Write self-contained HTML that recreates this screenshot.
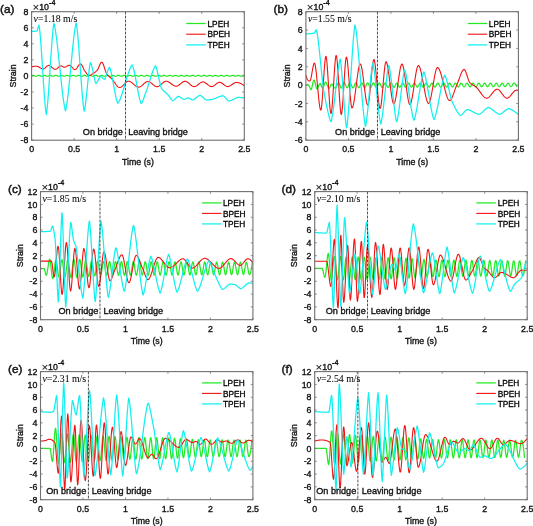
<!DOCTYPE html>
<html><head><meta charset="utf-8"><style>
html,body{margin:0;padding:0;background:#fff;}
svg{display:block;will-change:transform;}
.t{font-family:"Liberation Sans", sans-serif;font-size:8.80px;fill:#111;stroke:#111;stroke-width:0.35px;}
.ob{font-size:9.1px;}
.lg{font-family:"Liberation Sans", sans-serif;font-size:8.3px;fill:#000;stroke:#000;stroke-width:0.3px;}
.lab{font-family:"Liberation Sans", sans-serif;font-size:11.8px;fill:#111;stroke:#111;stroke-width:0.45px;}
.v{font-family:"Liberation Serif", serif;font-size:9.8px;fill:#000;stroke:#000;stroke-width:0.05px;}
</style></head><body>
<svg width="533" height="526" viewBox="0 0 533 526">
<rect width="533" height="526" fill="#fff"/>
<clipPath id="cpa"><rect x="31.60" y="11.70" width="212.70" height="128.50"/></clipPath>
<g clip-path="url(#cpa)" fill="none" stroke-linejoin="round" stroke-linecap="round">
<path d="M31.60,75.80 L31.95,75.63 L32.30,75.49 L32.65,75.39 L33.00,75.35 L33.35,75.38 L33.70,75.47 L34.05,75.61 L34.40,75.78 L34.75,75.95 L35.10,76.10 L35.45,76.20 L35.80,76.25 L36.15,76.23 L36.50,76.15 L36.85,76.01 L37.20,75.85 L37.55,75.68 L37.90,75.52 L38.25,75.41 L38.60,75.35 L38.95,75.36 L39.30,75.44 L39.65,75.56 L40.00,75.73 L40.35,75.90 L40.70,76.06 L41.05,76.18 L41.40,76.24 L41.75,76.24 L42.10,76.18 L42.45,76.06 L42.80,75.90 L43.15,75.73 L43.50,75.56 L43.85,75.44 L44.20,75.36 L44.55,75.35 L44.90,75.41 L45.25,75.52 L45.60,75.68 L45.95,75.85 L46.30,76.01 L46.65,76.15 L47.00,76.23 L47.35,76.25 L47.70,76.20 L48.05,76.10 L48.40,75.95 L48.75,75.78 L49.10,75.61 L49.45,75.47 L49.80,75.38 L50.15,75.35 L50.50,75.39 L50.85,75.49 L51.20,75.63 L51.55,75.80 L51.90,75.97 L52.25,76.11 L52.60,76.21 L52.95,76.25 L53.30,76.22 L53.65,76.13 L54.00,75.99 L54.35,75.82 L54.70,75.65 L55.05,75.50 L55.40,75.40 L55.75,75.35 L56.10,75.37 L56.45,75.45 L56.80,75.59 L57.15,75.75 L57.50,75.92 L57.85,76.08 L58.20,76.19 L58.55,76.25 L58.90,76.24 L59.25,76.16 L59.60,76.04 L59.95,75.87 L60.30,75.70 L60.65,75.54 L61.00,75.42 L61.35,75.36 L61.70,75.36 L62.05,75.42 L62.40,75.54 L62.75,75.70 L63.10,75.87 L63.45,76.04 L63.80,76.16 L64.15,76.24 L64.50,76.25 L64.85,76.19 L65.20,76.08 L65.55,75.92 L65.90,75.75 L66.25,75.59 L66.60,75.45 L66.95,75.37 L67.30,75.35 L67.65,75.40 L68.00,75.50 L68.35,75.65 L68.70,75.82 L69.05,75.99 L69.40,76.13 L69.75,76.22 L70.10,76.25 L70.45,76.21 L70.80,76.11 L71.15,75.97 L71.50,75.80 L71.85,75.63 L72.20,75.49 L72.55,75.39 L72.90,75.35 L73.25,75.38 L73.60,75.47 L73.95,75.61 L74.30,75.78 L74.65,75.95 L75.00,76.10 L75.35,76.20 L75.70,76.25 L76.05,76.23 L76.40,76.15 L76.75,76.01 L77.10,75.85 L77.45,75.68 L77.80,75.52 L78.15,75.41 L78.50,75.35 L78.85,75.36 L79.20,75.44 L79.55,75.56 L79.90,75.73 L80.25,75.90 L80.60,76.06 L80.95,76.18 L81.30,76.24 L81.65,76.24 L82.00,76.18 L82.35,76.06 L82.70,75.90 L83.05,75.73 L83.40,75.56 L83.75,75.44 L84.10,75.36 L84.45,75.35 L84.80,75.41 L85.15,75.52 L85.50,75.68 L85.85,75.85 L86.20,76.01 L86.55,76.15 L86.90,76.23 L87.25,76.25 L87.60,76.20 L87.95,76.10 L88.30,75.95 L88.65,75.78 L89.00,75.61 L89.35,75.47 L89.70,75.38 L90.05,75.35 L90.40,75.39 L90.75,75.49 L91.10,75.63 L91.45,75.80 L91.80,75.97 L92.15,76.11 L92.50,76.21 L92.85,76.25 L93.20,76.22 L93.55,76.13 L93.90,75.99 L94.25,75.82 L94.60,75.65 L94.95,75.50 L95.30,75.40 L95.65,75.35 L96.00,75.37 L96.35,75.45 L96.70,75.59 L97.05,75.75 L97.40,75.92 L97.75,76.08 L98.10,76.19 L98.45,76.25 L98.80,76.24 L99.15,76.16 L99.50,76.04 L99.85,75.87 L100.20,75.70 L100.55,75.54 L100.90,75.42 L101.25,75.36 L101.60,75.36 L101.95,75.42 L102.30,75.54 L102.65,75.70 L103.00,75.87 L103.35,76.04 L103.70,76.16 L104.05,76.24 L104.40,76.25 L104.75,76.19 L105.10,76.08 L105.45,75.92 L105.80,75.75 L106.15,75.59 L106.50,75.45 L106.85,75.37 L107.20,75.35 L107.55,75.40 L107.90,75.50 L108.25,75.65 L108.60,75.82 L108.95,75.99 L109.30,76.13 L109.65,76.22 L110.00,76.25 L110.35,76.21 L110.70,76.11 L111.05,75.97 L111.40,75.80 L111.75,75.63 L112.10,75.49 L112.45,75.39 L112.80,75.35 L113.15,75.38 L113.50,75.47 L113.85,75.61 L114.20,75.78 L114.55,75.95 L114.90,76.10 L115.25,76.20 L115.60,76.25 L115.95,76.23 L116.30,76.15 L116.65,76.01 L117.00,75.85 L117.35,75.68 L117.70,75.52 L118.05,75.41 L118.40,75.35 L118.75,75.36 L119.10,75.44 L119.45,75.56 L119.80,75.73 L120.15,75.90 L120.50,76.06 L120.85,76.18 L121.20,76.24 L121.55,76.24 L121.90,76.18 L122.25,76.06 L122.60,75.90 L122.95,75.73 L123.30,75.56 L123.65,75.44 L124.00,75.36 L124.35,75.35 L124.70,75.41 L125.05,75.52 L125.40,75.68 L125.75,75.85 L126.10,76.01 L126.45,76.15 L126.80,76.23 L127.15,76.25 L127.50,76.20 L127.85,76.10 L128.20,75.95 L128.55,75.78 L128.90,75.61 L129.25,75.47 L129.60,75.38 L129.95,75.35 L130.30,75.39 L130.65,75.49 L131.00,75.63 L131.35,75.80 L131.70,75.97 L132.05,76.11 L132.40,76.21 L132.75,76.25 L133.10,76.22 L133.45,76.13 L133.80,75.99 L134.15,75.82 L134.50,75.65 L134.85,75.50 L135.20,75.40 L135.55,75.35 L135.90,75.37 L136.25,75.45 L136.60,75.59 L136.95,75.75 L137.30,75.92 L137.65,76.08 L138.00,76.19 L138.35,76.25 L138.70,76.24 L139.05,76.16 L139.40,76.04 L139.75,75.87 L140.10,75.70 L140.45,75.54 L140.80,75.42 L141.15,75.36 L141.50,75.36 L141.85,75.42 L142.20,75.54 L142.55,75.70 L142.90,75.87 L143.25,76.04 L143.60,76.16 L143.95,76.24 L144.30,76.25 L144.65,76.19 L145.00,76.08 L145.35,75.92 L145.70,75.75 L146.05,75.59 L146.40,75.45 L146.75,75.37 L147.10,75.35 L147.45,75.40 L147.80,75.50 L148.15,75.65 L148.50,75.82 L148.85,75.99 L149.20,76.13 L149.55,76.22 L149.90,76.25 L150.25,76.21 L150.60,76.11 L150.95,75.97 L151.30,75.80 L151.65,75.63 L152.00,75.49 L152.35,75.39 L152.70,75.35 L153.05,75.38 L153.40,75.47 L153.75,75.61 L154.10,75.78 L154.45,75.95 L154.80,76.10 L155.15,76.20 L155.50,76.25 L155.85,76.23 L156.20,76.15 L156.55,76.01 L156.90,75.85 L157.25,75.68 L157.60,75.52 L157.95,75.41 L158.30,75.35 L158.65,75.36 L159.00,75.44 L159.35,75.56 L159.70,75.73 L160.05,75.90 L160.40,76.06 L160.75,76.18 L161.10,76.24 L161.45,76.24 L161.80,76.18 L162.15,76.06 L162.50,75.90 L162.85,75.73 L163.20,75.56 L163.55,75.44 L163.90,75.36 L164.25,75.35 L164.60,75.41 L164.95,75.52 L165.30,75.68 L165.65,75.85 L166.00,76.01 L166.35,76.15 L166.70,76.23 L167.05,76.25 L167.40,76.20 L167.75,76.10 L168.10,75.95 L168.45,75.78 L168.80,75.61 L169.15,75.47 L169.50,75.38 L169.85,75.35 L170.20,75.39 L170.55,75.49 L170.90,75.63 L171.25,75.80 L171.60,75.97 L171.95,76.11 L172.30,76.21 L172.65,76.25 L173.00,76.22 L173.35,76.13 L173.70,75.99 L174.05,75.82 L174.40,75.65 L174.75,75.50 L175.10,75.40 L175.45,75.35 L175.80,75.37 L176.15,75.45 L176.50,75.59 L176.85,75.75 L177.20,75.92 L177.55,76.08 L177.90,76.19 L178.25,76.25 L178.60,76.24 L178.95,76.16 L179.30,76.04 L179.65,75.87 L180.00,75.70 L180.35,75.54 L180.70,75.42 L181.05,75.36 L181.40,75.36 L181.75,75.42 L182.10,75.54 L182.45,75.70 L182.80,75.87 L183.15,76.04 L183.50,76.16 L183.85,76.24 L184.20,76.25 L184.55,76.19 L184.90,76.08 L185.25,75.92 L185.60,75.75 L185.95,75.59 L186.30,75.45 L186.65,75.37 L187.00,75.35 L187.35,75.40 L187.70,75.50 L188.05,75.65 L188.40,75.82 L188.75,75.99 L189.10,76.13 L189.45,76.22 L189.80,76.25 L190.15,76.21 L190.50,76.11 L190.85,75.97 L191.20,75.80 L191.55,75.63 L191.90,75.49 L192.25,75.39 L192.60,75.35 L192.95,75.38 L193.30,75.47 L193.65,75.61 L194.00,75.78 L194.35,75.95 L194.70,76.10 L195.05,76.20 L195.40,76.25 L195.75,76.23 L196.10,76.15 L196.45,76.01 L196.80,75.85 L197.15,75.68 L197.50,75.52 L197.85,75.41 L198.20,75.35 L198.55,75.36 L198.90,75.44 L199.25,75.56 L199.60,75.73 L199.95,75.90 L200.30,76.06 L200.65,76.18 L201.00,76.24 L201.35,76.24 L201.70,76.18 L202.05,76.06 L202.40,75.90 L202.75,75.73 L203.10,75.56 L203.45,75.44 L203.80,75.36 L204.15,75.35 L204.50,75.41 L204.85,75.52 L205.20,75.68 L205.55,75.85 L205.90,76.01 L206.25,76.15 L206.60,76.23 L206.95,76.25 L207.30,76.20 L207.65,76.10 L208.00,75.95 L208.35,75.78 L208.70,75.61 L209.05,75.47 L209.40,75.38 L209.75,75.35 L210.10,75.39 L210.45,75.49 L210.80,75.63 L211.15,75.80 L211.50,75.97 L211.85,76.11 L212.20,76.21 L212.55,76.25 L212.90,76.22 L213.25,76.13 L213.60,75.99 L213.95,75.82 L214.30,75.65 L214.65,75.50 L215.00,75.40 L215.35,75.35 L215.70,75.37 L216.05,75.45 L216.40,75.59 L216.75,75.75 L217.10,75.92 L217.45,76.08 L217.80,76.19 L218.15,76.25 L218.50,76.24 L218.85,76.16 L219.20,76.04 L219.55,75.87 L219.90,75.70 L220.25,75.54 L220.60,75.42 L220.95,75.36 L221.30,75.36 L221.65,75.42 L222.00,75.54 L222.35,75.70 L222.70,75.87 L223.05,76.04 L223.40,76.16 L223.75,76.24 L224.10,76.25 L224.45,76.19 L224.80,76.08 L225.15,75.92 L225.50,75.75 L225.85,75.59 L226.20,75.45 L226.55,75.37 L226.90,75.35 L227.25,75.40 L227.60,75.50 L227.95,75.65 L228.30,75.82 L228.65,75.99 L229.00,76.13 L229.35,76.22 L229.70,76.25 L230.05,76.21 L230.40,76.11 L230.75,75.97 L231.10,75.80 L231.45,75.63 L231.80,75.49 L232.15,75.39 L232.50,75.35 L232.85,75.38 L233.20,75.47 L233.55,75.61 L233.90,75.78 L234.25,75.95 L234.60,76.10 L234.95,76.20 L235.30,76.25 L235.65,76.23 L236.00,76.15 L236.35,76.01 L236.70,75.85 L237.05,75.68 L237.40,75.52 L237.75,75.41 L238.10,75.35 L238.45,75.36 L238.80,75.44 L239.15,75.56 L239.50,75.73 L239.85,75.90 L240.20,76.06 L240.55,76.18 L240.90,76.24 L241.25,76.24 L241.60,76.18 L241.95,76.06 L242.30,75.90 L242.65,75.73 L243.00,75.56 L243.35,75.44 L243.70,75.36 L244.05,75.35 L244.40,75.41 L244.75,75.52" stroke="#22ea22" stroke-width="1.25"/>
<path d="M31.60,67.00 L31.95,66.87 L32.30,66.75 L32.65,66.65 L33.00,66.56 L33.35,66.48 L33.70,66.41 L34.05,66.35 L34.40,66.30 L34.75,66.27 L35.10,66.24 L35.45,66.22 L35.80,66.20 L36.15,66.20 L36.50,66.21 L36.85,66.26 L37.20,66.35 L37.55,66.46 L37.90,66.59 L38.25,66.75 L38.60,66.92 L38.95,67.10 L39.30,67.29 L39.65,67.49 L40.00,67.69 L40.35,67.89 L40.70,68.08 L41.05,68.26 L41.40,68.42 L41.75,68.57 L42.10,68.69 L42.45,68.79 L42.80,68.86 L43.15,68.90 L43.50,68.89 L43.85,68.79 L44.20,68.63 L44.55,68.41 L44.90,68.14 L45.25,67.83 L45.60,67.49 L45.95,67.15 L46.30,66.81 L46.65,66.47 L47.00,66.16 L47.35,65.89 L47.70,65.67 L48.05,65.51 L48.40,65.41 L48.75,65.41 L49.10,65.46 L49.45,65.57 L49.80,65.73 L50.15,65.93 L50.50,66.16 L50.85,66.42 L51.20,66.71 L51.55,67.00 L51.90,67.31 L52.25,67.61 L52.60,67.91 L52.95,68.20 L53.30,68.46 L53.65,68.71 L54.00,68.92 L54.35,69.09 L54.70,69.21 L55.05,69.28 L55.40,69.30 L55.75,69.24 L56.10,69.12 L56.45,68.94 L56.80,68.72 L57.15,68.46 L57.50,68.17 L57.85,67.87 L58.20,67.56 L58.55,67.24 L58.90,66.94 L59.25,66.66 L59.60,66.41 L59.95,66.20 L60.30,66.04 L60.65,65.94 L61.00,65.90 L61.35,65.94 L61.70,66.05 L62.05,66.21 L62.40,66.40 L62.75,66.61 L63.10,66.81 L63.45,66.99 L63.80,67.12 L64.15,67.19 L64.50,67.19 L64.85,67.14 L65.20,67.04 L65.55,66.91 L65.90,66.76 L66.25,66.58 L66.60,66.39 L66.95,66.19 L67.30,66.00 L67.65,65.82 L68.00,65.65 L68.35,65.51 L68.70,65.40 L69.05,65.33 L69.40,65.30 L69.75,65.35 L70.10,65.48 L70.45,65.70 L70.80,65.97 L71.15,66.30 L71.50,66.66 L71.85,67.05 L72.20,67.45 L72.55,67.85 L72.90,68.24 L73.25,68.60 L73.60,68.93 L73.95,69.20 L74.30,69.42 L74.65,69.55 L75.00,69.60 L75.35,69.53 L75.70,69.35 L76.05,69.06 L76.40,68.68 L76.75,68.24 L77.10,67.74 L77.45,67.21 L77.80,66.67 L78.15,66.13 L78.50,65.61 L78.85,65.13 L79.20,64.70 L79.55,64.35 L79.90,64.09 L80.25,63.93 L80.60,63.91 L80.95,64.06 L81.30,64.37 L81.65,64.83 L82.00,65.41 L82.35,66.07 L82.70,66.79 L83.05,67.56 L83.40,68.33 L83.75,69.10 L84.10,69.82 L84.45,70.47 L84.80,71.03 L85.15,71.49 L85.50,71.95 L85.85,72.42 L86.20,72.89 L86.55,73.36 L86.90,73.81 L87.25,74.23 L87.60,74.60 L87.95,74.93 L88.30,75.19 L88.65,75.38 L89.00,75.48 L89.35,75.50 L89.70,75.45 L90.05,75.35 L90.40,75.22 L90.75,75.05 L91.10,74.86 L91.45,74.64 L91.80,74.41 L92.15,74.16 L92.50,73.92 L92.85,73.67 L93.20,73.43 L93.55,73.20 L93.90,72.97 L94.25,72.74 L94.60,72.50 L94.95,72.24 L95.30,71.97 L95.65,71.69 L96.00,71.39 L96.35,71.07 L96.70,70.73 L97.05,70.36 L97.40,69.95 L97.75,69.40 L98.10,68.73 L98.45,67.97 L98.80,67.15 L99.15,66.30 L99.50,65.46 L99.85,64.65 L100.20,63.91 L100.55,63.26 L100.90,62.74 L101.25,62.38 L101.60,62.21 L101.95,62.26 L102.30,62.56 L102.65,63.05 L103.00,63.73 L103.35,64.55 L103.70,65.49 L104.05,66.52 L104.40,67.60 L104.75,68.71 L105.10,69.81 L105.45,70.88 L105.80,71.88 L106.15,72.78 L106.50,73.56 L106.85,74.19 L107.20,74.65 L107.55,75.06 L107.90,75.43 L108.25,75.77 L108.60,76.09 L108.95,76.39 L109.30,76.67 L109.65,76.95 L110.00,77.22 L110.35,77.50 L110.70,77.79 L111.05,78.09 L111.40,78.41 L111.75,78.75 L112.10,79.14 L112.45,79.56 L112.80,80.00 L113.15,80.47 L113.50,80.97 L113.85,81.47 L114.20,81.99 L114.55,82.51 L114.90,83.03 L115.25,83.54 L115.60,84.04 L115.95,84.53 L116.30,85.00 L116.65,85.44 L117.00,85.86 L117.35,86.24 L117.70,86.57 L118.05,86.87 L118.40,87.11 L118.75,87.30 L119.10,87.43 L119.45,87.49 L119.80,87.49 L120.15,87.43 L120.50,87.32 L120.85,87.16 L121.20,86.96 L121.55,86.73 L121.90,86.46 L122.25,86.16 L122.60,85.84 L122.95,85.49 L123.30,85.14 L123.65,84.77 L124.00,84.40 L124.35,84.03 L124.70,83.66 L125.05,83.31 L125.40,82.96 L125.75,82.63 L126.10,82.33 L126.45,82.05 L126.80,81.80 L127.15,81.59 L127.50,81.42 L127.85,81.30 L128.20,81.22 L128.55,81.20 L128.90,81.23 L129.25,81.29 L129.60,81.39 L129.95,81.52 L130.30,81.69 L130.65,81.88 L131.00,82.09 L131.35,82.32 L131.70,82.58 L132.05,82.85 L132.40,83.13 L132.75,83.42 L133.10,83.72 L133.45,84.02 L133.80,84.32 L134.15,84.63 L134.50,84.92 L134.85,85.21 L135.20,85.49 L135.55,85.76 L135.90,86.01 L136.25,86.24 L136.60,86.45 L136.95,86.64 L137.30,86.80 L137.65,86.93 L138.00,87.02 L138.35,87.08 L138.70,87.10 L139.05,87.08 L139.40,87.01 L139.75,86.90 L140.10,86.75 L140.45,86.57 L140.80,86.36 L141.15,86.12 L141.50,85.86 L141.85,85.58 L142.20,85.29 L142.55,84.98 L142.90,84.66 L143.25,84.35 L143.60,84.03 L143.95,83.71 L144.30,83.40 L144.65,83.10 L145.00,82.82 L145.35,82.55 L145.70,82.31 L146.05,82.09 L146.40,81.90 L146.75,81.74 L147.10,81.62 L147.45,81.54 L147.80,81.50 L148.15,81.51 L148.50,81.56 L148.85,81.66 L149.20,81.79 L149.55,81.95 L149.90,82.14 L150.25,82.36 L150.60,82.60 L150.95,82.86 L151.30,83.14 L151.65,83.42 L152.00,83.72 L152.35,84.01 L152.70,84.31 L153.05,84.61 L153.40,84.90 L153.75,85.18 L154.10,85.45 L154.45,85.70 L154.80,85.94 L155.15,86.14 L155.50,86.32 L155.85,86.47 L156.20,86.59 L156.55,86.66 L156.90,86.70 L157.25,86.69 L157.60,86.63 L157.95,86.54 L158.30,86.40 L158.65,86.23 L159.00,86.03 L159.35,85.81 L159.70,85.56 L160.05,85.29 L160.40,85.00 L160.75,84.70 L161.10,84.40 L161.45,84.08 L161.80,83.77 L162.15,83.46 L162.50,83.15 L162.85,82.86 L163.20,82.57 L163.55,82.31 L163.90,82.06 L164.25,81.84 L164.60,81.64 L164.95,81.48 L165.30,81.35 L165.65,81.26 L166.00,81.21 L166.35,81.20 L166.70,81.24 L167.05,81.30 L167.40,81.40 L167.75,81.53 L168.10,81.68 L168.45,81.86 L168.80,82.05 L169.15,82.27 L169.50,82.50 L169.85,82.74 L170.20,82.99 L170.55,83.25 L170.90,83.51 L171.25,83.78 L171.60,84.04 L171.95,84.30 L172.30,84.56 L172.65,84.80 L173.00,85.04 L173.35,85.26 L173.70,85.46 L174.05,85.65 L174.40,85.81 L174.75,85.95 L175.10,86.06 L175.45,86.14 L175.80,86.19 L176.15,86.20 L176.50,86.17 L176.85,86.10 L177.20,85.99 L177.55,85.85 L177.90,85.68 L178.25,85.48 L178.60,85.26 L178.95,85.01 L179.30,84.76 L179.65,84.48 L180.00,84.20 L180.35,83.92 L180.70,83.63 L181.05,83.34 L181.40,83.06 L181.75,82.78 L182.10,82.52 L182.45,82.28 L182.80,82.05 L183.15,81.85 L183.50,81.67 L183.85,81.52 L184.20,81.41 L184.55,81.34 L184.90,81.30 L185.25,81.31 L185.60,81.36 L185.95,81.46 L186.30,81.59 L186.65,81.75 L187.00,81.94 L187.35,82.16 L187.70,82.40 L188.05,82.66 L188.40,82.94 L188.75,83.22 L189.10,83.52 L189.45,83.82 L189.80,84.12 L190.15,84.42 L190.50,84.72 L190.85,85.00 L191.20,85.28 L191.55,85.53 L191.90,85.77 L192.25,85.99 L192.60,86.17 L192.95,86.33 L193.30,86.46 L193.65,86.55 L194.00,86.59 L194.35,86.60 L194.70,86.56 L195.05,86.47 L195.40,86.36 L195.75,86.21 L196.10,86.03 L196.45,85.82 L196.80,85.59 L197.15,85.35 L197.50,85.08 L197.85,84.81 L198.20,84.53 L198.55,84.25 L198.90,83.97 L199.25,83.69 L199.60,83.42 L199.95,83.15 L200.30,82.91 L200.65,82.68 L201.00,82.47 L201.35,82.29 L201.70,82.14 L202.05,82.03 L202.40,81.94 L202.75,81.90 L203.10,81.91 L203.45,81.95 L203.80,82.04 L204.15,82.16 L204.50,82.32 L204.85,82.50 L205.20,82.71 L205.55,82.94 L205.90,83.19 L206.25,83.45 L206.60,83.73 L206.95,84.01 L207.30,84.29 L207.65,84.57 L208.00,84.85 L208.35,85.12 L208.70,85.38 L209.05,85.63 L209.40,85.85 L209.75,86.05 L210.10,86.23 L210.45,86.38 L210.80,86.49 L211.15,86.56 L211.50,86.60 L211.85,86.59 L212.20,86.53 L212.55,86.43 L212.90,86.30 L213.25,86.13 L213.60,85.93 L213.95,85.70 L214.30,85.46 L214.65,85.20 L215.00,84.93 L215.35,84.65 L215.70,84.37 L216.05,84.09 L216.40,83.81 L216.75,83.55 L217.10,83.30 L217.45,83.06 L217.80,82.86 L218.15,82.67 L218.50,82.52 L218.85,82.41 L219.20,82.33 L219.55,82.30 L219.90,82.32 L220.25,82.38 L220.60,82.48 L220.95,82.62 L221.30,82.79 L221.65,82.99 L222.00,83.21 L222.35,83.45 L222.70,83.71 L223.05,83.98 L223.40,84.25 L223.75,84.53 L224.10,84.81 L224.45,85.08 L224.80,85.34 L225.15,85.59 L225.50,85.82 L225.85,86.03 L226.20,86.21 L226.55,86.36 L226.90,86.48 L227.25,86.56 L227.60,86.60 L227.95,86.59 L228.30,86.54 L228.65,86.46 L229.00,86.35 L229.35,86.21 L229.70,86.04 L230.05,85.85 L230.40,85.64 L230.75,85.42 L231.10,85.18 L231.45,84.94 L231.80,84.69 L232.15,84.44 L232.50,84.19 L232.85,83.95 L233.20,83.71 L233.55,83.49 L233.90,83.28 L234.25,83.09 L234.60,82.92 L234.95,82.77 L235.30,82.65 L235.65,82.57 L236.00,82.51 L236.35,82.50 L236.70,82.51 L237.05,82.53 L237.40,82.56 L237.75,82.61 L238.10,82.66 L238.45,82.73 L238.80,82.82 L239.15,82.91 L239.50,83.02 L239.85,83.14 L240.20,83.27 L240.55,83.42 L240.90,83.58 L241.25,83.75 L241.60,83.94 L241.95,84.14 L242.30,84.35 L242.65,84.57 L243.00,84.81 L243.35,85.06 L243.70,85.33 L244.05,85.61 L244.40,85.90" stroke="#f21212" stroke-width="1.10"/>
<path d="M31.60,31.50 L31.95,31.48 L32.30,31.47 L32.65,31.45 L33.00,31.43 L33.35,31.40 L33.70,31.38 L34.05,31.35 L34.40,31.32 L34.75,31.29 L35.10,31.25 L35.45,31.21 L35.80,31.17 L36.15,31.12 L36.50,31.07 L36.85,31.02 L37.20,30.62 L37.55,29.61 L37.90,28.35 L38.25,27.04 L38.60,25.88 L38.95,25.07 L39.30,26.90 L39.65,29.70 L40.00,33.05 L40.35,36.90 L40.70,41.18 L41.05,45.82 L41.40,50.76 L41.75,55.93 L42.10,61.28 L42.45,66.72 L42.80,72.20 L43.15,77.65 L43.50,83.01 L43.85,88.21 L44.20,93.19 L44.55,97.88 L44.90,102.21 L45.25,106.13 L45.60,109.56 L45.95,112.44 L46.30,114.70 L46.65,112.49 L47.00,109.69 L47.35,106.38 L47.70,102.59 L48.05,98.41 L48.40,93.87 L48.75,89.05 L49.10,84.00 L49.45,78.79 L49.80,73.46 L50.15,68.08 L50.50,62.71 L50.85,57.41 L51.20,52.23 L51.55,47.24 L51.90,42.50 L52.25,38.06 L52.60,33.98 L52.95,30.33 L53.30,27.15 L53.65,24.52 L54.00,23.35 L54.35,24.75 L54.70,26.39 L55.05,28.26 L55.40,30.35 L55.75,32.63 L56.10,35.09 L56.45,37.71 L56.80,40.48 L57.15,43.39 L57.50,46.41 L57.85,49.53 L58.20,52.73 L58.55,56.01 L58.90,59.34 L59.25,62.70 L59.60,66.08 L59.95,69.47 L60.30,72.85 L60.65,76.20 L61.00,79.50 L61.35,82.75 L61.70,85.92 L62.05,89.00 L62.40,91.97 L62.75,94.82 L63.10,97.53 L63.45,100.09 L63.80,102.47 L64.15,104.67 L64.50,106.66 L64.85,108.44 L65.20,109.98 L65.55,110.91 L65.90,109.41 L66.25,107.62 L66.60,105.57 L66.95,103.26 L67.30,100.73 L67.65,97.99 L68.00,95.07 L68.35,91.97 L68.70,88.73 L69.05,85.37 L69.40,81.90 L69.75,78.34 L70.10,74.73 L70.45,71.06 L70.80,67.38 L71.15,63.69 L71.50,60.02 L71.85,56.38 L72.20,52.81 L72.55,49.31 L72.90,45.92 L73.25,42.64 L73.60,39.50 L73.95,36.53 L74.30,33.73 L74.65,31.14 L75.00,28.77 L75.35,26.64 L75.70,24.77 L76.05,23.19 L76.40,23.69 L76.75,26.02 L77.10,28.83 L77.45,32.08 L77.80,35.72 L78.15,39.69 L78.50,43.95 L78.85,48.45 L79.20,53.14 L79.55,57.97 L79.90,62.90 L80.25,67.86 L80.60,72.82 L80.95,77.72 L81.30,82.52 L81.65,87.16 L82.00,91.59 L82.35,95.78 L82.70,99.66 L83.05,103.19 L83.40,106.32 L83.75,109.00 L84.10,111.18 L84.45,110.69 L84.80,108.88 L85.15,106.67 L85.50,104.10 L85.85,101.24 L86.20,98.14 L86.55,94.85 L86.90,91.44 L87.25,87.95 L87.60,84.45 L87.95,80.99 L88.30,77.62 L88.65,74.41 L89.00,71.40 L89.35,68.66 L89.70,66.23 L90.05,64.19 L90.40,62.57 L90.75,62.71 L91.10,63.63 L91.45,64.78 L91.80,66.12 L92.15,67.61 L92.50,69.21 L92.85,70.88 L93.20,72.60 L93.55,74.33 L93.90,76.02 L94.25,77.65 L94.60,79.17 L94.95,80.55 L95.30,81.76 L95.65,82.75 L96.00,83.50 L96.35,83.19 L96.70,82.76 L97.05,82.24 L97.40,81.64 L97.75,80.98 L98.10,80.30 L98.45,79.60 L98.80,78.91 L99.15,78.25 L99.50,77.65 L99.85,77.11 L100.20,76.67 L100.55,76.34 L100.90,76.44 L101.25,76.68 L101.60,76.98 L101.95,77.32 L102.30,77.69 L102.65,78.06 L103.00,78.43 L103.35,78.77 L103.70,79.08 L104.05,79.33 L104.40,79.50 L104.75,79.03 L105.10,78.39 L105.45,77.62 L105.80,76.73 L106.15,75.76 L106.50,74.72 L106.85,73.66 L107.20,72.58 L107.55,71.53 L107.90,70.52 L108.25,69.58 L108.60,68.73 L108.95,68.02 L109.30,67.45 L109.65,67.51 L110.00,68.39 L110.35,69.45 L110.70,70.68 L111.05,72.07 L111.40,73.58 L111.75,75.21 L112.10,76.94 L112.45,78.75 L112.80,80.62 L113.15,82.53 L113.50,84.47 L113.85,86.41 L114.20,88.35 L114.55,90.25 L114.90,92.12 L115.25,93.91 L115.60,95.63 L115.95,97.24 L116.30,98.74 L116.65,100.10 L117.00,101.31 L117.35,102.35 L117.70,103.20 L118.05,103.08 L118.40,102.57 L118.75,101.99 L119.10,101.34 L119.45,100.64 L119.80,99.87 L120.15,99.05 L120.50,98.18 L120.85,97.27 L121.20,96.31 L121.55,95.31 L121.90,94.27 L122.25,93.20 L122.60,92.11 L122.95,90.98 L123.30,89.84 L123.65,88.68 L124.00,87.50 L124.35,86.32 L124.70,85.12 L125.05,83.93 L125.40,82.73 L125.75,81.54 L126.10,80.36 L126.45,79.19 L126.80,78.03 L127.15,76.89 L127.50,75.78 L127.85,74.69 L128.20,73.63 L128.55,72.60 L128.90,71.61 L129.25,70.67 L129.60,69.76 L129.95,68.91 L130.30,68.10 L130.65,67.35 L131.00,66.67 L131.35,66.04 L131.70,65.48 L132.05,64.99 L132.40,65.22 L132.75,66.10 L133.10,67.15 L133.45,68.35 L133.80,69.70 L134.15,71.17 L134.50,72.75 L134.85,74.43 L135.20,76.18 L135.55,78.00 L135.90,79.87 L136.25,81.78 L136.60,83.70 L136.95,85.63 L137.30,87.54 L137.65,89.43 L138.00,91.29 L138.35,93.08 L138.70,94.80 L139.05,96.44 L139.40,97.97 L139.75,99.39 L140.10,100.68 L140.45,101.82 L140.80,102.80 L141.15,103.60 L141.50,103.32 L141.85,102.77 L142.20,102.12 L142.55,101.37 L142.90,100.54 L143.25,99.66 L143.60,98.71 L143.95,97.73 L144.30,96.73 L144.65,95.71 L145.00,94.69 L145.35,93.69 L145.70,92.72 L146.05,91.78 L146.40,90.86 L146.75,89.89 L147.10,88.88 L147.45,87.84 L147.80,86.77 L148.15,85.67 L148.50,84.56 L148.85,83.44 L149.20,82.31 L149.55,81.17 L149.90,80.04 L150.25,78.91 L150.60,77.79 L150.95,76.69 L151.30,75.60 L151.65,74.55 L152.00,73.52 L152.35,72.52 L152.70,71.57 L153.05,70.66 L153.40,69.79 L153.75,68.98 L154.10,68.23 L154.45,67.54 L154.80,66.92 L155.15,66.37 L155.50,65.90 L155.85,66.60 L156.20,67.49 L156.55,68.56 L156.90,69.77 L157.25,71.11 L157.60,72.55 L157.95,74.07 L158.30,75.65 L158.65,77.25 L159.00,78.86 L159.35,80.46 L159.70,82.01 L160.05,83.51 L160.40,84.91 L160.75,86.21 L161.10,87.37 L161.45,88.37 L161.80,88.88 L162.15,89.29 L162.50,89.68 L162.85,90.06 L163.20,90.41 L163.55,90.75 L163.90,91.08 L164.25,91.39 L164.60,91.70 L164.95,92.01 L165.30,92.31 L165.65,92.61 L166.00,92.91 L166.35,93.22 L166.70,93.53 L167.05,93.86 L167.40,94.20 L167.75,94.55 L168.10,94.96 L168.45,95.42 L168.80,95.90 L169.15,96.41 L169.50,96.92 L169.85,97.44 L170.20,97.95 L170.55,98.44 L170.90,98.92 L171.25,99.36 L171.60,99.77 L171.95,100.13 L172.30,100.43 L172.65,100.67 L173.00,100.58 L173.35,100.39 L173.70,100.17 L174.05,99.91 L174.40,99.62 L174.75,99.31 L175.10,98.98 L175.45,98.65 L175.80,98.31 L176.15,97.97 L176.50,97.65 L176.85,97.34 L177.20,97.05 L177.55,96.80 L177.90,96.58 L178.25,96.40 L178.60,96.33 L178.95,96.45 L179.30,96.61 L179.65,96.80 L180.00,97.01 L180.35,97.24 L180.70,97.49 L181.05,97.74 L181.40,98.00 L181.75,98.25 L182.10,98.49 L182.45,98.72 L182.80,98.93 L183.15,99.12 L183.50,99.27 L183.85,99.39 L184.20,99.34 L184.55,99.25 L184.90,99.14 L185.25,99.01 L185.60,98.86 L185.95,98.72 L186.30,98.56 L186.65,98.41 L187.00,98.27 L187.35,98.14 L187.70,98.03 L188.05,97.95 L188.40,97.92 L188.75,98.03 L189.10,98.18 L189.45,98.36 L189.80,98.55 L190.15,98.76 L190.50,98.98 L190.85,99.20 L191.20,99.40 L191.55,99.60 L191.90,99.76 L192.25,99.90 L192.60,100.00 L192.95,99.88 L193.30,99.74 L193.65,99.57 L194.00,99.37 L194.35,99.15 L194.70,98.91 L195.05,98.66 L195.40,98.40 L195.75,98.13 L196.10,97.85 L196.45,97.57 L196.80,97.29 L197.15,97.02 L197.50,96.75 L197.85,96.49 L198.20,96.25 L198.55,96.02 L198.90,95.82 L199.25,95.63 L199.60,95.47 L199.95,95.35 L200.30,95.37 L200.65,95.53 L201.00,95.73 L201.35,95.96 L201.70,96.21 L202.05,96.49 L202.40,96.79 L202.75,97.10 L203.10,97.42 L203.45,97.74 L203.80,98.06 L204.15,98.38 L204.50,98.68 L204.85,98.97 L205.20,99.24 L205.55,99.48 L205.90,99.69 L206.25,99.86 L206.60,100.00 L206.95,99.98 L207.30,99.96 L207.65,99.94 L208.00,99.92 L208.35,99.89 L208.70,99.86 L209.05,99.83 L209.40,99.79 L209.75,99.76 L210.10,99.72 L210.45,99.68 L210.80,99.64 L211.15,99.60 L211.50,99.56 L211.85,99.52 L212.20,99.45 L212.55,99.36 L212.90,99.26 L213.25,99.15 L213.60,99.03 L213.95,98.91 L214.30,98.78 L214.65,98.65 L215.00,98.51 L215.35,98.37 L215.70,98.23 L216.05,98.08 L216.40,97.93 L216.75,97.78 L217.10,97.63 L217.45,97.48 L217.80,97.33 L218.15,97.18 L218.50,97.03 L218.85,96.89 L219.20,96.75 L219.55,96.62 L219.90,96.49 L220.25,96.36 L220.60,96.25 L220.95,96.14 L221.30,96.03 L221.65,95.94 L222.00,95.86 L222.35,95.78 L222.70,95.72 L223.05,95.81 L223.40,96.00 L223.75,96.24 L224.10,96.51 L224.45,96.82 L224.80,97.15 L225.15,97.50 L225.50,97.86 L225.85,98.24 L226.20,98.61 L226.55,98.99 L226.90,99.35 L227.25,99.70 L227.60,100.03 L227.95,100.33 L228.30,100.60 L228.65,100.83 L229.00,101.02 L229.35,101.07 L229.70,100.98 L230.05,100.88 L230.40,100.76 L230.75,100.63 L231.10,100.49 L231.45,100.33 L231.80,100.17 L232.15,99.99 L232.50,99.81 L232.85,99.63 L233.20,99.44 L233.55,99.25 L233.90,99.06 L234.25,98.87 L234.60,98.69 L234.95,98.51 L235.30,98.33 L235.65,98.17 L236.00,98.01 L236.35,97.87 L236.70,97.74 L237.05,97.62 L237.40,97.52 L237.75,97.43 L238.10,97.41 L238.45,97.42 L238.80,97.43 L239.15,97.45 L239.50,97.46 L239.85,97.48 L240.20,97.50 L240.55,97.52 L240.90,97.54 L241.25,97.56 L241.60,97.59 L241.95,97.62 L242.30,97.65 L242.65,97.68 L243.00,97.72 L243.35,97.76 L243.70,97.80 L244.05,97.85 L244.40,97.90 L244.75,97.96 L245.00,98.00" stroke="#10f0f0" stroke-width="1.25"/>
</g>
<line x1="125.53" y1="11.70" x2="125.53" y2="140.20" stroke="#222" stroke-width="0.8" stroke-dasharray="2.7,1.3"/>
<path d="M31.60,140.20v-2.20M31.60,11.70v2.20M74.14,140.20v-2.20M74.14,11.70v2.20M116.68,140.20v-2.20M116.68,11.70v2.20M159.22,140.20v-2.20M159.22,11.70v2.20M201.76,140.20v-2.20M201.76,11.70v2.20M244.30,140.20v-2.20M244.30,11.70v2.20M31.60,140.20h2.20M244.30,140.20h-2.20M31.60,124.14h2.20M244.30,124.14h-2.20M31.60,108.08h2.20M244.30,108.08h-2.20M31.60,92.01h2.20M244.30,92.01h-2.20M31.60,75.95h2.20M244.30,75.95h-2.20M31.60,59.89h2.20M244.30,59.89h-2.20M31.60,43.83h2.20M244.30,43.83h-2.20M31.60,27.76h2.20M244.30,27.76h-2.20M31.60,11.70h2.20M244.30,11.70h-2.20" stroke="#777" stroke-width="0.8" fill="none"/>
<rect x="31.60" y="11.70" width="212.70" height="128.50" fill="none" stroke="#707070" stroke-width="1.1"/>
<text x="31.60" y="152.10" text-anchor="middle" class="t">0</text>
<text x="74.14" y="152.10" text-anchor="middle" class="t">0.5</text>
<text x="116.68" y="152.10" text-anchor="middle" class="t">1</text>
<text x="159.22" y="152.10" text-anchor="middle" class="t">1.5</text>
<text x="201.76" y="152.10" text-anchor="middle" class="t">2</text>
<text x="244.30" y="152.10" text-anchor="middle" class="t">2.5</text>
<text x="28.40" y="143.40" text-anchor="end" class="t">-8</text>
<text x="28.40" y="127.34" text-anchor="end" class="t">-6</text>
<text x="28.40" y="111.28" text-anchor="end" class="t">-4</text>
<text x="28.40" y="95.21" text-anchor="end" class="t">-2</text>
<text x="28.40" y="79.15" text-anchor="end" class="t">0</text>
<text x="28.40" y="63.09" text-anchor="end" class="t">2</text>
<text x="28.40" y="47.03" text-anchor="end" class="t">4</text>
<text x="28.40" y="30.96" text-anchor="end" class="t">6</text>
<text x="28.40" y="14.90" text-anchor="end" class="t">8</text>
<text x="137.95" y="164.80" text-anchor="middle" class="t">Time (s)</text>
<text transform="translate(16.00,75.95) rotate(-90)" text-anchor="middle" class="t">Strain</text>
<text x="32.50" y="9.70" class="t"><tspan font-size="11.5" dy="1.5" style="stroke-width:0.1px">&#215;</tspan><tspan dy="-1.5">10</tspan><tspan dy="-4.6" font-size="7.2">-4</tspan></text>
<text x="0.00" y="12.80" class="lab">(a)</text>
<text x="33.60" y="21.90" class="v"><tspan font-style="italic">v</tspan>=1.18 m/s</text>
<text x="122.80" y="134.60" text-anchor="end" class="t ob">On bridge</text>
<text x="128.20" y="134.60" class="t ob">Leaving bridge</text>
<line x1="186.20" y1="23.50" x2="205.70" y2="23.50" stroke="#22ea22" stroke-width="1.25"/>
<text x="207.50" y="26.60" class="lg">LPEH</text>
<line x1="186.20" y1="34.20" x2="205.70" y2="34.20" stroke="#f21212" stroke-width="1.10"/>
<text x="207.50" y="37.30" class="lg">BPEH</text>
<line x1="186.20" y1="44.90" x2="205.70" y2="44.90" stroke="#10f0f0" stroke-width="1.25"/>
<text x="207.50" y="48.00" class="lg">TPEH</text>
<clipPath id="cpb"><rect x="305.90" y="11.70" width="212.50" height="128.50"/></clipPath>
<g clip-path="url(#cpb)" fill="none" stroke-linejoin="round" stroke-linecap="round">
<path d="M305.90,84.60 L306.25,84.61 L306.60,84.63 L306.95,84.67 L307.30,84.72 L307.65,84.79 L308.00,84.87 L308.35,84.96 L308.70,85.13 L309.05,85.67 L309.40,86.46 L309.75,87.39 L310.10,88.30 L310.45,89.06 L310.80,89.52 L311.15,89.53 L311.50,88.89 L311.85,87.72 L312.20,86.22 L312.55,84.56 L312.90,82.93 L313.25,81.50 L313.60,80.47 L313.95,80.01 L314.30,80.25 L314.65,81.07 L315.00,82.31 L315.35,83.78 L315.70,85.33 L316.05,86.79 L316.40,87.97 L316.75,88.72 L317.10,88.88 L317.45,88.58 L317.80,87.97 L318.15,87.16 L318.50,86.25 L318.85,85.34 L319.20,84.53 L319.55,83.92 L319.90,83.62 L320.25,83.72 L320.60,84.21 L320.95,84.96 L321.30,85.85 L321.65,86.74 L322.00,87.49 L322.35,87.98 L322.70,88.08 L323.05,87.74 L323.40,87.05 L323.75,86.13 L324.10,85.10 L324.45,84.07 L324.80,83.15 L325.15,82.46 L325.50,82.12 L325.85,82.20 L326.20,82.63 L326.55,83.32 L326.90,84.19 L327.25,85.16 L327.60,86.14 L327.95,87.05 L328.30,87.80 L328.65,88.31 L329.00,88.50 L329.35,88.28 L329.70,87.70 L330.05,86.89 L330.40,85.99 L330.75,85.13 L331.10,84.44 L331.45,84.04 L331.80,84.04 L332.15,84.29 L332.50,84.71 L332.85,85.26 L333.20,85.87 L333.55,86.50 L333.90,87.09 L334.25,87.59 L334.60,87.94 L334.95,88.10 L335.30,88.01 L335.65,87.70 L336.00,87.21 L336.35,86.60 L336.70,85.91 L337.05,85.19 L337.40,84.50 L337.75,83.87 L338.10,83.36 L338.45,83.02 L338.80,82.90 L339.15,83.20 L339.50,83.97 L339.85,85.02 L340.20,86.14 L340.55,87.16 L340.90,87.88 L341.25,88.10 L341.60,87.84 L341.95,87.26 L342.30,86.45 L342.65,85.54 L343.00,84.60 L343.35,83.76 L343.70,83.10 L344.05,82.74 L344.40,82.77 L344.75,83.18 L345.10,83.87 L345.45,84.72 L345.80,85.65 L346.15,86.53 L346.50,87.26 L346.85,87.74 L347.20,87.85 L347.55,87.57 L347.90,86.98 L348.25,86.17 L348.60,85.27 L348.95,84.37 L349.30,83.58 L349.65,83.00 L350.00,82.74 L350.35,82.89 L350.70,83.38 L351.05,84.11 L351.40,84.98 L351.75,85.88 L352.10,86.71 L352.45,87.37 L352.80,87.75 L353.15,87.75 L353.50,87.37 L353.85,86.72 L354.20,85.90 L354.55,85.00 L354.90,84.14 L355.25,83.41 L355.60,82.93 L355.95,82.78 L356.30,83.03 L356.65,83.59 L357.00,84.35 L357.35,85.22 L357.70,86.10 L358.05,86.87 L358.40,87.45 L358.75,87.72 L359.10,87.61 L359.45,87.16 L359.80,86.46 L360.15,85.62 L360.50,84.74 L360.85,83.93 L361.20,83.27 L361.55,82.88 L361.90,82.85 L362.25,83.19 L362.60,83.81 L362.95,84.60 L363.30,85.46 L363.65,86.30 L364.00,87.01 L364.35,87.50 L364.70,87.67 L365.05,87.45 L365.40,86.93 L365.75,86.20 L366.10,85.35 L366.45,84.50 L366.80,83.74 L367.15,83.16 L367.50,82.87 L367.85,82.95 L368.20,83.37 L368.55,84.03 L368.90,84.84 L369.25,85.68 L369.60,86.48 L369.95,87.12 L370.30,87.52 L370.65,87.58 L371.00,87.27 L371.35,86.69 L371.70,85.93 L372.05,85.10 L372.40,84.28 L372.75,83.57 L373.10,83.08 L373.45,82.90 L373.80,83.08 L374.15,83.57 L374.50,84.26 L374.85,85.07 L375.20,85.89 L375.55,86.64 L375.90,87.21 L376.25,87.51 L376.60,87.46 L376.95,87.07 L377.30,86.45 L377.65,85.68 L378.00,84.85 L378.35,84.08 L378.70,83.44 L379.05,83.03 L379.40,82.95 L379.75,83.22 L380.10,83.77 L380.45,84.49 L380.80,85.29 L381.15,86.08 L381.50,86.77 L381.85,87.27 L382.20,87.47 L382.55,87.32 L382.90,86.86 L383.25,86.20 L383.60,85.42 L383.95,84.62 L384.30,83.89 L384.65,83.32 L385.00,83.01 L385.35,83.03 L385.70,83.38 L386.05,83.97 L386.40,84.71 L386.75,85.50 L387.10,86.26 L387.45,86.88 L387.80,87.29 L388.15,87.40 L388.50,87.15 L388.85,86.64 L389.20,85.96 L389.55,85.18 L389.90,84.41 L390.25,83.73 L390.60,83.24 L390.95,83.02 L391.30,83.14 L391.65,83.56 L392.00,84.18 L392.35,84.93 L392.70,85.70 L393.05,86.41 L393.40,86.97 L393.75,87.29 L394.10,87.30 L394.45,86.97 L394.80,86.42 L395.15,85.71 L395.50,84.95 L395.85,84.21 L396.20,83.59 L396.55,83.18 L396.90,83.05 L397.25,83.27 L397.60,83.74 L397.95,84.39 L398.30,85.14 L398.65,85.88 L399.00,86.54 L399.35,87.03 L399.70,87.27 L400.05,87.17 L400.40,86.78 L400.75,86.19 L401.10,85.47 L401.45,84.72 L401.80,84.02 L402.15,83.46 L402.50,83.13 L402.85,83.11 L403.20,83.40 L403.55,83.92 L403.90,84.60 L404.25,85.34 L404.60,86.06 L404.95,86.68 L405.30,87.10 L405.65,87.24 L406.00,87.05 L406.35,86.60 L406.70,85.97 L407.05,85.24 L407.40,84.50 L407.75,83.84 L408.10,83.35 L408.45,83.09 L408.80,83.17 L409.15,83.53 L409.50,84.10 L409.85,84.80 L410.20,85.54 L410.55,86.23 L410.90,86.79 L411.25,87.14 L411.60,87.18 L411.95,86.92 L412.30,86.41 L412.65,85.75 L413.00,85.01 L413.35,84.30 L413.70,83.68 L414.05,83.25 L414.40,83.09 L414.75,83.25 L415.10,83.68 L415.45,84.29 L415.80,85.00 L416.15,85.72 L416.50,86.38 L416.85,86.88 L417.20,87.15 L417.55,87.10 L417.90,86.76 L418.25,86.21 L418.60,85.52 L418.95,84.79 L419.30,84.10 L419.65,83.54 L420.00,83.18 L420.35,83.11 L420.70,83.35 L421.05,83.84 L421.40,84.48 L421.75,85.19 L422.10,85.90 L422.45,86.52 L422.80,86.96 L423.15,87.14 L423.50,87.00 L423.85,86.59 L424.20,86.00 L424.55,85.30 L424.90,84.58 L425.25,83.92 L425.60,83.41 L425.95,83.13 L426.30,83.15 L426.65,83.47 L427.00,84.00 L427.35,84.67 L427.70,85.38 L428.05,86.07 L428.40,86.64 L428.75,87.01 L429.10,87.10 L429.45,86.88 L429.80,86.41 L430.15,85.79 L430.50,85.08 L430.85,84.38 L431.20,83.76 L431.55,83.31 L431.90,83.11 L432.25,83.22 L432.60,83.61 L432.95,84.18 L433.30,84.86 L433.65,85.57 L434.00,86.22 L434.35,86.74 L434.70,87.03 L435.05,87.03 L435.40,86.74 L435.75,86.22 L436.10,85.57 L436.45,84.86 L436.80,84.18 L437.15,83.61 L437.50,83.23 L437.85,83.12 L438.20,83.31 L438.55,83.75 L438.90,84.36 L439.25,85.05 L439.60,85.74 L439.95,86.36 L440.30,86.81 L440.65,87.03 L441.00,86.94 L441.35,86.58 L441.70,86.02 L442.05,85.35 L442.40,84.65 L442.75,84.00 L443.10,83.48 L443.45,83.17 L443.80,83.15 L444.15,83.42 L444.50,83.91 L444.85,84.54 L445.20,85.24 L445.55,85.91 L445.90,86.48 L446.25,86.87 L446.60,87.01 L446.95,86.83 L447.30,86.41 L447.65,85.82 L448.00,85.14 L448.35,84.45 L448.70,83.84 L449.05,83.37 L449.40,83.14 L449.75,83.20 L450.10,83.54 L450.45,84.08 L450.80,84.73 L451.15,85.42 L451.50,86.06 L451.85,86.59 L452.20,86.91 L452.55,86.95 L452.90,86.70 L453.25,86.23 L453.60,85.61 L453.95,84.93 L454.30,84.26 L454.65,83.69 L455.00,83.28 L455.35,83.13 L455.70,83.28 L456.05,83.68 L456.40,84.25 L456.75,84.91 L457.10,85.59 L457.45,86.20 L457.80,86.67 L458.15,86.92 L458.50,86.88 L458.85,86.56 L459.20,86.04 L459.55,85.40 L459.90,84.72 L460.25,84.08 L460.60,83.55 L460.95,83.22 L461.30,83.15 L461.65,83.38 L462.00,83.83 L462.35,84.43 L462.70,85.09 L463.05,85.75 L463.40,86.33 L463.75,86.74 L464.10,86.91 L464.45,86.78 L464.80,86.40 L465.15,85.84 L465.50,85.19 L465.85,84.52 L466.20,83.91 L466.55,83.44 L466.90,83.17 L467.25,83.19 L467.60,83.49 L467.95,83.99 L468.30,84.61 L468.65,85.27 L469.00,85.91 L469.35,86.44 L469.70,86.78 L470.05,86.87 L470.40,86.66 L470.75,86.23 L471.10,85.64 L471.45,84.99 L471.80,84.33 L472.15,83.76 L472.50,83.34 L472.85,83.15 L473.20,83.26 L473.55,83.62 L473.90,84.15 L474.25,84.78 L474.60,85.44 L474.95,86.05 L475.30,86.53 L475.65,86.80 L476.00,86.80 L476.35,86.53 L476.70,86.05 L477.05,85.44 L477.40,84.79 L477.75,84.15 L478.10,83.62 L478.45,83.27 L478.80,83.16 L479.15,83.34 L479.50,83.75 L479.85,84.32 L480.20,84.96 L480.55,85.60 L480.90,86.17 L481.25,86.60 L481.60,86.80 L481.95,86.72 L482.30,86.38 L482.65,85.86 L483.00,85.24 L483.35,84.59 L483.70,83.99 L484.05,83.50 L484.40,83.21 L484.75,83.19 L485.10,83.44 L485.45,83.90 L485.80,84.49 L486.15,85.13 L486.50,85.75 L486.85,86.29 L487.20,86.65 L487.55,86.77 L487.90,86.61 L488.25,86.22 L488.60,85.67 L488.95,85.04 L489.30,84.40 L489.65,83.83 L490.00,83.40 L490.35,83.18 L490.70,83.24 L491.05,83.56 L491.40,84.06 L491.75,84.66 L492.10,85.30 L492.45,85.89 L492.80,86.38 L493.15,86.68 L493.50,86.72 L493.85,86.49 L494.20,86.05 L494.55,85.48 L494.90,84.84 L495.25,84.22 L495.60,83.69 L495.95,83.32 L496.30,83.18 L496.65,83.32 L497.00,83.69 L497.35,84.21 L497.70,84.83 L498.05,85.46 L498.40,86.02 L498.75,86.46 L499.10,86.69 L499.45,86.65 L499.80,86.35 L500.15,85.87 L500.50,85.28 L500.85,84.65 L501.20,84.06 L501.55,83.57 L501.90,83.26 L502.25,83.19 L502.60,83.41 L502.95,83.82 L503.30,84.38 L503.65,85.00 L504.00,85.61 L504.35,86.14 L504.70,86.52 L505.05,86.67 L505.40,86.55 L505.75,86.20 L506.10,85.69 L506.45,85.09 L506.80,84.47 L507.15,83.90 L507.50,83.46 L507.85,83.22 L508.20,83.24 L508.55,83.51 L508.90,83.97 L509.25,84.54 L509.60,85.16 L509.95,85.75 L510.30,86.23 L510.65,86.55 L511.00,86.63 L511.35,86.44 L511.70,86.04 L512.05,85.50 L512.40,84.90 L512.75,84.29 L513.10,83.76 L513.45,83.37 L513.80,83.20 L514.15,83.23 L514.50,83.36 L514.85,83.59 L515.20,83.92 L515.55,84.35 L515.90,84.87 L516.25,85.49 L516.60,86.21 L516.78,86.61" stroke="#22ea22" stroke-width="1.25"/>
<path d="M305.90,75.10 L306.25,76.41 L306.60,77.51 L306.95,78.44 L307.30,79.19 L307.65,79.79 L308.00,80.25 L308.35,80.60 L308.70,80.84 L309.05,80.99 L309.40,81.07 L309.75,81.10 L310.10,80.88 L310.45,80.12 L310.80,78.92 L311.15,77.36 L311.50,75.54 L311.85,73.56 L312.20,71.51 L312.55,69.49 L312.90,67.59 L313.25,65.91 L313.60,64.54 L313.95,63.58 L314.30,63.13 L314.65,63.31 L315.00,64.26 L315.35,65.91 L315.70,68.14 L316.05,70.88 L316.40,74.02 L316.75,77.49 L317.10,81.18 L317.45,85.00 L317.80,88.85 L318.15,92.66 L318.50,96.32 L318.85,99.75 L319.20,102.84 L319.55,105.51 L319.90,107.67 L320.25,109.22 L320.60,110.06 L320.95,110.06 L321.30,108.75 L321.65,106.21 L322.00,102.65 L322.35,98.29 L322.70,93.33 L323.05,87.98 L323.40,82.46 L323.75,76.96 L324.10,71.70 L324.45,66.89 L324.80,62.74 L325.15,59.45 L325.50,57.24 L325.85,56.32 L326.20,56.87 L326.55,58.86 L326.90,62.05 L327.25,66.22 L327.60,71.16 L327.95,76.63 L328.30,82.42 L328.65,88.31 L329.00,94.08 L329.35,99.49 L329.70,104.33 L330.05,108.38 L330.40,111.41 L330.75,113.20 L331.10,113.54 L331.45,112.37 L331.80,109.89 L332.15,106.32 L332.50,101.87 L332.85,96.74 L333.20,91.16 L333.55,85.34 L333.90,79.49 L334.25,73.81 L334.60,68.54 L334.95,63.87 L335.30,60.03 L335.65,57.22 L336.00,55.65 L336.35,55.55 L336.70,56.99 L337.05,59.78 L337.40,63.68 L337.75,68.46 L338.10,73.90 L338.45,79.76 L338.80,85.82 L339.15,91.85 L339.50,97.61 L339.85,102.88 L340.20,107.44 L340.55,111.04 L340.90,113.47 L341.25,114.48 L341.60,113.93 L341.95,111.94 L342.30,108.74 L342.65,104.56 L343.00,99.62 L343.35,94.13 L343.70,88.33 L344.05,82.43 L344.40,76.66 L344.75,71.24 L345.10,66.39 L345.45,62.33 L345.80,59.30 L346.15,57.50 L346.50,57.15 L346.85,58.03 L347.20,59.92 L347.55,62.66 L347.90,66.10 L348.25,70.09 L348.60,74.49 L348.95,79.15 L349.30,83.91 L349.65,88.63 L350.00,93.16 L350.35,97.35 L350.70,101.04 L351.05,104.10 L351.40,106.37 L351.75,107.70 L352.10,107.98 L352.45,107.63 L352.80,106.85 L353.15,105.70 L353.50,104.21 L353.85,102.42 L354.20,100.36 L354.55,98.09 L354.90,95.64 L355.25,93.04 L355.60,90.35 L355.95,87.59 L356.30,84.81 L356.65,82.04 L357.00,79.34 L357.35,76.72 L357.70,74.25 L358.05,71.95 L358.40,69.86 L358.75,68.03 L359.10,66.49 L359.45,65.29 L359.80,64.46 L360.15,64.04 L360.50,64.09 L360.85,64.63 L361.20,65.63 L361.55,67.04 L361.90,68.81 L362.25,70.89 L362.60,73.23 L362.95,75.77 L363.30,78.47 L363.65,81.27 L364.00,84.14 L364.35,87.01 L364.70,89.84 L365.05,92.58 L365.40,95.17 L365.75,97.57 L366.10,99.72 L366.45,101.58 L366.80,103.10 L367.15,104.23 L367.50,104.91 L367.85,105.09 L368.20,104.54 L368.55,103.20 L368.90,101.19 L369.25,98.60 L369.60,95.53 L369.95,92.10 L370.30,88.40 L370.65,84.54 L371.00,80.62 L371.35,76.74 L371.70,73.02 L372.05,69.54 L372.40,66.42 L372.75,63.75 L373.10,61.65 L373.45,60.21 L373.80,59.54 L374.15,59.73 L374.50,60.79 L374.85,62.60 L375.20,65.06 L375.55,68.06 L375.90,71.51 L376.25,75.28 L376.60,79.28 L376.95,83.41 L377.30,87.55 L377.65,91.59 L378.00,95.44 L378.35,98.99 L378.70,102.13 L379.05,104.76 L379.40,106.77 L379.75,108.05 L380.10,108.50 L380.45,108.03 L380.80,106.68 L381.15,104.58 L381.50,101.85 L381.85,98.59 L382.20,94.93 L382.55,90.99 L382.90,86.88 L383.25,82.72 L383.60,78.63 L383.95,74.72 L384.30,71.12 L384.65,67.93 L385.00,65.28 L385.35,63.28 L385.70,62.05 L386.05,61.71 L386.40,62.02 L386.75,62.80 L387.10,63.98 L387.45,65.53 L387.80,67.40 L388.15,69.55 L388.50,71.93 L388.85,74.48 L389.20,77.18 L389.55,79.97 L389.90,82.80 L390.25,85.63 L390.60,88.42 L390.95,91.12 L391.30,93.67 L391.65,96.05 L392.00,98.20 L392.35,100.07 L392.70,101.62 L393.05,102.80 L393.40,103.58 L393.75,103.89 L394.10,103.74 L394.45,103.19 L394.80,102.26 L395.15,101.01 L395.50,99.47 L395.85,97.67 L396.20,95.65 L396.55,93.45 L396.90,91.10 L397.25,88.65 L397.60,86.14 L397.95,83.59 L398.30,81.04 L398.65,78.54 L399.00,76.11 L399.35,73.81 L399.70,71.66 L400.05,69.70 L400.40,67.96 L400.75,66.50 L401.10,65.34 L401.45,64.51 L401.80,64.07 L402.15,64.04 L402.50,64.47 L402.85,65.31 L403.20,66.52 L403.55,68.07 L403.90,69.90 L404.25,71.98 L404.60,74.27 L404.95,76.72 L405.30,79.30 L405.65,81.95 L406.00,84.63 L406.35,87.32 L406.70,89.95 L407.05,92.49 L407.40,94.90 L407.75,97.13 L408.10,99.15 L408.45,100.91 L408.80,102.36 L409.15,103.47 L409.50,104.20 L409.85,104.50 L410.20,104.36 L410.55,103.85 L410.90,103.01 L411.25,101.86 L411.60,100.44 L411.95,98.79 L412.30,96.93 L412.65,94.89 L413.00,92.72 L413.35,90.44 L413.70,88.09 L414.05,85.69 L414.40,83.28 L414.75,80.90 L415.10,78.57 L415.45,76.33 L415.80,74.21 L416.15,72.25 L416.50,70.47 L416.85,68.92 L417.20,67.61 L417.55,66.59 L417.90,65.89 L418.25,65.54 L418.60,65.54 L418.95,65.82 L419.30,66.33 L419.65,67.07 L420.00,68.01 L420.35,69.13 L420.70,70.41 L421.05,71.85 L421.40,73.41 L421.75,75.08 L422.10,76.84 L422.45,78.68 L422.80,80.57 L423.15,82.50 L423.50,84.45 L423.85,86.40 L424.20,88.33 L424.55,90.22 L424.90,92.06 L425.25,93.82 L425.60,95.49 L425.95,97.05 L426.30,98.49 L426.65,99.77 L427.00,100.89 L427.35,101.83 L427.70,102.57 L428.05,103.08 L428.40,103.36 L428.75,103.37 L429.10,103.07 L429.45,102.48 L429.80,101.62 L430.15,100.51 L430.50,99.19 L430.85,97.68 L431.20,96.00 L431.55,94.18 L431.90,92.25 L432.25,90.24 L432.60,88.16 L432.95,86.05 L433.30,83.94 L433.65,81.84 L434.00,79.79 L434.35,77.81 L434.70,75.92 L435.05,74.16 L435.40,72.55 L435.75,71.12 L436.10,69.89 L436.45,68.88 L436.80,68.13 L437.15,67.66 L437.50,67.50 L437.85,67.58 L438.20,67.82 L438.55,68.20 L438.90,68.72 L439.25,69.37 L439.60,70.14 L439.95,71.01 L440.30,71.98 L440.65,73.04 L441.00,74.19 L441.35,75.40 L441.70,76.67 L442.05,77.99 L442.40,79.35 L442.75,80.75 L443.10,82.16 L443.45,83.59 L443.80,85.02 L444.15,86.45 L444.50,87.85 L444.85,89.24 L445.20,90.58 L445.55,91.88 L445.90,93.13 L446.25,94.31 L446.60,95.42 L446.95,96.44 L447.30,97.38 L447.65,98.21 L448.00,98.92 L448.35,99.52 L448.70,99.98 L449.05,100.30 L449.40,100.47 L449.75,100.49 L450.10,100.36 L450.45,100.10 L450.80,99.72 L451.15,99.23 L451.50,98.65 L451.85,97.97 L452.20,97.22 L452.55,96.40 L452.90,95.53 L453.25,94.61 L453.60,93.65 L453.95,92.67 L454.30,91.67 L454.65,90.66 L455.00,89.67 L455.35,88.69 L455.70,87.73 L456.05,86.81 L456.40,85.94 L456.75,85.13 L457.10,84.36 L457.45,83.54 L457.80,82.66 L458.15,81.74 L458.50,80.78 L458.85,79.80 L459.20,78.80 L459.55,77.81 L459.90,76.82 L460.25,75.85 L460.60,74.90 L460.95,74.00 L461.30,73.15 L461.65,72.36 L462.00,71.64 L462.35,71.00 L462.70,70.45 L463.05,70.01 L463.40,69.68 L463.75,69.47 L464.10,69.40 L464.45,69.52 L464.80,69.87 L465.15,70.42 L465.50,71.13 L465.85,71.99 L466.20,72.95 L466.55,74.00 L466.90,75.11 L467.25,76.23 L467.60,77.36 L467.95,78.45 L468.30,79.47 L468.65,80.41 L469.00,81.23 L469.35,81.90 L469.70,82.40 L470.05,82.78 L470.40,83.13 L470.75,83.45 L471.10,83.75 L471.45,84.02 L471.80,84.28 L472.15,84.52 L472.50,84.75 L472.85,84.97 L473.20,85.18 L473.55,85.39 L473.90,85.60 L474.25,85.81 L474.60,86.03 L474.95,86.26 L475.30,86.50 L475.65,86.76 L476.00,87.03 L476.35,87.33 L476.70,87.66 L477.05,88.02 L477.40,88.40 L477.75,88.81 L478.10,89.24 L478.45,89.69 L478.80,90.15 L479.15,90.62 L479.50,91.10 L479.85,91.59 L480.20,92.08 L480.55,92.58 L480.90,93.06 L481.25,93.55 L481.60,94.02 L481.95,94.49 L482.30,94.94 L482.65,95.37 L483.00,95.79 L483.35,96.18 L483.70,96.54 L484.05,96.88 L484.40,97.18 L484.75,97.45 L485.10,97.69 L485.45,97.88 L485.80,98.03 L486.15,98.14 L486.50,98.19 L486.85,98.19 L487.20,98.14 L487.55,98.03 L487.90,97.87 L488.25,97.67 L488.60,97.42 L488.95,97.14 L489.30,96.82 L489.65,96.47 L490.00,96.09 L490.35,95.69 L490.70,95.28 L491.05,94.85 L491.40,94.40 L491.75,93.96 L492.10,93.51 L492.45,93.06 L492.80,92.62 L493.15,92.18 L493.50,91.77 L493.85,91.36 L494.20,90.98 L494.55,90.63 L494.90,90.31 L495.25,90.02 L495.60,89.76 L495.95,89.55 L496.30,89.39 L496.65,89.27 L497.00,89.21 L497.35,89.21 L497.70,89.27 L498.05,89.40 L498.40,89.58 L498.75,89.82 L499.10,90.10 L499.45,90.43 L499.80,90.79 L500.15,91.19 L500.50,91.62 L500.85,92.06 L501.20,92.53 L501.55,93.01 L501.90,93.49 L502.25,93.98 L502.60,94.46 L502.95,94.94 L503.30,95.40 L503.65,95.85 L504.00,96.27 L504.35,96.66 L504.70,97.02 L505.05,97.34 L505.40,97.62 L505.75,97.85 L506.10,98.03 L506.45,98.14 L506.80,98.20 L507.15,98.18 L507.50,98.11 L507.85,97.98 L508.20,97.80 L508.55,97.58 L508.90,97.31 L509.25,97.00 L509.60,96.67 L509.95,96.30 L510.30,95.91 L510.65,95.50 L511.00,95.08 L511.35,94.65 L511.70,94.21 L512.05,93.77 L512.40,93.34 L512.75,92.92 L513.10,92.50 L513.45,92.11 L513.80,91.74 L514.15,91.39 L514.50,91.07 L514.85,90.80 L515.20,90.56 L515.55,90.36 L515.90,90.22 L516.25,90.13 L516.60,90.10 L516.95,90.12 L517.30,90.17 L517.65,90.25 L518.00,90.36 L518.35,90.48 L518.40,90.50" stroke="#f21212" stroke-width="1.10"/>
<path d="M305.90,33.90 L306.25,33.89 L306.60,33.87 L306.95,33.85 L307.30,33.84 L307.65,33.82 L308.00,33.80 L308.35,33.78 L308.70,33.75 L309.05,33.73 L309.40,33.70 L309.75,33.67 L310.10,33.65 L310.45,33.61 L310.80,33.58 L311.15,33.55 L311.50,33.51 L311.85,33.47 L312.20,33.43 L312.55,33.39 L312.90,33.35 L313.25,33.30 L313.60,33.26 L313.95,33.21 L314.30,32.90 L314.65,32.41 L315.00,31.82 L315.35,31.20 L315.70,30.62 L316.05,30.13 L316.40,29.80 L316.75,31.28 L317.10,33.09 L317.45,35.19 L317.80,37.56 L318.15,40.17 L318.50,42.98 L318.85,45.98 L319.20,49.13 L319.55,52.41 L319.90,55.78 L320.25,59.22 L320.60,62.70 L320.95,66.19 L321.30,69.66 L321.65,73.08 L322.00,76.43 L322.35,79.68 L322.70,82.79 L323.05,85.75 L323.40,88.51 L323.75,91.06 L324.10,92.91 L324.45,94.69 L324.80,96.49 L325.15,98.29 L325.50,100.09 L325.85,101.88 L326.20,103.65 L326.55,105.40 L326.90,107.11 L327.25,108.78 L327.60,110.40 L327.95,111.97 L328.30,113.47 L328.65,114.89 L329.00,116.24 L329.35,117.50 L329.70,118.66 L330.05,119.72 L330.40,120.66 L330.75,121.49 L331.10,121.68 L331.45,120.37 L331.80,118.79 L332.15,116.97 L332.50,114.91 L332.85,112.66 L333.20,110.22 L333.55,107.63 L333.90,104.91 L334.25,102.07 L334.60,99.14 L334.95,96.15 L335.30,93.12 L335.65,90.06 L336.00,87.01 L336.35,83.99 L336.70,81.01 L337.05,78.11 L337.40,75.30 L337.75,72.61 L338.10,70.06 L338.45,67.68 L338.80,65.48 L339.15,63.49 L339.50,61.73 L339.85,60.23 L340.20,59.00 L340.55,61.04 L340.90,63.69 L341.25,66.88 L341.60,70.53 L341.95,74.56 L342.30,78.91 L342.65,83.49 L343.00,88.23 L343.35,93.06 L343.70,97.90 L344.05,102.67 L344.40,107.30 L344.75,111.72 L345.10,115.85 L345.45,119.62 L345.80,122.95 L346.15,125.76 L346.50,127.98 L346.85,126.96 L347.20,124.32 L347.55,121.18 L347.90,117.57 L348.25,113.55 L348.60,109.17 L348.95,104.48 L349.30,99.53 L349.65,94.36 L350.00,89.03 L350.35,83.59 L350.70,78.08 L351.05,72.56 L351.40,67.07 L351.75,61.67 L352.10,56.40 L352.45,51.32 L352.80,46.47 L353.15,41.91 L353.50,37.68 L353.85,33.83 L354.20,30.41 L354.55,27.48 L354.90,25.08 L355.25,25.69 L355.60,27.66 L355.95,29.96 L356.30,32.57 L356.65,35.45 L357.00,38.60 L357.35,41.98 L357.70,45.56 L358.05,49.33 L358.40,53.26 L358.75,57.31 L359.10,61.48 L359.45,65.72 L359.80,70.02 L360.15,74.36 L360.50,78.70 L360.85,83.03 L361.20,87.31 L361.55,91.52 L361.90,95.64 L362.25,99.64 L362.60,103.50 L362.95,107.20 L363.30,110.70 L363.65,113.98 L364.00,117.02 L364.35,119.79 L364.70,122.27 L365.05,124.43 L365.40,126.25 L365.75,125.60 L366.10,123.67 L366.45,121.34 L366.80,118.65 L367.15,115.64 L367.50,112.38 L367.85,108.89 L368.20,105.23 L368.55,101.45 L368.90,97.58 L369.25,93.69 L369.60,89.80 L369.95,85.98 L370.30,82.26 L370.65,78.69 L371.00,75.33 L371.35,72.21 L371.70,69.38 L372.05,66.88 L372.40,64.78 L372.75,63.10 L373.10,64.07 L373.45,65.76 L373.80,67.78 L374.15,70.09 L374.50,72.65 L374.85,75.43 L375.20,78.41 L375.55,81.53 L375.90,84.78 L376.25,88.12 L376.60,91.50 L376.95,94.91 L377.30,98.30 L377.65,101.65 L378.00,104.91 L378.35,108.05 L378.70,111.05 L379.05,113.86 L379.40,116.46 L379.75,118.81 L380.10,120.87 L380.45,122.61 L380.80,124.00 L381.15,122.66 L381.50,120.99 L381.85,119.00 L382.20,116.74 L382.55,114.25 L382.90,111.54 L383.25,108.66 L383.60,105.63 L383.95,102.49 L384.30,99.27 L384.65,96.01 L385.00,92.73 L385.35,89.47 L385.70,86.26 L386.05,83.13 L386.40,80.12 L386.75,77.26 L387.10,74.58 L387.45,72.12 L387.80,69.90 L388.15,67.96 L388.50,66.33 L388.85,65.37 L389.20,66.73 L389.55,68.43 L389.90,70.43 L390.25,72.69 L390.60,75.19 L390.95,77.88 L391.30,80.75 L391.65,83.75 L392.00,86.85 L392.35,90.03 L392.70,93.24 L393.05,96.46 L393.40,99.64 L393.75,102.77 L394.10,105.81 L394.45,108.71 L394.80,111.46 L395.15,114.02 L395.50,116.35 L395.85,118.43 L396.20,120.22 L396.55,121.68 L396.90,121.56 L397.25,120.19 L397.60,118.53 L397.95,116.61 L398.30,114.47 L398.65,112.13 L399.00,109.62 L399.35,106.97 L399.70,104.20 L400.05,101.36 L400.40,98.46 L400.75,95.53 L401.10,92.61 L401.45,89.72 L401.80,86.90 L402.15,84.16 L402.50,81.55 L402.85,79.08 L403.20,76.79 L403.55,74.71 L403.90,72.87 L404.25,71.29 L404.60,70.01 L404.95,70.38 L405.30,71.53 L405.65,72.89 L406.00,74.45 L406.35,76.17 L406.70,78.06 L407.05,80.08 L407.40,82.22 L407.75,84.45 L408.10,86.78 L408.45,89.16 L408.80,91.59 L409.15,94.04 L409.50,96.51 L409.85,98.96 L410.20,101.38 L410.55,103.76 L410.90,106.07 L411.25,108.30 L411.60,110.42 L411.95,112.42 L412.30,114.28 L412.65,115.99 L413.00,117.51 L413.35,118.85 L413.70,119.96 L414.05,120.15 L414.40,119.20 L414.75,118.06 L415.10,116.76 L415.45,115.30 L415.80,113.71 L416.15,112.00 L416.50,110.17 L416.85,108.25 L417.20,106.25 L417.55,104.18 L417.90,102.06 L418.25,99.90 L418.60,97.72 L418.95,95.52 L419.30,93.33 L419.65,91.16 L420.00,89.02 L420.35,86.93 L420.70,84.90 L421.05,82.94 L421.40,81.07 L421.75,79.31 L422.10,77.66 L422.45,76.15 L422.80,74.78 L423.15,73.57 L423.50,72.54 L423.85,71.91 L424.20,72.76 L424.55,73.79 L424.90,74.97 L425.25,76.30 L425.60,77.76 L425.95,79.35 L426.30,81.04 L426.65,82.82 L427.00,84.69 L427.35,86.62 L427.70,88.62 L428.05,90.65 L428.40,92.72 L428.75,94.80 L429.10,96.89 L429.45,98.98 L429.80,101.04 L430.15,103.07 L430.50,105.06 L430.85,106.98 L431.20,108.84 L431.55,110.61 L431.90,112.29 L432.25,113.85 L432.60,115.30 L432.95,116.61 L433.30,117.77 L433.65,118.77 L434.00,119.60 L434.35,118.88 L434.70,118.01 L435.05,117.00 L435.40,115.88 L435.75,114.64 L436.10,113.29 L436.45,111.85 L436.80,110.33 L437.15,108.73 L437.50,107.07 L437.85,105.35 L438.20,103.59 L438.55,101.79 L438.90,99.97 L439.25,98.14 L439.60,96.30 L439.95,94.47 L440.30,92.65 L440.65,90.86 L441.00,89.10 L441.35,87.39 L441.70,85.74 L442.05,84.15 L442.40,82.64 L442.75,81.21 L443.10,79.88 L443.45,78.65 L443.80,77.54 L444.15,76.56 L444.50,75.71 L444.85,75.18 L445.20,75.86 L445.55,76.68 L445.90,77.63 L446.25,78.71 L446.60,79.88 L446.95,81.15 L447.30,82.50 L447.65,83.91 L448.00,85.37 L448.35,86.87 L448.70,88.40 L449.05,89.94 L449.40,91.47 L449.75,92.99 L450.10,94.49 L450.45,95.94 L450.80,97.33 L451.15,98.66 L451.50,99.90 L451.85,101.05 L452.20,102.00 L452.55,102.70 L452.90,103.40 L453.25,104.10 L453.60,104.80 L453.95,105.50 L454.30,106.20 L454.65,106.88 L455.00,107.56 L455.35,108.23 L455.70,108.88 L456.05,109.52 L456.40,110.14 L456.75,110.74 L457.10,111.33 L457.45,111.89 L457.80,112.42 L458.15,112.93 L458.50,113.41 L458.85,113.86 L459.20,114.27 L459.55,114.65 L459.90,115.00 L460.25,115.31 L460.60,115.46 L460.95,115.28 L461.30,115.06 L461.65,114.79 L462.00,114.49 L462.35,114.17 L462.70,113.81 L463.05,113.44 L463.40,113.06 L463.75,112.67 L464.10,112.28 L464.45,111.88 L464.80,111.50 L465.15,111.13 L465.50,110.79 L465.85,110.46 L466.20,110.17 L466.55,109.91 L466.90,109.69 L467.25,109.52 L467.60,109.56 L467.95,109.65 L468.30,109.74 L468.65,109.85 L469.00,109.97 L469.35,110.10 L469.70,110.24 L470.05,110.38 L470.40,110.54 L470.75,110.70 L471.10,110.87 L471.45,111.04 L471.80,111.22 L472.15,111.40 L472.50,111.58 L472.85,111.76 L473.20,111.95 L473.55,112.14 L473.90,112.32 L474.25,112.50 L474.60,112.68 L474.95,112.86 L475.30,113.03 L475.65,113.20 L476.00,113.36 L476.35,113.52 L476.70,113.66 L477.05,113.80 L477.40,113.93 L477.75,114.05 L478.10,114.16 L478.45,114.25 L478.80,114.34 L479.15,114.38 L479.50,114.24 L479.85,114.07 L480.20,113.87 L480.55,113.65 L480.90,113.40 L481.25,113.13 L481.60,112.85 L481.95,112.54 L482.30,112.23 L482.65,111.91 L483.00,111.58 L483.35,111.24 L483.70,110.90 L484.05,110.56 L484.40,110.22 L484.75,109.89 L485.10,109.57 L485.45,109.26 L485.80,108.95 L486.15,108.67 L486.50,108.40 L486.85,108.15 L487.20,107.93 L487.55,107.73 L487.90,107.56 L488.25,107.42 L488.60,107.49 L488.95,107.62 L489.30,107.76 L489.65,107.93 L490.00,108.11 L490.35,108.31 L490.70,108.52 L491.05,108.74 L491.40,108.97 L491.75,109.22 L492.10,109.47 L492.45,109.73 L492.80,110.00 L493.15,110.27 L493.50,110.55 L493.85,110.82 L494.20,111.10 L494.55,111.37 L494.90,111.65 L495.25,111.92 L495.60,112.18 L495.95,112.44 L496.30,112.69 L496.65,112.93 L497.00,113.16 L497.35,113.38 L497.70,113.58 L498.05,113.77 L498.40,113.94 L498.75,114.10 L499.10,114.24 L499.45,114.36 L499.80,114.34 L500.15,114.20 L500.50,114.04 L500.85,113.86 L501.20,113.66 L501.55,113.44 L501.90,113.20 L502.25,112.94 L502.60,112.68 L502.95,112.40 L503.30,112.12 L503.65,111.83 L504.00,111.54 L504.35,111.25 L504.70,110.96 L505.05,110.68 L505.40,110.40 L505.75,110.13 L506.10,109.87 L506.45,109.63 L506.80,109.40 L507.15,109.19 L507.50,109.01 L507.85,108.84 L508.20,108.70 L508.55,108.61 L508.90,108.72 L509.25,108.83 L509.60,108.94 L509.95,109.07 L510.30,109.20 L510.65,109.34 L511.00,109.49 L511.35,109.65 L511.70,109.82 L512.05,109.99 L512.40,110.18 L512.75,110.37 L513.10,110.57 L513.45,110.78 L513.80,110.99 L514.15,111.22 L514.50,111.46 L514.85,111.70 L515.20,111.95 L515.55,112.22 L515.90,112.49 L516.25,112.77 L516.60,113.06 L516.95,113.36 L517.30,113.67 L517.65,113.98 L518.00,114.31 L518.35,114.65 L518.40,114.70" stroke="#10f0f0" stroke-width="1.25"/>
</g>
<line x1="377.47" y1="11.70" x2="377.47" y2="140.20" stroke="#222" stroke-width="0.8" stroke-dasharray="2.7,1.3"/>
<path d="M305.90,140.20v-2.20M305.90,11.70v2.20M348.40,140.20v-2.20M348.40,11.70v2.20M390.90,140.20v-2.20M390.90,11.70v2.20M433.40,140.20v-2.20M433.40,11.70v2.20M475.90,140.20v-2.20M475.90,11.70v2.20M518.40,140.20v-2.20M518.40,11.70v2.20M305.90,140.20h2.20M518.40,140.20h-2.20M305.90,121.84h2.20M518.40,121.84h-2.20M305.90,103.49h2.20M518.40,103.49h-2.20M305.90,85.13h2.20M518.40,85.13h-2.20M305.90,66.77h2.20M518.40,66.77h-2.20M305.90,48.41h2.20M518.40,48.41h-2.20M305.90,30.06h2.20M518.40,30.06h-2.20M305.90,11.70h2.20M518.40,11.70h-2.20" stroke="#777" stroke-width="0.8" fill="none"/>
<rect x="305.90" y="11.70" width="212.50" height="128.50" fill="none" stroke="#707070" stroke-width="1.1"/>
<text x="305.90" y="152.10" text-anchor="middle" class="t">0</text>
<text x="348.40" y="152.10" text-anchor="middle" class="t">0.5</text>
<text x="390.90" y="152.10" text-anchor="middle" class="t">1</text>
<text x="433.40" y="152.10" text-anchor="middle" class="t">1.5</text>
<text x="475.90" y="152.10" text-anchor="middle" class="t">2</text>
<text x="518.40" y="152.10" text-anchor="middle" class="t">2.5</text>
<text x="302.70" y="143.40" text-anchor="end" class="t">-6</text>
<text x="302.70" y="125.04" text-anchor="end" class="t">-4</text>
<text x="302.70" y="106.69" text-anchor="end" class="t">-2</text>
<text x="302.70" y="88.33" text-anchor="end" class="t">0</text>
<text x="302.70" y="69.97" text-anchor="end" class="t">2</text>
<text x="302.70" y="51.61" text-anchor="end" class="t">4</text>
<text x="302.70" y="33.26" text-anchor="end" class="t">6</text>
<text x="302.70" y="14.90" text-anchor="end" class="t">8</text>
<text x="412.15" y="164.80" text-anchor="middle" class="t">Time (s)</text>
<text transform="translate(290.30,75.95) rotate(-90)" text-anchor="middle" class="t">Strain</text>
<text x="306.80" y="9.70" class="t"><tspan font-size="11.5" dy="1.5" style="stroke-width:0.1px">&#215;</tspan><tspan dy="-1.5">10</tspan><tspan dy="-4.6" font-size="7.2">-4</tspan></text>
<text x="273.60" y="12.80" class="lab">(b)</text>
<text x="307.90" y="21.90" class="v"><tspan font-style="italic">v</tspan>=1.55 m/s</text>
<text x="375.00" y="134.60" text-anchor="end" class="t ob">On bridge</text>
<text x="380.70" y="134.60" class="t ob">Leaving bridge</text>
<line x1="467.80" y1="23.50" x2="487.30" y2="23.50" stroke="#22ea22" stroke-width="1.25"/>
<text x="488.80" y="26.60" class="lg">LPEH</text>
<line x1="467.80" y1="34.20" x2="487.30" y2="34.20" stroke="#f21212" stroke-width="1.10"/>
<text x="488.80" y="37.30" class="lg">BPEH</text>
<line x1="467.80" y1="44.90" x2="487.30" y2="44.90" stroke="#10f0f0" stroke-width="1.25"/>
<text x="488.80" y="48.00" class="lg">TPEH</text>
<clipPath id="cpc"><rect x="40.50" y="191.60" width="212.40" height="128.10"/></clipPath>
<g clip-path="url(#cpc)" fill="none" stroke-linejoin="round" stroke-linecap="round">
<path d="M40.50,268.50 L40.85,268.50 L41.20,268.50 L41.55,268.50 L41.90,268.50 L42.25,268.50 L42.60,268.50 L42.95,268.50 L43.30,268.50 L43.65,268.50 L44.00,268.50 L44.35,268.92 L44.70,270.01 L45.05,271.46 L45.40,272.99 L45.75,274.32 L46.10,275.15 L46.45,275.21 L46.80,274.35 L47.15,272.77 L47.50,270.67 L47.85,268.27 L48.20,265.78 L48.55,263.41 L48.90,261.37 L49.25,259.88 L49.60,259.14 L49.95,259.46 L50.30,261.02 L50.65,263.49 L51.00,266.55 L51.35,269.85 L51.70,273.05 L52.05,275.81 L52.40,277.81 L52.75,278.68 L53.10,278.24 L53.45,276.69 L53.80,274.34 L54.15,271.49 L54.50,268.42 L54.85,265.44 L55.20,262.84 L55.55,260.91 L55.90,259.95 L56.25,260.24 L56.60,261.71 L56.95,264.03 L57.30,266.86 L57.65,269.88 L58.00,272.74 L58.35,275.10 L58.70,276.64 L59.05,277.02 L59.40,276.09 L59.75,274.12 L60.10,271.45 L60.45,268.43 L60.80,265.40 L61.15,262.70 L61.50,260.67 L61.85,259.64 L62.20,259.94 L62.55,261.47 L62.90,263.87 L63.25,266.81 L63.60,269.93 L63.95,272.89 L64.30,275.34 L64.65,276.94 L65.00,277.34 L65.35,276.37 L65.70,274.33 L66.05,271.56 L66.40,268.44 L66.75,265.30 L67.10,262.50 L67.45,260.39 L67.80,259.33 L68.15,259.64 L68.50,261.22 L68.85,263.71 L69.20,266.75 L69.55,269.98 L69.90,273.05 L70.25,275.59 L70.60,277.24 L70.95,277.65 L71.30,276.65 L71.65,274.53 L72.00,271.68 L72.35,268.44 L72.70,265.19 L73.05,262.29 L73.40,260.12 L73.75,259.02 L74.10,259.34 L74.45,260.94 L74.80,263.48 L75.15,266.58 L75.50,269.87 L75.85,272.99 L76.20,275.58 L76.55,277.27 L76.90,277.68 L77.25,276.70 L77.60,274.63 L77.95,271.83 L78.30,268.66 L78.65,265.48 L79.00,262.64 L79.35,260.51 L79.70,259.44 L80.05,259.73 L80.40,261.25 L80.75,263.65 L81.10,266.58 L81.45,269.70 L81.80,272.65 L82.15,275.10 L82.50,276.70 L82.85,277.09 L83.20,276.17 L83.55,274.24 L83.90,271.62 L84.25,268.66 L84.60,265.68 L84.95,263.03 L85.30,261.03 L85.65,260.03 L86.00,260.31 L86.35,261.72 L86.70,263.96 L87.05,266.69 L87.40,269.60 L87.75,272.36 L88.10,274.64 L88.45,276.13 L88.80,276.50 L89.15,275.64 L89.50,273.84 L89.85,271.41 L90.20,268.65 L90.55,265.88 L90.90,263.41 L91.25,261.55 L91.60,260.62 L91.95,260.88 L92.30,262.19 L92.65,264.27 L93.00,266.81 L93.35,269.50 L93.70,272.06 L94.05,274.18 L94.40,275.56 L94.75,275.90 L95.10,275.11 L95.45,273.45 L95.80,271.19 L96.15,268.64 L96.50,266.08 L96.85,263.79 L97.20,262.08 L97.55,261.21 L97.90,261.45 L98.25,262.67 L98.60,264.59 L98.95,266.94 L99.30,269.44 L99.65,271.81 L100.00,273.78 L100.35,275.05 L100.70,275.37 L101.05,274.62 L101.40,273.05 L101.75,270.91 L102.10,268.50 L102.45,266.07 L102.80,263.91 L103.15,262.28 L103.50,261.47 L103.85,261.70 L104.20,262.89 L104.55,264.78 L104.90,267.08 L105.25,269.53 L105.60,271.85 L105.95,273.78 L106.30,275.03 L106.65,275.34 L107.00,274.59 L107.35,273.02 L107.70,270.90 L108.05,268.50 L108.40,266.08 L108.75,263.93 L109.10,262.31 L109.45,261.50 L109.80,261.73 L110.15,262.92 L110.50,264.79 L110.85,267.09 L111.20,269.53 L111.55,271.84 L111.90,273.75 L112.25,275.00 L112.60,275.31 L112.95,274.57 L113.30,273.00 L113.65,270.89 L114.00,268.50 L114.35,266.09 L114.70,263.95 L115.05,262.34 L115.40,261.53 L115.75,261.76 L116.10,262.94 L116.45,264.81 L116.80,267.09 L117.15,269.52 L117.50,271.82 L117.85,273.73 L118.20,274.97 L118.55,275.28 L118.90,274.54 L119.25,272.98 L119.60,270.88 L119.95,268.49 L120.30,266.10 L120.65,263.97 L121.00,262.36 L121.35,261.56 L121.70,261.79 L122.05,262.97 L122.40,264.83 L122.75,267.10 L123.10,269.52 L123.45,271.81 L123.80,273.71 L124.15,274.94 L124.50,275.25 L124.85,274.51 L125.20,272.96 L125.55,270.87 L125.90,268.49 L126.25,266.11 L126.60,263.99 L126.95,262.39 L127.30,261.59 L127.65,261.82 L128.00,262.99 L128.35,264.84 L128.70,267.10 L129.05,269.51 L129.40,271.79 L129.75,273.68 L130.10,274.91 L130.45,275.22 L130.80,274.48 L131.15,272.94 L131.50,270.86 L131.85,268.49 L132.20,266.12 L132.55,264.01 L132.90,262.42 L133.25,261.62 L133.60,261.85 L133.95,263.01 L134.30,264.86 L134.65,267.11 L135.00,269.50 L135.35,271.78 L135.70,273.66 L136.05,274.88 L136.40,275.18 L136.75,274.46 L137.10,272.92 L137.45,270.85 L137.80,268.49 L138.15,266.13 L138.50,264.03 L138.85,262.45 L139.20,261.65 L139.55,261.88 L139.90,263.04 L140.25,264.87 L140.60,267.12 L140.95,269.50 L141.30,271.76 L141.65,273.63 L142.00,274.85 L142.35,275.15 L142.70,274.43 L143.05,272.90 L143.40,270.83 L143.75,268.49 L144.10,266.14 L144.45,264.05 L144.80,262.47 L145.15,261.68 L145.50,261.91 L145.85,263.06 L146.20,264.89 L146.55,267.12 L146.90,269.49 L147.25,271.75 L147.60,273.61 L147.95,274.82 L148.30,275.12 L148.65,274.40 L149.00,272.88 L149.35,270.82 L149.70,268.49 L150.05,266.15 L150.40,264.07 L150.75,262.50 L151.10,261.71 L151.45,261.94 L151.80,263.09 L152.15,264.91 L152.50,267.13 L152.85,269.49 L153.20,271.73 L153.55,273.59 L153.90,274.79 L154.25,275.09 L154.60,274.37 L154.95,272.86 L155.30,270.81 L155.65,268.49 L156.00,266.16 L156.35,264.09 L156.70,262.53 L157.05,261.74 L157.40,261.97 L157.75,263.11 L158.10,264.92 L158.45,267.13 L158.80,269.48 L159.15,271.71 L159.50,273.56 L159.85,274.76 L160.20,275.06 L160.55,274.35 L160.90,272.84 L161.25,270.80 L161.60,268.49 L161.95,266.17 L162.30,264.11 L162.65,262.55 L163.00,261.77 L163.35,262.00 L163.70,263.14 L164.05,264.94 L164.40,267.14 L164.75,269.48 L165.10,271.70 L165.45,273.54 L165.80,274.73 L166.15,275.03 L166.50,274.32 L166.85,272.82 L167.20,270.79 L167.55,268.49 L167.90,266.18 L168.25,264.13 L168.60,262.58 L168.95,261.81 L169.30,262.03 L169.65,263.16 L170.00,264.95 L170.35,267.15 L170.70,269.47 L171.05,271.68 L171.40,273.51 L171.75,274.70 L172.10,275.00 L172.45,274.29 L172.80,272.80 L173.15,270.78 L173.50,268.49 L173.85,266.19 L174.20,264.15 L174.55,262.61 L174.90,261.84 L175.25,262.06 L175.60,263.19 L175.95,264.97 L176.30,267.15 L176.65,269.47 L177.00,271.67 L177.35,273.49 L177.70,274.67 L178.05,274.97 L178.40,274.26 L178.75,272.78 L179.10,270.77 L179.45,268.49 L179.80,266.21 L180.15,264.17 L180.50,262.64 L180.85,261.87 L181.20,262.09 L181.55,263.21 L181.90,264.99 L182.25,267.16 L182.60,269.46 L182.95,271.65 L183.30,273.47 L183.65,274.65 L184.00,274.94 L184.35,274.24 L184.70,272.76 L185.05,270.76 L185.40,268.49 L185.75,266.22 L186.10,264.19 L186.45,262.66 L186.80,261.90 L187.15,262.12 L187.50,263.24 L187.85,265.00 L188.20,267.16 L188.55,269.46 L188.90,271.64 L189.25,273.44 L189.60,274.62 L189.95,274.91 L190.30,274.21 L190.65,272.74 L191.00,270.74 L191.35,268.49 L191.70,266.23 L192.05,264.21 L192.40,262.69 L192.75,261.93 L193.10,262.15 L193.45,263.26 L193.80,265.02 L194.15,267.17 L194.50,269.45 L194.85,271.62 L195.20,273.42 L195.55,274.59 L195.90,274.87 L196.25,274.18 L196.60,272.71 L196.95,270.73 L197.30,268.49 L197.65,266.24 L198.00,264.23 L198.35,262.72 L198.70,261.96 L199.05,262.18 L199.40,263.28 L199.75,265.04 L200.10,267.17 L200.45,269.45 L200.80,271.61 L201.15,273.39 L201.50,274.56 L201.85,274.84 L202.20,274.15 L202.55,272.69 L202.90,270.72 L203.25,268.49 L203.60,266.25 L203.95,264.25 L204.30,262.75 L204.65,261.99 L205.00,262.21 L205.35,263.31 L205.70,265.05 L206.05,267.18 L206.40,269.44 L206.75,271.59 L207.10,273.37 L207.45,274.53 L207.80,274.81 L208.15,274.12 L208.50,272.67 L208.85,270.71 L209.20,268.49 L209.55,266.26 L209.90,264.27 L210.25,262.77 L210.60,262.02 L210.95,262.24 L211.30,263.33 L211.65,265.07 L212.00,267.19 L212.35,269.44 L212.70,271.58 L213.05,273.35 L213.40,274.50 L213.75,274.78 L214.10,274.10 L214.45,272.65 L214.80,270.70 L215.15,268.49 L215.50,266.27 L215.85,264.29 L216.20,262.80 L216.55,262.05 L216.90,262.27 L217.25,263.36 L217.60,265.08 L217.95,267.19 L218.30,269.43 L218.65,271.56 L219.00,273.32 L219.35,274.47 L219.70,274.75 L220.05,274.07 L220.40,272.63 L220.75,270.69 L221.10,268.49 L221.45,266.28 L221.80,264.31 L222.15,262.83 L222.50,262.08 L222.85,262.30 L223.20,263.38 L223.55,265.10 L223.90,267.20 L224.25,269.43 L224.60,271.54 L224.95,273.30 L225.30,274.44 L225.65,274.72 L226.00,274.04 L226.35,272.61 L226.70,270.68 L227.05,268.49 L227.40,266.29 L227.75,264.33 L228.10,262.85 L228.45,262.11 L228.80,262.32 L229.15,263.41 L229.50,265.12 L229.85,267.20 L230.20,269.42 L230.55,271.53 L230.90,273.27 L231.25,274.41 L231.60,274.69 L231.95,274.01 L232.30,272.59 L232.65,270.67 L233.00,268.49 L233.35,266.30 L233.70,264.35 L234.05,262.88 L234.40,262.15 L234.75,262.35 L235.10,263.43 L235.45,265.13 L235.80,267.21 L236.15,269.42 L236.50,271.51 L236.85,273.25 L237.20,274.38 L237.55,274.66 L237.90,273.99 L238.25,272.57 L238.60,270.66 L238.95,268.49 L239.30,266.31 L239.65,264.37 L240.00,262.91 L240.35,262.18 L240.70,262.38 L241.05,263.46 L241.40,265.15 L241.75,267.22 L242.10,269.41 L242.45,271.50 L242.80,273.23 L243.15,274.35 L243.50,274.63 L243.85,273.96 L244.20,272.55 L244.55,270.64 L244.90,268.49 L245.25,266.32 L245.60,264.39 L245.95,262.94 L246.30,262.21 L246.65,262.41 L247.00,263.48 L247.35,265.16 L247.70,267.22 L248.05,269.41 L248.40,271.48 L248.75,273.20 L249.10,274.32 L249.45,274.61 L249.80,274.37 L250.15,273.78 L250.50,272.84 L250.85,271.57 L251.20,269.95 L251.55,267.98 L251.90,265.67 L252.25,263.02 L252.35,262.20" stroke="#22ea22" stroke-width="1.25"/>
<path d="M40.50,261.10 L40.85,261.10 L41.20,261.10 L41.55,261.10 L41.90,261.10 L42.25,261.10 L42.60,261.10 L42.95,261.10 L43.30,261.10 L43.65,261.10 L44.00,261.10 L44.35,261.10 L44.70,261.10 L45.05,261.10 L45.40,261.10 L45.75,261.10 L46.10,261.10 L46.45,261.10 L46.80,261.10 L47.15,261.10 L47.50,261.10 L47.85,261.10 L48.20,261.10 L48.55,261.10 L48.90,261.10 L49.25,261.10 L49.60,261.10 L49.95,261.10 L50.30,261.10 L50.65,261.10 L51.00,261.10 L51.35,261.10 L51.70,261.61 L52.05,263.27 L52.40,265.74 L52.75,268.62 L53.10,271.57 L53.45,274.19 L53.80,276.12 L54.15,276.98 L54.50,276.48 L54.85,274.72 L55.20,271.96 L55.55,268.48 L55.90,264.55 L56.25,260.42 L56.60,256.36 L56.95,252.65 L57.30,249.56 L57.65,247.34 L58.00,246.26 L58.35,246.74 L58.70,249.13 L59.05,253.08 L59.40,258.19 L59.75,264.08 L60.10,270.35 L60.45,276.62 L60.80,282.51 L61.15,287.62 L61.50,291.57 L61.85,293.96 L62.20,294.42 L62.55,292.91 L62.90,289.77 L63.25,285.33 L63.60,279.93 L63.95,273.91 L64.30,267.59 L64.65,261.33 L65.00,255.45 L65.35,250.29 L65.70,246.19 L66.05,243.48 L66.40,242.50 L66.75,243.45 L67.10,246.09 L67.45,250.08 L67.80,255.07 L68.15,260.74 L68.50,266.75 L68.85,272.76 L69.20,278.43 L69.55,283.42 L69.90,287.41 L70.25,290.05 L70.60,291.00 L70.95,290.20 L71.30,287.97 L71.65,284.61 L72.00,280.37 L72.35,275.54 L72.70,270.39 L73.05,265.21 L73.40,260.26 L73.75,255.83 L74.10,252.18 L74.45,249.61 L74.80,248.37 L75.15,248.65 L75.50,250.20 L75.85,252.79 L76.20,256.21 L76.55,260.25 L76.90,264.69 L77.25,269.31 L77.60,273.91 L77.95,278.25 L78.30,282.14 L78.65,285.34 L79.00,287.66 L79.35,288.87 L79.70,288.76 L80.05,287.26 L80.40,284.61 L80.75,281.05 L81.10,276.83 L81.45,272.19 L81.80,267.37 L82.15,262.62 L82.50,258.19 L82.85,254.32 L83.20,251.25 L83.55,249.23 L83.90,248.50 L84.25,249.03 L84.60,250.52 L84.95,252.81 L85.30,255.76 L85.65,259.21 L86.00,263.00 L86.35,266.99 L86.70,271.03 L87.05,274.96 L87.40,278.62 L87.75,281.87 L88.10,284.56 L88.45,286.53 L88.80,287.62 L89.15,287.68 L89.50,286.58 L89.85,284.45 L90.20,281.50 L90.55,277.92 L90.90,273.90 L91.25,269.64 L91.60,265.32 L91.95,261.13 L92.30,257.28 L92.65,253.94 L93.00,251.33 L93.35,249.61 L93.70,249.00 L94.05,249.51 L94.40,250.93 L94.75,253.11 L95.10,255.93 L95.45,259.22 L95.80,262.84 L96.15,266.65 L96.50,270.50 L96.85,274.25 L97.20,277.74 L97.55,280.85 L97.90,283.41 L98.25,285.29 L98.60,286.33 L98.95,286.42 L99.30,285.60 L99.65,284.02 L100.00,281.81 L100.35,279.09 L100.70,275.99 L101.05,272.63 L101.40,269.15 L101.75,265.67 L102.10,262.31 L102.45,259.21 L102.80,256.49 L103.15,254.28 L103.50,252.70 L103.85,251.88 L104.20,251.89 L104.55,252.48 L104.90,253.56 L105.25,255.04 L105.60,256.87 L105.95,258.97 L106.30,261.28 L106.65,263.73 L107.00,266.25 L107.35,268.77 L107.70,271.22 L108.05,273.53 L108.40,275.63 L108.75,277.46 L109.10,278.94 L109.45,280.02 L109.80,280.61 L110.15,280.68 L110.50,280.48 L110.85,280.10 L111.20,279.54 L111.55,278.85 L111.90,278.04 L112.25,277.14 L112.60,276.17 L112.95,275.15 L113.30,274.11 L113.65,273.08 L114.00,272.08 L114.35,271.13 L114.70,270.26 L115.05,269.47 L115.40,268.64 L115.75,267.76 L116.10,266.83 L116.45,265.87 L116.80,264.88 L117.15,263.88 L117.50,262.88 L117.85,261.90 L118.20,260.93 L118.55,259.99 L118.90,259.10 L119.25,258.26 L119.60,257.49 L119.95,256.79 L120.30,256.18 L120.65,255.66 L121.00,255.26 L121.35,254.98 L121.70,254.82 L122.05,254.84 L122.40,255.21 L122.75,255.93 L123.10,256.98 L123.45,258.30 L123.80,259.85 L124.15,261.59 L124.50,263.49 L124.85,265.49 L125.20,267.56 L125.55,269.65 L125.90,271.72 L126.25,273.73 L126.60,275.64 L126.95,277.41 L127.30,278.99 L127.65,280.35 L128.00,281.43 L128.35,282.21 L128.70,282.63 L129.05,282.67 L129.40,282.33 L129.75,281.68 L130.10,280.73 L130.45,279.53 L130.80,278.11 L131.15,276.52 L131.50,274.78 L131.85,272.93 L132.20,271.01 L132.55,269.05 L132.90,267.09 L133.25,265.17 L133.60,263.32 L133.95,261.58 L134.30,259.99 L134.65,258.57 L135.00,257.37 L135.35,256.42 L135.70,255.77 L136.05,255.43 L136.40,255.42 L136.75,255.58 L137.10,255.86 L137.45,256.26 L137.80,256.77 L138.15,257.38 L138.50,258.06 L138.85,258.82 L139.20,259.65 L139.55,260.51 L139.90,261.42 L140.25,262.35 L140.60,263.30 L140.95,264.24 L141.30,265.18 L141.65,266.09 L142.00,266.98 L142.35,267.81 L142.70,268.59 L143.05,269.34 L143.40,270.18 L143.75,271.09 L144.10,272.04 L144.45,273.03 L144.80,274.01 L145.15,274.98 L145.50,275.92 L145.85,276.79 L146.20,277.58 L146.55,278.28 L146.90,278.84 L147.25,279.27 L147.60,279.53 L147.95,279.60 L148.30,279.50 L148.65,279.26 L149.00,278.88 L149.35,278.38 L149.70,277.77 L150.05,277.06 L150.40,276.25 L150.75,275.37 L151.10,274.42 L151.45,273.40 L151.80,272.35 L152.15,271.25 L152.50,270.13 L152.85,268.99 L153.20,267.85 L153.55,266.71 L153.90,265.59 L154.25,264.50 L154.60,263.45 L154.95,262.44 L155.30,261.50 L155.65,260.63 L156.00,259.84 L156.35,259.14 L156.70,258.54 L157.05,258.06 L157.40,257.70 L157.75,257.48 L158.10,257.40 L158.45,257.43 L158.80,257.51 L159.15,257.64 L159.50,257.81 L159.85,258.03 L160.20,258.28 L160.55,258.58 L160.90,258.90 L161.25,259.26 L161.60,259.64 L161.95,260.04 L162.30,260.46 L162.65,260.90 L163.00,261.34 L163.35,261.80 L163.70,262.27 L164.05,262.73 L164.40,263.20 L164.75,263.66 L165.10,264.11 L165.45,264.56 L165.80,264.98 L166.15,265.40 L166.50,265.78 L166.85,266.15 L167.20,266.49 L167.55,266.79 L167.90,267.07 L168.25,267.30 L168.60,267.49 L168.95,267.64 L169.30,267.74 L169.65,267.79 L170.00,267.79 L170.35,267.75 L170.70,267.68 L171.05,267.57 L171.40,267.44 L171.75,267.27 L172.10,267.08 L172.45,266.86 L172.80,266.62 L173.15,266.36 L173.50,266.08 L173.85,265.78 L174.20,265.47 L174.55,265.14 L174.90,264.81 L175.25,264.46 L175.60,264.11 L175.95,263.76 L176.30,263.40 L176.65,263.04 L177.00,262.69 L177.35,262.34 L177.70,261.99 L178.05,261.65 L178.40,261.32 L178.75,261.00 L179.10,260.69 L179.45,260.40 L179.80,260.13 L180.15,259.88 L180.50,259.65 L180.85,259.44 L181.20,259.26 L181.55,259.10 L181.90,258.98 L182.25,258.88 L182.60,258.82 L182.95,258.80 L183.30,258.83 L183.65,258.94 L184.00,259.12 L184.35,259.37 L184.70,259.68 L185.05,260.04 L185.40,260.45 L185.75,260.90 L186.10,261.38 L186.45,261.88 L186.80,262.41 L187.15,262.95 L187.50,263.50 L187.85,264.05 L188.20,264.59 L188.55,265.12 L188.90,265.62 L189.25,266.10 L189.60,266.55 L189.95,266.96 L190.30,267.32 L190.65,267.63 L191.00,267.88 L191.35,268.06 L191.70,268.17 L192.05,268.20 L192.40,268.17 L192.75,268.10 L193.10,267.99 L193.45,267.85 L193.80,267.67 L194.15,267.46 L194.50,267.21 L194.85,266.95 L195.20,266.65 L195.55,266.34 L195.90,266.00 L196.25,265.65 L196.60,265.28 L196.95,264.90 L197.30,264.51 L197.65,264.12 L198.00,263.71 L198.35,263.31 L198.70,262.90 L199.05,262.50 L199.40,262.10 L199.75,261.71 L200.10,261.32 L200.45,260.95 L200.80,260.60 L201.15,260.26 L201.50,259.93 L201.85,259.64 L202.20,259.36 L202.55,259.11 L202.90,258.89 L203.25,258.70 L203.60,258.54 L203.95,258.43 L204.30,258.34 L204.65,258.30 L205.00,258.31 L205.35,258.34 L205.70,258.42 L206.05,258.52 L206.40,258.66 L206.75,258.82 L207.10,259.01 L207.45,259.22 L207.80,259.46 L208.15,259.72 L208.50,260.00 L208.85,260.30 L209.20,260.61 L209.55,260.93 L209.90,261.27 L210.25,261.62 L210.60,261.98 L210.95,262.34 L211.30,262.71 L211.65,263.08 L212.00,263.46 L212.35,263.83 L212.70,264.20 L213.05,264.57 L213.40,264.93 L213.75,265.28 L214.10,265.62 L214.45,265.95 L214.80,266.27 L215.15,266.58 L215.50,266.86 L215.85,267.13 L216.20,267.38 L216.55,267.60 L216.90,267.80 L217.25,267.98 L217.60,268.12 L217.95,268.24 L218.30,268.33 L218.65,268.38 L219.00,268.40 L219.35,268.37 L219.70,268.30 L220.05,268.18 L220.40,268.02 L220.75,267.82 L221.10,267.58 L221.45,267.31 L221.80,267.01 L222.15,266.68 L222.50,266.32 L222.85,265.95 L223.20,265.56 L223.55,265.15 L223.90,264.73 L224.25,264.31 L224.60,263.87 L224.95,263.44 L225.30,263.00 L225.65,262.57 L226.00,262.15 L226.35,261.73 L226.70,261.33 L227.05,260.94 L227.40,260.57 L227.75,260.23 L228.10,259.90 L228.45,259.61 L228.80,259.35 L229.15,259.12 L229.50,258.93 L229.85,258.78 L230.20,258.67 L230.55,258.61 L230.90,258.60 L231.25,258.65 L231.60,258.74 L231.95,258.88 L232.30,259.06 L232.65,259.29 L233.00,259.54 L233.35,259.83 L233.70,260.14 L234.05,260.48 L234.40,260.83 L234.75,261.19 L235.10,261.57 L235.45,261.95 L235.80,262.33 L236.15,262.70 L236.50,263.07 L236.85,263.42 L237.20,263.76 L237.55,264.08 L237.90,264.38 L238.25,264.64 L238.60,264.88 L238.95,265.07 L239.30,265.22 L239.65,265.33 L240.00,265.39 L240.35,265.39 L240.70,265.32 L241.05,265.17 L241.40,264.96 L241.75,264.69 L242.10,264.38 L242.45,264.02 L242.80,263.62 L243.15,263.20 L243.50,262.76 L243.85,262.31 L244.20,261.85 L244.55,261.40 L244.90,260.96 L245.25,260.53 L245.60,260.14 L245.95,259.77 L246.30,259.45 L246.65,259.17 L247.00,258.95 L247.35,258.80 L247.70,258.71 L248.05,258.70 L248.40,258.75 L248.75,258.85 L249.10,258.99 L249.45,259.17 L249.80,259.40 L250.15,259.67 L250.50,259.98 L250.85,260.32 L251.20,260.71 L251.55,261.12 L251.90,261.57 L252.25,262.04 L252.60,262.55 L252.90,263.00" stroke="#f21212" stroke-width="1.10"/>
<path d="M40.50,231.70 L40.85,231.69 L41.20,231.68 L41.55,231.67 L41.90,231.67 L42.25,231.66 L42.60,231.65 L42.95,231.63 L43.30,231.62 L43.65,231.61 L44.00,231.60 L44.35,231.58 L44.70,231.57 L45.05,231.56 L45.40,231.54 L45.75,231.52 L46.10,231.51 L46.45,231.49 L46.80,231.47 L47.15,231.45 L47.50,231.43 L47.85,231.41 L48.20,231.38 L48.55,231.36 L48.90,231.33 L49.25,231.31 L49.60,231.28 L49.95,231.25 L50.30,231.22 L50.65,230.97 L51.00,230.18 L51.35,229.13 L51.70,228.00 L52.05,226.93 L52.40,226.11 L52.75,226.20 L53.10,227.39 L53.45,228.91 L53.80,230.70 L54.15,232.73 L54.50,234.94 L54.85,237.28 L55.20,239.70 L55.55,245.37 L55.90,252.49 L56.25,260.58 L56.60,269.16 L56.95,277.77 L57.30,285.92 L57.65,293.15 L58.00,298.98 L58.35,301.92 L58.70,296.40 L59.05,288.77 L59.40,279.53 L59.75,269.20 L60.10,258.28 L60.45,247.28 L60.80,236.73 L61.15,227.12 L61.50,218.98 L61.85,212.81 L62.20,213.68 L62.55,220.48 L62.90,229.28 L63.25,239.53 L63.60,250.70 L63.95,262.26 L64.30,273.66 L64.65,284.37 L65.00,293.86 L65.35,301.58 L65.70,307.00 L66.05,303.66 L66.40,299.13 L66.75,293.62 L67.10,287.30 L67.45,280.38 L67.80,273.04 L68.15,265.49 L68.50,257.90 L68.85,250.48 L69.20,243.42 L69.55,236.91 L69.90,231.15 L70.25,226.32 L70.60,222.62 L70.95,222.72 L71.30,224.54 L71.65,226.83 L72.00,229.43 L72.35,232.16 L72.70,234.86 L73.05,237.36 L73.40,239.48 L73.75,240.74 L74.10,241.67 L74.45,242.51 L74.80,243.31 L75.15,244.13 L75.50,245.03 L75.85,246.17 L76.20,248.22 L76.55,250.52 L76.90,253.06 L77.25,255.78 L77.60,258.67 L77.95,261.69 L78.30,264.80 L78.65,267.97 L79.00,271.16 L79.35,274.35 L79.70,277.51 L80.05,280.59 L80.40,283.56 L80.75,286.40 L81.10,289.07 L81.45,291.53 L81.80,293.75 L82.15,295.71 L82.50,297.35 L82.85,298.23 L83.20,295.91 L83.55,292.96 L83.90,289.45 L84.25,285.45 L84.60,281.05 L84.95,276.32 L85.30,271.33 L85.65,266.17 L86.00,260.91 L86.35,255.63 L86.70,250.40 L87.05,245.31 L87.40,240.42 L87.75,235.82 L88.10,231.58 L88.45,227.78 L88.80,224.50 L89.15,221.81 L89.50,220.98 L89.85,223.93 L90.20,227.72 L90.55,232.22 L90.90,237.31 L91.25,242.88 L91.60,248.81 L91.95,254.97 L92.30,261.25 L92.65,267.53 L93.00,273.69 L93.35,279.62 L93.70,285.19 L94.05,290.28 L94.40,294.78 L94.75,298.57 L95.10,301.52 L95.45,300.38 L95.80,297.08 L96.15,293.00 L96.50,288.27 L96.85,282.99 L97.20,277.30 L97.55,271.30 L97.90,265.12 L98.25,258.87 L98.60,252.67 L98.95,246.64 L99.30,240.90 L99.65,235.56 L100.00,230.74 L100.35,226.56 L100.70,223.14 L101.05,221.14 L101.40,223.16 L101.75,225.70 L102.10,228.70 L102.45,232.10 L102.80,235.86 L103.15,239.91 L103.50,244.20 L103.85,248.68 L104.20,253.28 L104.55,257.96 L104.90,262.65 L105.25,267.30 L105.60,271.86 L105.95,276.26 L106.30,280.46 L106.65,284.39 L107.00,288.00 L107.35,291.24 L107.70,294.05 L108.05,296.37 L108.40,297.39 L108.75,296.08 L109.10,294.46 L109.45,292.57 L109.80,290.42 L110.15,288.07 L110.50,285.54 L110.85,282.85 L111.20,280.05 L111.55,277.17 L111.90,274.24 L112.25,271.28 L112.60,268.35 L112.95,265.45 L113.30,262.64 L113.65,259.94 L114.00,257.38 L114.35,255.00 L114.70,252.83 L115.05,250.89 L115.40,249.23 L115.75,247.88 L116.10,247.92 L116.45,249.00 L116.80,250.32 L117.15,251.82 L117.50,253.51 L117.85,255.36 L118.20,257.34 L118.55,259.43 L118.90,261.62 L119.25,263.89 L119.60,266.20 L119.95,268.54 L120.30,270.89 L120.65,273.23 L121.00,275.54 L121.35,277.79 L121.70,279.97 L122.05,282.05 L122.40,284.02 L122.75,285.84 L123.10,287.50 L123.45,288.98 L123.80,290.26 L124.15,291.32 L124.50,291.00 L124.85,289.52 L125.20,287.77 L125.55,285.77 L125.90,283.53 L126.25,281.08 L126.60,278.44 L126.95,275.65 L127.30,272.73 L127.65,269.69 L128.00,266.56 L128.35,263.38 L128.70,260.15 L129.05,256.91 L129.40,253.68 L129.75,250.49 L130.10,247.35 L130.45,244.30 L130.80,241.36 L131.15,238.55 L131.50,235.89 L131.85,233.41 L132.20,231.14 L132.55,229.10 L132.90,227.31 L133.25,225.80 L133.60,225.24 L133.95,226.63 L134.30,228.30 L134.65,230.22 L135.00,232.38 L135.35,234.75 L135.70,237.31 L136.05,240.04 L136.40,242.91 L136.75,245.90 L137.10,249.00 L137.45,252.17 L137.80,255.39 L138.15,258.65 L138.50,261.92 L138.85,265.17 L139.20,268.39 L139.55,271.55 L139.90,274.63 L140.25,277.61 L140.60,280.46 L140.95,283.17 L141.30,285.70 L141.65,288.04 L142.00,290.17 L142.35,292.06 L142.70,293.69 L143.05,295.03 L143.40,294.42 L143.75,293.28 L144.10,291.92 L144.45,290.36 L144.80,288.63 L145.15,286.75 L145.50,284.75 L145.85,282.65 L146.20,280.47 L146.55,278.23 L146.90,275.97 L147.25,273.71 L147.60,271.47 L147.95,269.27 L148.30,267.14 L148.65,265.11 L149.00,263.19 L149.35,261.41 L149.70,259.80 L150.05,258.39 L150.40,257.18 L150.75,256.22 L151.10,256.69 L151.45,257.53 L151.80,258.51 L152.15,259.63 L152.50,260.87 L152.85,262.21 L153.20,263.65 L153.55,265.18 L153.90,266.77 L154.25,268.42 L154.60,270.12 L154.95,271.85 L155.30,273.60 L155.65,275.35 L156.00,277.10 L156.35,278.84 L156.70,280.54 L157.05,282.20 L157.40,283.80 L157.75,285.33 L158.10,286.79 L158.45,288.15 L158.80,289.40 L159.15,290.54 L159.50,291.54 L159.85,292.40 L160.20,293.10 L160.55,292.26 L160.90,291.23 L161.25,290.00 L161.60,288.61 L161.95,287.07 L162.30,285.40 L162.65,283.62 L163.00,281.75 L163.35,279.80 L163.70,277.80 L164.05,275.76 L164.40,273.70 L164.75,271.64 L165.10,269.60 L165.45,267.60 L165.80,265.65 L166.15,263.78 L166.50,262.00 L166.85,260.33 L167.20,258.79 L167.55,257.40 L167.90,256.17 L168.25,255.14 L168.60,254.30 L168.95,255.12 L169.30,256.13 L169.65,257.33 L170.00,258.69 L170.35,260.19 L170.70,261.82 L171.05,263.56 L171.40,265.39 L171.75,267.29 L172.10,269.25 L172.45,271.24 L172.80,273.25 L173.15,275.26 L173.50,277.25 L173.85,279.21 L174.20,281.11 L174.55,282.94 L174.90,284.68 L175.25,286.31 L175.60,287.81 L175.95,289.17 L176.30,290.37 L176.65,291.38 L177.00,292.20 L177.35,291.63 L177.70,290.95 L178.05,290.16 L178.40,289.27 L178.75,288.29 L179.10,287.22 L179.45,286.08 L179.80,284.88 L180.15,283.61 L180.50,282.30 L180.85,280.95 L181.20,279.56 L181.55,278.15 L181.90,276.73 L182.25,275.30 L182.60,273.86 L182.95,272.44 L183.30,271.04 L183.65,269.66 L184.00,268.32 L184.35,267.02 L184.70,265.77 L185.05,264.59 L185.40,263.47 L185.75,262.43 L186.10,261.47 L186.45,260.60 L186.80,259.84 L187.15,259.19 L187.50,258.95 L187.85,259.56 L188.20,260.28 L188.55,261.11 L188.90,262.05 L189.25,263.07 L189.60,264.18 L189.95,265.36 L190.30,266.60 L190.65,267.90 L191.00,269.24 L191.35,270.62 L191.70,272.03 L192.05,273.46 L192.40,274.89 L192.75,276.33 L193.10,277.77 L193.45,279.18 L193.80,280.57 L194.15,281.93 L194.50,283.24 L194.85,284.50 L195.20,285.69 L195.55,286.82 L195.90,287.87 L196.25,288.83 L196.60,289.69 L196.95,290.45 L197.30,291.09 L197.65,291.21 L198.00,290.70 L198.35,290.10 L198.70,289.42 L199.05,288.67 L199.40,287.85 L199.75,286.96 L200.10,286.01 L200.45,285.02 L200.80,283.98 L201.15,282.89 L201.50,281.78 L201.85,280.63 L202.20,279.46 L202.55,278.28 L202.90,277.08 L203.25,275.88 L203.60,274.68 L203.95,273.48 L204.30,272.30 L204.65,271.14 L205.00,270.00 L205.35,268.89 L205.70,267.82 L206.05,266.79 L206.40,265.81 L206.75,264.88 L207.10,264.01 L207.45,263.21 L207.80,262.47 L208.15,261.82 L208.50,261.25 L208.85,260.76 L209.20,261.05 L209.55,261.55 L209.90,262.14 L210.25,262.82 L210.60,263.56 L210.95,264.36 L211.30,265.22 L211.65,266.11 L212.00,267.04 L212.35,267.98 L212.70,268.93 L213.05,269.89 L213.40,270.83 L213.75,271.75 L214.10,272.65 L214.45,273.50 L214.80,274.30 L215.15,275.03 L215.50,275.79 L215.85,276.56 L216.20,277.36 L216.55,278.16 L216.90,278.97 L217.25,279.78 L217.60,280.59 L217.95,281.40 L218.30,282.19 L218.65,282.98 L219.00,283.74 L219.35,284.48 L219.70,285.19 L220.05,285.87 L220.40,286.52 L220.75,287.12 L221.10,287.68 L221.45,288.20 L221.80,288.66 L222.15,289.06 L222.50,289.40 L222.85,289.27 L223.20,289.11 L223.55,288.92 L223.90,288.70 L224.25,288.46 L224.60,288.20 L224.95,287.92 L225.30,287.62 L225.65,287.32 L226.00,287.01 L226.35,286.70 L226.70,286.39 L227.05,286.08 L227.40,285.78 L227.75,285.48 L228.10,285.20 L228.45,284.94 L228.80,284.70 L229.15,284.48 L229.50,284.29 L229.85,284.13 L230.20,284.00 L230.55,284.02 L230.90,284.05 L231.25,284.08 L231.60,284.11 L231.95,284.15 L232.30,284.19 L232.65,284.24 L233.00,284.29 L233.35,284.34 L233.70,284.39 L234.05,284.44 L234.40,284.50 L234.75,284.56 L235.10,284.64 L235.45,284.83 L235.80,285.04 L236.15,285.28 L236.50,285.55 L236.85,285.83 L237.20,286.12 L237.55,286.43 L237.90,286.73 L238.25,287.04 L238.60,287.33 L238.95,287.62 L239.30,287.88 L239.65,288.12 L240.00,288.34 L240.35,288.52 L240.70,288.67 L241.05,288.61 L241.40,288.46 L241.75,288.28 L242.10,288.07 L242.45,287.84 L242.80,287.59 L243.15,287.32 L243.50,287.03 L243.85,286.73 L244.20,286.42 L244.55,286.11 L244.90,285.80 L245.25,285.48 L245.60,285.16 L245.95,284.86 L246.30,284.55 L246.65,284.27 L247.00,283.99 L247.35,283.73 L247.70,283.49 L248.05,283.28 L248.40,283.09 L248.75,282.93 L249.10,282.80 L249.45,282.83 L249.80,282.87 L250.15,282.91 L250.50,282.95 L250.85,283.00 L251.20,283.06 L251.55,283.13 L251.90,283.21 L252.25,283.30 L252.60,283.40 L252.90,283.50" stroke="#10f0f0" stroke-width="1.25"/>
</g>
<line x1="99.97" y1="191.60" x2="99.97" y2="319.70" stroke="#222" stroke-width="0.8" stroke-dasharray="2.7,1.3"/>
<path d="M40.50,319.70v-2.20M40.50,191.60v2.20M82.98,319.70v-2.20M82.98,191.60v2.20M125.46,319.70v-2.20M125.46,191.60v2.20M167.94,319.70v-2.20M167.94,191.60v2.20M210.42,319.70v-2.20M210.42,191.60v2.20M252.90,319.70v-2.20M252.90,191.60v2.20M40.50,319.70h2.20M252.90,319.70h-2.20M40.50,306.89h2.20M252.90,306.89h-2.20M40.50,294.08h2.20M252.90,294.08h-2.20M40.50,281.27h2.20M252.90,281.27h-2.20M40.50,268.46h2.20M252.90,268.46h-2.20M40.50,255.65h2.20M252.90,255.65h-2.20M40.50,242.84h2.20M252.90,242.84h-2.20M40.50,230.03h2.20M252.90,230.03h-2.20M40.50,217.22h2.20M252.90,217.22h-2.20M40.50,204.41h2.20M252.90,204.41h-2.20M40.50,191.60h2.20M252.90,191.60h-2.20" stroke="#777" stroke-width="0.8" fill="none"/>
<rect x="40.50" y="191.60" width="212.40" height="128.10" fill="none" stroke="#707070" stroke-width="1.1"/>
<text x="40.50" y="331.60" text-anchor="middle" class="t">0</text>
<text x="82.98" y="331.60" text-anchor="middle" class="t">0.5</text>
<text x="125.46" y="331.60" text-anchor="middle" class="t">1</text>
<text x="167.94" y="331.60" text-anchor="middle" class="t">1.5</text>
<text x="210.42" y="331.60" text-anchor="middle" class="t">2</text>
<text x="252.90" y="331.60" text-anchor="middle" class="t">2.5</text>
<text x="37.30" y="322.90" text-anchor="end" class="t">-8</text>
<text x="37.30" y="310.09" text-anchor="end" class="t">-6</text>
<text x="37.30" y="297.28" text-anchor="end" class="t">-4</text>
<text x="37.30" y="284.47" text-anchor="end" class="t">-2</text>
<text x="37.30" y="271.66" text-anchor="end" class="t">0</text>
<text x="37.30" y="258.85" text-anchor="end" class="t">2</text>
<text x="37.30" y="246.04" text-anchor="end" class="t">4</text>
<text x="37.30" y="233.23" text-anchor="end" class="t">6</text>
<text x="37.30" y="220.42" text-anchor="end" class="t">8</text>
<text x="37.30" y="207.61" text-anchor="end" class="t">10</text>
<text x="37.30" y="194.80" text-anchor="end" class="t">12</text>
<text x="146.70" y="344.30" text-anchor="middle" class="t">Time (s)</text>
<text transform="translate(22.80,255.65) rotate(-90)" text-anchor="middle" class="t">Strain</text>
<text x="41.40" y="189.60" class="t"><tspan font-size="11.5" dy="1.5" style="stroke-width:0.1px">&#215;</tspan><tspan dy="-1.5">10</tspan><tspan dy="-4.6" font-size="7.2">-4</tspan></text>
<text x="8.00" y="192.80" class="lab">(c)</text>
<text x="42.50" y="201.80" class="v"><tspan font-style="italic">v</tspan>=1.85 m/s</text>
<text x="98.40" y="314.10" text-anchor="end" class="t ob">On bridge</text>
<text x="103.40" y="314.10" class="t ob">Leaving bridge</text>
<line x1="202.00" y1="202.90" x2="221.50" y2="202.90" stroke="#22ea22" stroke-width="1.25"/>
<text x="223.00" y="206.00" class="lg">LPEH</text>
<line x1="202.00" y1="213.40" x2="221.50" y2="213.40" stroke="#f21212" stroke-width="1.10"/>
<text x="223.00" y="216.50" class="lg">BPEH</text>
<line x1="202.00" y1="223.90" x2="221.50" y2="223.90" stroke="#10f0f0" stroke-width="1.25"/>
<text x="223.00" y="227.00" class="lg">TPEH</text>
<clipPath id="cpd"><rect x="314.70" y="191.60" width="212.50" height="128.10"/></clipPath>
<g clip-path="url(#cpd)" fill="none" stroke-linejoin="round" stroke-linecap="round">
<path d="M314.70,268.30 L315.05,268.30 L315.40,268.30 L315.75,268.30 L316.10,268.30 L316.45,268.30 L316.80,268.30 L317.15,268.30 L317.50,268.30 L317.85,268.30 L318.20,268.30 L318.55,268.30 L318.90,268.30 L319.25,268.30 L319.60,268.30 L319.95,268.30 L320.30,268.30 L320.65,268.30 L321.00,268.30 L321.35,268.30 L321.70,268.30 L322.05,268.31 L322.40,268.77 L322.75,269.81 L323.10,271.23 L323.45,272.85 L323.80,274.47 L324.15,275.89 L324.50,276.93 L324.85,277.39 L325.20,276.87 L325.55,275.10 L325.90,272.39 L326.25,269.05 L326.60,265.40 L326.95,261.75 L327.30,258.41 L327.65,255.70 L328.00,253.93 L328.35,253.42 L328.70,254.71 L329.05,257.60 L329.40,261.60 L329.75,266.17 L330.10,270.83 L330.45,275.04 L330.80,278.30 L331.15,280.10 L331.50,279.99 L331.85,278.16 L332.20,275.10 L332.55,271.25 L332.90,267.07 L333.25,263.04 L333.60,259.61 L333.95,257.23 L334.30,256.37 L334.65,257.32 L335.00,259.76 L335.35,263.22 L335.70,267.25 L336.05,271.40 L336.40,275.19 L336.75,278.19 L337.10,279.92 L337.45,279.94 L337.80,278.27 L338.15,275.32 L338.50,271.56 L338.85,267.44 L339.20,263.42 L339.55,259.96 L339.90,257.50 L340.25,256.50 L340.60,257.30 L340.95,259.60 L341.30,262.96 L341.65,266.91 L342.00,271.02 L342.35,274.82 L342.70,277.87 L343.05,279.70 L343.40,279.88 L343.75,278.35 L344.10,275.53 L344.45,271.86 L344.80,267.80 L345.15,263.80 L345.50,260.31 L345.85,257.78 L346.20,256.65 L346.55,257.29 L346.90,259.45 L347.25,262.70 L347.60,266.58 L347.95,270.65 L348.30,274.45 L348.65,277.54 L349.00,279.48 L349.35,279.81 L349.70,278.43 L350.05,275.73 L350.40,272.16 L350.75,268.16 L351.10,264.18 L351.45,260.66 L351.80,258.06 L352.15,256.81 L352.50,257.29 L352.85,259.32 L353.20,262.46 L353.55,266.26 L353.90,270.28 L354.25,274.08 L354.60,277.22 L354.95,279.24 L355.30,279.73 L355.65,278.49 L356.00,275.91 L356.35,272.44 L356.70,268.50 L357.05,264.55 L357.40,261.02 L357.75,258.35 L358.10,256.98 L358.45,257.31 L358.80,259.20 L359.15,262.22 L359.50,265.94 L359.85,269.92 L360.20,273.71 L360.55,276.89 L360.90,279.00 L361.25,279.62 L361.60,278.54 L361.95,276.09 L362.30,272.71 L362.65,268.84 L363.00,264.92 L363.35,261.37 L363.70,258.65 L364.05,257.17 L364.40,257.34 L364.75,259.09 L365.10,262.00 L365.45,265.64 L365.80,269.56 L366.15,273.35 L366.50,276.55 L366.85,278.75 L367.20,279.51 L367.55,278.57 L367.90,276.25 L368.25,272.97 L368.60,269.17 L368.95,265.28 L369.30,261.73 L369.65,258.95 L370.00,257.36 L370.35,257.38 L370.70,259.00 L371.05,261.80 L371.40,265.34 L371.75,269.21 L372.10,272.98 L372.45,276.22 L372.80,278.49 L373.15,279.38 L373.50,278.59 L373.85,276.40 L374.20,273.22 L374.55,269.49 L374.90,265.64 L375.25,262.08 L375.60,259.25 L375.95,257.56 L376.30,257.44 L376.65,258.92 L377.00,261.60 L377.35,265.06 L377.70,268.87 L378.05,272.62 L378.40,275.88 L378.75,278.23 L379.10,279.24 L379.45,278.60 L379.80,276.53 L380.15,273.46 L380.50,269.81 L380.85,265.99 L381.20,262.44 L381.55,259.56 L381.90,257.78 L382.25,257.51 L382.60,258.85 L382.95,261.41 L383.30,264.78 L383.65,268.54 L384.00,272.27 L384.35,275.55 L384.70,277.96 L385.05,279.09 L385.40,278.59 L385.75,276.65 L386.10,273.69 L386.45,270.11 L386.80,266.34 L387.15,262.79 L387.50,259.87 L387.85,258.00 L388.20,257.60 L388.55,258.80 L388.90,261.24 L389.25,264.52 L389.60,268.21 L389.95,271.91 L390.30,275.21 L390.65,277.68 L391.00,278.92 L391.35,278.57 L391.70,276.76 L392.05,273.90 L392.40,270.41 L392.75,266.68 L393.10,263.14 L393.45,260.18 L393.80,258.23 L394.15,257.70 L394.50,258.76 L394.85,261.08 L395.20,264.26 L395.55,267.90 L395.90,271.57 L396.25,274.87 L396.60,277.40 L396.95,278.75 L397.30,278.54 L397.65,276.86 L398.00,274.11 L398.35,270.69 L398.70,267.02 L399.05,263.48 L399.40,260.50 L399.75,258.48 L400.10,257.81 L400.45,258.73 L400.80,260.92 L401.15,263.98 L401.50,267.52 L401.85,271.14 L402.20,274.43 L402.55,276.99 L402.90,278.42 L403.25,278.36 L403.60,276.84 L403.95,274.25 L404.30,270.98 L404.65,267.43 L405.00,263.98 L405.35,261.03 L405.70,258.98 L406.05,258.20 L406.40,258.96 L406.75,260.98 L407.10,263.87 L407.45,267.25 L407.80,270.73 L408.15,273.94 L408.50,276.48 L408.85,277.97 L409.20,278.04 L409.55,276.68 L409.90,274.27 L410.25,271.17 L410.60,267.76 L410.95,264.42 L411.30,261.54 L411.65,259.47 L412.00,258.61 L412.35,259.21 L412.70,261.06 L413.05,263.78 L413.40,267.00 L413.75,270.35 L414.10,273.46 L414.45,275.97 L414.80,277.50 L415.15,277.70 L415.50,276.50 L415.85,274.26 L416.20,271.33 L416.55,268.07 L416.90,264.85 L417.25,262.03 L417.60,259.96 L417.95,259.02 L418.30,259.49 L418.65,261.17 L419.00,263.72 L419.35,266.77 L419.70,269.99 L420.05,273.01 L420.40,275.47 L420.75,277.04 L421.10,277.34 L421.45,276.30 L421.80,274.22 L422.15,271.46 L422.50,268.35 L422.85,265.25 L423.20,262.51 L423.55,260.45 L423.90,259.45 L424.25,259.78 L424.60,261.30 L424.95,263.68 L425.30,266.58 L425.65,269.65 L426.00,272.57 L426.35,274.99 L426.70,276.57 L427.05,276.97 L427.40,276.08 L427.75,274.17 L428.10,271.57 L428.45,268.62 L428.80,265.64 L429.15,262.97 L429.50,260.94 L429.85,259.88 L430.20,260.08 L430.55,261.47 L430.90,263.70 L431.25,266.47 L431.60,269.43 L431.95,272.27 L432.30,274.65 L432.65,276.26 L433.00,276.76 L433.35,275.98 L433.70,274.18 L434.05,271.67 L434.40,268.78 L434.75,265.85 L435.10,263.18 L435.45,261.12 L435.80,259.98 L436.15,260.08 L436.50,261.36 L436.85,263.52 L437.20,266.23 L437.55,269.17 L437.90,272.01 L438.25,274.43 L438.60,276.10 L438.95,276.71 L439.30,276.04 L439.65,274.32 L440.00,271.87 L440.35,269.03 L440.70,266.11 L441.05,263.43 L441.40,261.32 L441.75,260.10 L442.10,260.08 L442.45,261.26 L442.80,263.35 L443.15,266.00 L443.50,268.91 L443.85,271.75 L444.20,274.20 L444.55,275.94 L444.90,276.64 L445.25,276.08 L445.60,274.45 L445.95,272.08 L446.30,269.27 L446.65,266.37 L447.00,263.68 L447.35,261.52 L447.70,260.22 L448.05,260.09 L448.40,261.18 L448.75,263.18 L449.10,265.78 L449.45,268.66 L449.80,271.50 L450.15,273.98 L450.50,275.77 L450.85,276.57 L451.20,276.12 L451.55,274.58 L451.90,272.27 L452.25,269.51 L452.60,266.63 L452.95,263.92 L453.30,261.72 L453.65,260.35 L454.00,260.11 L454.35,261.10 L454.70,263.02 L455.05,265.56 L455.40,268.41 L455.75,271.24 L456.10,273.74 L456.45,275.60 L456.80,276.49 L457.15,276.15 L457.50,274.70 L457.85,272.46 L458.20,269.75 L458.55,266.88 L458.90,264.17 L459.25,261.93 L459.60,260.49 L459.95,260.14 L460.30,261.03 L460.65,262.87 L461.00,265.35 L461.35,268.16 L461.70,270.99 L462.05,273.51 L462.40,275.42 L462.75,276.40 L463.10,276.16 L463.45,274.81 L463.80,272.64 L464.15,269.98 L464.50,267.13 L464.85,264.42 L465.20,262.14 L465.55,260.63 L465.90,260.18 L466.25,260.96 L466.60,262.72 L466.95,265.14 L467.30,267.92 L467.65,270.73 L468.00,273.28 L468.35,275.23 L468.70,276.30 L469.05,276.17 L469.40,274.91 L469.75,272.82 L470.10,270.21 L470.45,267.38 L470.80,264.67 L471.15,262.36 L471.50,260.78 L471.85,260.23 L472.20,260.91 L472.55,262.58 L472.90,264.94 L473.25,267.68 L473.60,270.48 L473.95,273.04 L474.30,275.05 L474.65,276.19 L475.00,276.17 L475.35,275.00 L475.70,272.99 L476.05,270.43 L476.40,267.63 L476.75,264.91 L477.10,262.58 L477.45,260.93 L477.80,260.29 L478.15,260.87 L478.50,262.45 L478.85,264.75 L479.20,267.44 L479.55,270.23 L479.90,272.80 L480.25,274.85 L480.60,276.07 L480.95,276.16 L481.30,275.09 L481.65,273.15 L482.00,270.64 L482.35,267.88 L482.70,265.16 L483.05,262.80 L483.40,261.10 L483.75,260.36 L484.10,260.83 L484.45,262.33 L484.80,264.56 L485.15,267.21 L485.50,269.98 L485.85,272.57 L486.20,274.66 L486.55,275.95 L486.90,276.14 L487.25,275.17 L487.60,273.30 L487.95,270.85 L488.30,268.12 L488.65,265.41 L489.00,263.02 L489.35,261.26 L489.70,260.44 L490.05,260.80 L490.40,262.22 L490.75,264.38 L491.10,266.99 L491.45,269.74 L491.80,272.33 L492.15,274.46 L492.50,275.82 L492.85,276.11 L493.20,275.23 L493.55,273.45 L493.90,271.05 L494.25,268.35 L494.60,265.65 L494.95,263.24 L495.30,261.44 L495.65,260.53 L496.00,260.79 L496.35,262.11 L496.70,264.20 L497.05,266.77 L497.40,269.49 L497.75,272.09 L498.10,274.25 L498.45,275.68 L498.80,276.07 L499.15,275.29 L499.50,273.59 L499.85,271.25 L500.20,268.59 L500.55,265.89 L500.90,263.47 L501.25,261.61 L501.60,260.63 L501.95,260.78 L502.30,262.01 L502.65,264.04 L503.00,266.55 L503.35,269.25 L503.70,271.85 L504.05,274.04 L504.40,275.54 L504.75,276.03 L505.10,275.35 L505.45,273.72 L505.80,271.45 L506.15,268.82 L506.50,266.14 L506.85,263.70 L507.20,261.79 L507.55,260.73 L507.90,260.78 L508.25,261.92 L508.60,263.88 L508.95,266.34 L509.30,269.02 L509.65,271.61 L510.00,273.84 L510.35,275.39 L510.70,275.97 L511.05,275.39 L511.40,273.84 L511.75,271.63 L512.10,269.04 L512.45,266.38 L512.80,263.92 L513.15,261.98 L513.50,260.84 L513.85,260.79 L514.20,261.84 L514.55,263.72 L514.90,266.13 L515.25,268.78 L515.60,271.38 L515.95,273.62 L516.30,275.23 L516.65,275.90 L517.00,275.42 L517.35,273.96 L517.70,271.81 L518.05,269.27 L518.40,266.61 L518.75,264.15 L519.10,262.17 L519.45,260.96 L519.80,260.81 L520.15,261.77 L520.50,263.57 L520.85,265.93 L521.20,268.55 L521.55,271.14 L521.90,273.41 L522.25,275.07 L522.60,275.83 L522.95,275.70 L523.30,275.16 L523.65,274.20 L524.00,272.82 L524.35,271.04 L524.70,268.84 L525.05,266.23 L525.40,263.20 L525.65,260.79" stroke="#22ea22" stroke-width="1.25"/>
<path d="M314.70,261.20 L315.05,261.20 L315.40,261.20 L315.75,261.20 L316.10,261.20 L316.45,261.20 L316.80,261.20 L317.15,261.20 L317.50,261.20 L317.85,261.20 L318.20,261.20 L318.55,261.20 L318.90,261.20 L319.25,261.20 L319.60,261.20 L319.95,261.20 L320.30,261.20 L320.65,261.20 L321.00,261.20 L321.35,261.20 L321.70,261.20 L322.05,261.20 L322.40,261.20 L322.75,261.20 L323.10,261.20 L323.45,261.20 L323.80,261.20 L324.15,261.20 L324.50,261.20 L324.85,261.20 L325.20,261.20 L325.55,261.20 L325.90,261.20 L326.25,261.20 L326.60,261.20 L326.95,261.68 L327.30,262.99 L327.65,264.99 L328.00,267.50 L328.35,270.36 L328.70,273.41 L329.05,276.48 L329.40,279.41 L329.75,282.04 L330.10,284.20 L330.45,285.73 L330.80,286.46 L331.15,285.77 L331.50,282.62 L331.85,277.52 L332.20,271.11 L332.55,263.99 L332.90,256.78 L333.25,250.10 L333.60,244.57 L333.95,240.79 L334.30,239.40 L334.65,241.13 L335.00,245.86 L335.35,252.88 L335.70,261.50 L336.05,271.01 L336.40,280.73 L336.75,289.95 L337.10,297.97 L337.45,304.09 L337.80,307.62 L338.15,307.59 L338.50,302.01 L338.85,292.01 L339.20,279.31 L339.55,265.62 L339.90,252.68 L340.25,242.18 L340.60,235.87 L340.95,235.32 L341.30,240.14 L341.65,248.84 L342.00,259.98 L342.35,272.15 L342.70,283.90 L343.05,293.82 L343.40,300.48 L343.75,302.47 L344.10,300.89 L344.45,297.20 L344.80,291.86 L345.15,285.34 L345.50,278.09 L345.85,270.58 L346.20,263.26 L346.55,256.61 L346.90,251.07 L347.25,247.12 L347.60,245.21 L347.95,246.53 L348.30,252.55 L348.65,261.79 L349.00,272.65 L349.35,283.51 L349.70,292.75 L350.05,298.77 L350.40,300.10 L350.75,298.24 L351.10,294.37 L351.45,288.91 L351.80,282.30 L352.15,274.96 L352.50,267.31 L352.85,259.78 L353.20,252.81 L353.55,246.80 L353.90,242.20 L354.25,239.43 L354.60,239.02 L354.95,242.85 L355.30,250.46 L355.65,260.52 L356.00,271.72 L356.35,282.72 L356.70,292.22 L357.05,298.88 L357.40,301.40 L357.75,300.10 L358.10,296.51 L358.45,291.12 L358.80,284.41 L359.15,276.87 L359.50,268.99 L359.85,261.25 L360.20,254.12 L360.55,248.11 L360.90,243.69 L361.25,241.35 L361.60,241.93 L361.95,246.82 L362.30,254.96 L362.65,265.00 L363.00,275.60 L363.35,285.45 L363.70,293.20 L364.05,297.53 L364.40,297.45 L364.75,294.13 L365.10,288.47 L365.45,281.20 L365.80,273.09 L366.15,264.86 L366.50,257.28 L366.85,251.08 L367.20,247.02 L367.55,245.82 L367.90,247.00 L368.25,249.79 L368.60,253.88 L368.95,258.94 L369.30,264.68 L369.65,270.77 L370.00,276.90 L370.35,282.77 L370.70,288.06 L371.05,292.46 L371.40,295.65 L371.75,297.32 L372.10,297.01 L372.45,294.04 L372.80,288.91 L373.15,282.21 L373.50,274.56 L373.85,266.57 L374.20,258.84 L374.55,251.97 L374.90,246.57 L375.25,243.26 L375.60,242.58 L375.95,243.96 L376.30,246.87 L376.65,251.00 L377.00,256.06 L377.35,261.75 L377.70,267.78 L378.05,273.85 L378.40,279.67 L378.75,284.94 L379.10,289.36 L379.45,292.65 L379.80,294.50 L380.15,294.50 L380.50,291.67 L380.85,286.47 L381.20,279.62 L381.55,271.84 L381.90,263.86 L382.25,256.38 L382.60,250.15 L382.95,245.88 L383.30,244.30 L383.65,245.32 L384.00,248.14 L384.35,252.35 L384.70,257.56 L385.05,263.39 L385.40,269.45 L385.75,275.33 L386.10,280.66 L386.45,285.04 L386.80,288.07 L387.15,289.38 L387.50,288.73 L387.85,286.47 L388.20,282.92 L388.55,278.41 L388.90,273.28 L389.25,267.87 L389.60,262.51 L389.95,257.53 L390.30,253.26 L390.65,250.04 L391.00,248.20 L391.35,248.06 L391.70,249.52 L392.05,252.31 L392.40,256.13 L392.75,260.68 L393.10,265.69 L393.45,270.87 L393.80,275.92 L394.15,280.56 L394.50,284.50 L394.85,287.45 L395.20,289.13 L395.55,289.28 L395.90,288.14 L396.25,285.96 L396.60,282.92 L396.95,279.21 L397.30,275.04 L397.65,270.59 L398.00,266.06 L398.35,261.64 L398.70,257.53 L399.05,253.90 L399.40,250.97 L399.75,248.93 L400.10,247.95 L400.45,248.29 L400.80,249.99 L401.15,252.83 L401.50,256.52 L401.85,260.82 L402.20,265.45 L402.55,270.16 L402.90,274.68 L403.25,278.75 L403.60,282.11 L403.95,284.49 L404.30,285.64 L404.65,285.40 L405.00,284.08 L405.35,281.84 L405.70,278.88 L406.05,275.37 L406.40,271.48 L406.75,267.39 L407.10,263.27 L407.45,259.31 L407.80,255.67 L408.15,252.54 L408.50,250.08 L408.85,248.47 L409.20,247.90 L409.55,248.58 L409.90,250.49 L410.25,253.40 L410.60,257.09 L410.95,261.35 L411.30,265.95 L411.65,270.68 L412.00,275.31 L412.35,279.63 L412.70,283.42 L413.05,286.45 L413.40,288.51 L413.75,289.39 L414.10,288.94 L414.45,287.36 L414.80,284.82 L415.15,281.52 L415.50,277.63 L415.85,273.35 L416.20,268.85 L416.55,264.33 L416.90,259.96 L417.25,255.94 L417.60,252.45 L417.95,249.68 L418.30,247.80 L418.65,247.01 L419.00,247.47 L419.35,249.08 L419.70,251.65 L420.05,255.00 L420.40,258.93 L420.75,263.24 L421.10,267.75 L421.45,272.26 L421.80,276.57 L422.15,280.50 L422.50,283.85 L422.85,286.42 L423.20,288.03 L423.55,288.49 L423.90,287.63 L424.25,285.60 L424.60,282.62 L424.95,278.91 L425.30,274.70 L425.65,270.21 L426.00,265.65 L426.35,261.25 L426.70,257.22 L427.05,253.80 L427.40,251.20 L427.75,249.65 L428.10,249.34 L428.45,250.00 L428.80,251.41 L429.15,253.44 L429.50,256.00 L429.85,258.94 L430.20,262.18 L430.55,265.57 L430.90,269.02 L431.25,272.40 L431.60,275.60 L431.95,278.50 L432.30,280.98 L432.65,282.94 L433.00,284.24 L433.35,284.79 L433.70,284.64 L434.05,284.06 L434.40,283.11 L434.75,281.83 L435.10,280.28 L435.45,278.49 L435.80,276.52 L436.15,274.41 L436.50,272.20 L436.85,269.95 L437.20,267.70 L437.55,265.49 L437.90,263.38 L438.25,261.41 L438.60,259.62 L438.95,258.07 L439.30,256.79 L439.65,255.84 L440.00,255.26 L440.35,255.10 L440.70,255.20 L441.05,255.46 L441.40,255.86 L441.75,256.39 L442.10,257.03 L442.45,257.79 L442.80,258.65 L443.15,259.59 L443.50,260.62 L443.85,261.71 L444.20,262.85 L444.55,264.04 L444.90,265.27 L445.25,266.52 L445.60,267.79 L445.95,269.06 L446.30,270.32 L446.65,271.56 L447.00,272.77 L447.35,273.95 L447.70,275.07 L448.05,276.13 L448.40,277.12 L448.75,278.03 L449.10,278.85 L449.45,279.56 L449.80,280.16 L450.15,280.63 L450.50,280.97 L450.85,281.16 L451.20,281.18 L451.55,280.90 L451.90,280.27 L452.25,279.35 L452.60,278.17 L452.95,276.77 L453.30,275.18 L453.65,273.44 L454.00,271.59 L454.35,269.66 L454.70,267.70 L455.05,265.74 L455.40,263.81 L455.75,261.96 L456.10,260.22 L456.45,258.63 L456.80,257.23 L457.15,256.05 L457.50,255.13 L457.85,254.50 L458.20,254.22 L458.55,254.28 L458.90,254.67 L459.25,255.34 L459.60,256.26 L459.95,257.40 L460.30,258.73 L460.65,260.21 L461.00,261.82 L461.35,263.53 L461.70,265.30 L462.05,267.10 L462.40,268.90 L462.75,270.67 L463.10,272.38 L463.45,273.99 L463.80,275.47 L464.15,276.80 L464.50,277.94 L464.85,278.86 L465.20,279.53 L465.55,279.92 L465.90,280.00 L466.25,279.92 L466.60,279.76 L466.95,279.53 L467.30,279.21 L467.65,278.83 L468.00,278.39 L468.35,277.90 L468.70,277.36 L469.05,276.79 L469.40,276.17 L469.75,275.54 L470.10,274.88 L470.45,274.21 L470.80,273.53 L471.15,272.85 L471.50,272.18 L471.85,271.53 L472.20,270.89 L472.55,270.28 L472.90,269.66 L473.25,268.95 L473.60,268.16 L473.95,267.31 L474.30,266.42 L474.65,265.50 L475.00,264.56 L475.35,263.63 L475.70,262.71 L476.05,261.82 L476.40,260.97 L476.75,260.19 L477.10,259.48 L477.45,258.86 L477.80,258.35 L478.15,257.96 L478.50,257.71 L478.85,257.60 L479.20,257.67 L479.55,257.93 L479.90,258.35 L480.25,258.92 L480.60,259.59 L480.95,260.37 L481.30,261.22 L481.65,262.11 L482.00,263.03 L482.35,263.95 L482.70,264.85 L483.05,265.71 L483.40,266.50 L483.75,267.20 L484.10,267.79 L484.45,268.25 L484.80,268.59 L485.15,268.88 L485.50,269.14 L485.85,269.37 L486.20,269.59 L486.55,269.82 L486.90,270.05 L487.25,270.30 L487.60,270.59 L487.95,270.91 L488.30,271.28 L488.65,271.68 L489.00,272.11 L489.35,272.55 L489.70,273.02 L490.05,273.49 L490.40,273.97 L490.75,274.44 L491.10,274.90 L491.45,275.35 L491.80,275.78 L492.15,276.18 L492.50,276.55 L492.85,276.87 L493.20,277.16 L493.55,277.38 L493.90,277.56 L494.25,277.66 L494.60,277.70 L494.95,277.66 L495.30,277.55 L495.65,277.37 L496.00,277.13 L496.35,276.85 L496.70,276.53 L497.05,276.17 L497.40,275.79 L497.75,275.39 L498.10,274.99 L498.45,274.59 L498.80,274.20 L499.15,273.83 L499.50,273.48 L499.85,273.16 L500.20,272.89 L500.55,272.67 L500.90,272.51 L501.25,272.42 L501.60,272.40 L501.95,272.43 L502.30,272.49 L502.65,272.58 L503.00,272.70 L503.35,272.82 L503.70,272.97 L504.05,273.11 L504.40,273.26 L504.75,273.40 L505.10,273.54 L505.45,273.69 L505.80,273.85 L506.15,274.04 L506.50,274.23 L506.85,274.44 L507.20,274.66 L507.55,274.89 L507.90,275.12 L508.25,275.36 L508.60,275.59 L508.95,275.83 L509.30,276.06 L509.65,276.28 L510.00,276.50 L510.35,276.70 L510.70,276.90 L511.05,277.07 L511.40,277.23 L511.75,277.37 L512.10,277.49 L512.45,277.59 L512.80,277.65 L513.15,277.69 L513.50,277.70 L513.85,277.63 L514.20,277.50 L514.55,277.30 L514.90,277.04 L515.25,276.73 L515.60,276.37 L515.95,275.98 L516.30,275.55 L516.65,275.10 L517.00,274.63 L517.35,274.16 L517.70,273.68 L518.05,273.20 L518.40,272.74 L518.75,272.29 L519.10,271.87 L519.45,271.48 L519.80,271.13 L520.15,270.82 L520.50,270.57 L520.85,270.38 L521.20,270.25 L521.55,270.20 L521.90,270.20 L522.25,270.20 L522.60,270.20 L522.95,270.20 L523.30,270.20 L523.65,270.20 L524.00,270.20 L524.35,270.20 L524.70,270.20 L525.05,270.20 L525.40,270.20 L525.75,270.20 L526.10,270.20 L526.45,270.20 L526.80,270.20 L527.15,270.20 L527.20,270.20" stroke="#f21212" stroke-width="1.10"/>
<path d="M314.70,232.40 L315.05,232.44 L315.40,232.48 L315.75,232.52 L316.10,232.56 L316.45,232.59 L316.80,232.63 L317.15,232.66 L317.50,232.69 L317.85,232.72 L318.20,232.74 L318.55,232.77 L318.90,232.79 L319.25,232.81 L319.60,232.84 L319.95,232.86 L320.30,232.88 L320.65,232.89 L321.00,232.91 L321.35,232.93 L321.70,232.94 L322.05,232.96 L322.40,232.97 L322.75,232.99 L323.10,233.00 L323.45,233.01 L323.80,233.02 L324.15,233.03 L324.50,233.04 L324.85,233.05 L325.20,233.06 L325.55,233.07 L325.90,233.08 L326.25,233.09 L326.60,233.10 L326.95,232.24 L327.30,230.96 L327.65,229.40 L328.00,227.70 L328.35,226.00 L328.70,224.44 L329.05,223.16 L329.40,222.30 L329.75,226.75 L330.10,233.00 L330.45,240.67 L330.80,249.39 L331.15,258.76 L331.50,268.41 L331.85,277.95 L332.20,287.00 L332.55,295.16 L332.90,302.07 L333.25,307.34 L333.60,305.99 L333.95,298.64 L334.30,289.13 L334.65,278.04 L335.00,265.97 L335.35,253.47 L335.70,241.14 L336.05,229.56 L336.40,219.31 L336.75,210.96 L337.10,205.10 L337.45,210.93 L337.80,219.24 L338.15,229.44 L338.50,240.97 L338.85,253.24 L339.20,265.67 L339.55,277.69 L339.90,288.72 L340.25,298.19 L340.60,305.50 L340.95,306.63 L341.30,300.61 L341.65,292.69 L342.00,283.34 L342.35,273.03 L342.70,262.25 L343.05,251.47 L343.40,241.16 L343.75,231.81 L344.10,223.89 L344.45,217.87 L344.80,217.67 L345.15,221.54 L345.50,226.46 L345.85,232.23 L346.20,238.65 L346.55,245.52 L346.90,252.64 L347.25,259.83 L347.60,266.87 L347.95,273.57 L348.30,279.74 L348.65,285.16 L349.00,289.66 L349.35,293.02 L349.70,292.28 L350.05,290.58 L350.40,288.49 L350.75,286.07 L351.10,283.40 L351.45,280.53 L351.80,277.52 L352.15,274.44 L352.50,271.33 L352.85,268.27 L353.20,265.32 L353.55,262.52 L353.90,259.96 L354.25,257.68 L354.60,255.74 L354.95,254.21 L355.30,254.62 L355.65,256.78 L356.00,259.53 L356.35,262.76 L356.70,266.34 L357.05,270.16 L357.40,274.10 L357.75,278.04 L358.10,281.86 L358.45,285.44 L358.80,288.67 L359.15,291.42 L359.50,293.58 L359.85,293.73 L360.20,291.52 L360.55,288.78 L360.90,285.57 L361.25,281.95 L361.60,278.00 L361.95,273.76 L362.30,269.32 L362.65,264.71 L363.00,260.02 L363.35,255.30 L363.70,250.62 L364.05,246.04 L364.40,241.62 L364.75,237.42 L365.10,233.51 L365.45,229.95 L365.80,226.80 L366.15,224.13 L366.50,222.00 L366.85,223.11 L367.20,226.02 L367.55,229.61 L367.90,233.78 L368.25,238.42 L368.60,243.44 L368.95,248.73 L369.30,254.20 L369.65,259.73 L370.00,265.24 L370.35,270.62 L370.70,275.77 L371.05,280.59 L371.40,284.97 L371.75,288.82 L372.10,292.03 L372.45,294.51 L372.80,293.41 L373.15,291.27 L373.50,288.66 L373.85,285.65 L374.20,282.31 L374.55,278.72 L374.90,274.97 L375.25,271.11 L375.60,267.23 L375.95,263.41 L376.30,259.71 L376.65,256.22 L377.00,253.02 L377.35,250.17 L377.70,247.75 L378.05,245.84 L378.40,245.81 L378.75,247.12 L379.10,248.73 L379.45,250.60 L379.80,252.69 L380.15,254.97 L380.50,257.41 L380.85,259.98 L381.20,262.63 L381.55,265.35 L381.90,268.08 L382.25,270.81 L382.60,273.49 L382.95,276.10 L383.30,278.60 L383.65,280.96 L384.00,283.13 L384.35,285.10 L384.70,286.82 L385.05,288.27 L385.40,289.40 L385.75,288.66 L386.10,287.69 L386.45,286.53 L386.80,285.20 L387.15,283.73 L387.50,282.15 L387.85,280.49 L388.20,278.76 L388.55,277.00 L388.90,275.24 L389.25,273.50 L389.60,271.82 L389.95,270.21 L390.30,268.70 L390.65,267.33 L391.00,266.12 L391.35,265.10 L391.70,264.29 L392.05,264.33 L392.40,264.78 L392.75,265.36 L393.10,266.02 L393.45,266.74 L393.80,267.47 L394.15,268.18 L394.50,268.83 L394.85,269.39 L395.20,269.82 L395.55,269.66 L395.90,268.56 L396.25,267.10 L396.60,265.38 L396.95,263.49 L397.30,261.54 L397.65,259.62 L398.00,257.81 L398.35,256.23 L398.70,254.96 L399.05,254.35 L399.40,255.59 L399.75,257.18 L400.10,259.08 L400.45,261.25 L400.80,263.63 L401.15,266.19 L401.50,268.88 L401.85,271.64 L402.20,274.45 L402.55,277.25 L402.90,280.00 L403.25,282.66 L403.60,285.17 L403.95,287.49 L404.30,289.59 L404.65,291.41 L405.00,292.91 L405.35,293.70 L405.70,292.04 L406.05,289.97 L406.40,287.55 L406.75,284.80 L407.10,281.77 L407.45,278.50 L407.80,275.02 L408.15,271.37 L408.50,267.60 L408.85,263.74 L409.20,259.82 L409.55,255.90 L409.90,252.00 L410.25,248.17 L410.60,244.45 L410.95,240.87 L411.30,237.47 L411.65,234.30 L412.00,231.38 L412.35,228.77 L412.70,226.50 L413.05,224.60 L413.40,223.82 L413.75,225.10 L414.10,226.62 L414.45,228.37 L414.80,230.34 L415.15,232.49 L415.50,234.81 L415.85,237.29 L416.20,239.90 L416.55,242.63 L416.90,245.46 L417.25,248.37 L417.60,251.34 L417.95,254.35 L418.30,257.38 L418.65,260.42 L419.00,263.45 L419.35,266.44 L419.70,269.39 L420.05,272.26 L420.40,275.05 L420.75,277.73 L421.10,280.29 L421.45,282.70 L421.80,284.96 L422.15,287.03 L422.50,288.90 L422.85,290.56 L423.20,291.98 L423.55,292.90 L423.90,292.06 L424.25,291.04 L424.60,289.85 L424.95,288.50 L425.30,287.02 L425.65,285.42 L426.00,283.71 L426.35,281.92 L426.70,280.04 L427.05,278.11 L427.40,276.14 L427.75,274.14 L428.10,272.12 L428.45,270.12 L428.80,268.13 L429.15,266.18 L429.50,264.28 L429.85,262.45 L430.20,260.70 L430.55,259.05 L430.90,257.51 L431.25,256.11 L431.60,254.85 L431.95,253.76 L432.30,252.84 L432.65,252.81 L433.00,253.99 L433.35,255.43 L433.70,257.12 L434.05,259.02 L434.40,261.09 L434.75,263.32 L435.10,265.68 L435.45,268.12 L435.80,270.62 L436.15,273.15 L436.50,275.68 L436.85,278.18 L437.20,280.62 L437.55,282.98 L437.90,285.21 L438.25,287.28 L438.60,289.18 L438.95,290.87 L439.30,292.31 L439.65,293.49 L440.00,293.26 L440.35,291.86 L440.70,290.15 L441.05,288.17 L441.40,285.95 L441.75,283.53 L442.10,280.94 L442.45,278.22 L442.80,275.40 L443.15,272.52 L443.50,269.62 L443.85,266.73 L444.20,263.88 L444.55,261.11 L444.90,258.46 L445.25,255.96 L445.60,253.65 L445.95,251.56 L446.30,249.74 L446.65,248.20 L447.00,247.00 L447.35,248.18 L447.70,249.68 L448.05,251.48 L448.40,253.52 L448.75,255.79 L449.10,258.24 L449.45,260.84 L449.80,263.55 L450.15,266.35 L450.50,269.19 L450.85,272.03 L451.20,274.86 L451.55,277.62 L451.90,280.29 L452.25,282.83 L452.60,285.21 L452.95,287.38 L453.30,289.33 L453.65,291.00 L454.00,292.37 L454.35,292.72 L454.70,291.95 L455.05,291.02 L455.40,289.96 L455.75,288.76 L456.10,287.45 L456.45,286.04 L456.80,284.54 L457.15,282.97 L457.50,281.33 L457.85,279.65 L458.20,277.93 L458.55,276.20 L458.90,274.45 L459.25,272.71 L459.60,270.99 L459.95,269.30 L460.30,267.66 L460.65,266.08 L461.00,264.57 L461.35,263.14 L461.70,261.82 L462.05,260.61 L462.40,259.52 L462.75,258.57 L463.10,257.78 L463.45,257.68 L463.80,258.44 L464.15,259.35 L464.50,260.39 L464.85,261.57 L465.20,262.85 L465.55,264.24 L465.90,265.71 L466.25,267.25 L466.60,268.86 L466.95,270.51 L467.30,272.21 L467.65,273.92 L468.00,275.65 L468.35,277.37 L468.70,279.08 L469.05,280.76 L469.40,282.41 L469.75,284.00 L470.10,285.52 L470.45,286.97 L470.80,288.33 L471.15,289.58 L471.50,290.72 L471.85,291.73 L472.20,292.60 L472.55,293.31 L472.90,292.62 L473.25,291.49 L473.60,290.13 L473.95,288.57 L474.30,286.84 L474.65,284.96 L475.00,282.96 L475.35,280.86 L475.70,278.69 L476.05,276.47 L476.40,274.23 L476.75,271.99 L477.10,269.78 L477.45,267.63 L477.80,265.56 L478.15,263.59 L478.50,261.75 L478.85,260.06 L479.20,258.56 L479.55,257.26 L479.90,256.20 L480.25,255.97 L480.60,256.72 L480.95,257.61 L481.30,258.64 L481.65,259.79 L482.00,261.04 L482.35,262.40 L482.70,263.84 L483.05,265.36 L483.40,266.93 L483.75,268.56 L484.10,270.22 L484.45,271.90 L484.80,273.60 L485.15,275.30 L485.50,276.98 L485.85,278.64 L486.20,280.27 L486.55,281.84 L486.90,283.36 L487.25,284.80 L487.60,286.16 L487.95,287.41 L488.30,288.56 L488.65,289.59 L489.00,290.48 L489.35,291.23 L489.70,291.22 L490.05,290.65 L490.40,289.99 L490.75,289.23 L491.10,288.40 L491.45,287.48 L491.80,286.50 L492.15,285.46 L492.50,284.36 L492.85,283.21 L493.20,282.02 L493.55,280.80 L493.90,279.54 L494.25,278.27 L494.60,276.98 L494.95,275.69 L495.30,274.39 L495.65,273.10 L496.00,271.82 L496.35,270.56 L496.70,269.32 L497.05,268.12 L497.40,266.96 L497.75,265.85 L498.10,264.79 L498.45,263.79 L498.80,262.86 L499.15,262.00 L499.50,261.22 L499.85,260.53 L500.20,259.93 L500.55,259.57 L500.90,260.17 L501.25,260.90 L501.60,261.73 L501.95,262.67 L502.30,263.71 L502.65,264.83 L503.00,266.03 L503.35,267.29 L503.70,268.61 L504.05,269.97 L504.40,271.37 L504.75,272.80 L505.10,274.25 L505.45,275.71 L505.80,277.16 L506.15,278.61 L506.50,280.03 L506.85,281.42 L507.20,282.78 L507.55,284.08 L507.90,285.32 L508.25,286.50 L508.60,287.60 L508.95,288.61 L509.30,289.52 L509.65,290.32 L510.00,291.01 L510.35,291.46 L510.70,291.12 L511.05,290.68 L511.40,290.15 L511.75,289.55 L512.10,288.90 L512.45,288.22 L512.80,287.51 L513.15,286.80 L513.50,286.10 L513.85,285.42 L514.20,284.79 L514.55,284.22 L514.90,283.79 L515.25,283.43 L515.60,283.10 L515.95,282.78 L516.30,282.47 L516.65,282.18 L517.00,281.90 L517.35,281.62 L517.70,281.34 L518.05,281.07 L518.40,280.79 L518.75,280.51 L519.10,280.22 L519.45,279.92 L519.80,279.61 L520.15,279.28 L520.50,278.93 L520.85,278.57 L521.20,278.18 L521.55,277.76 L521.90,276.92 L522.25,275.85 L522.60,274.64 L522.95,273.33 L523.30,271.95 L523.65,270.54 L524.00,269.12 L524.35,267.73 L524.70,266.40 L525.05,265.17 L525.40,264.08 L525.75,263.15 L526.10,262.54 L526.45,262.32 L526.80,262.14 L527.15,262.01 L527.20,262.00" stroke="#10f0f0" stroke-width="1.25"/>
</g>
<line x1="367.53" y1="191.60" x2="367.53" y2="319.70" stroke="#222" stroke-width="0.8" stroke-dasharray="2.7,1.3"/>
<path d="M314.70,319.70v-2.20M314.70,191.60v2.20M357.20,319.70v-2.20M357.20,191.60v2.20M399.70,319.70v-2.20M399.70,191.60v2.20M442.20,319.70v-2.20M442.20,191.60v2.20M484.70,319.70v-2.20M484.70,191.60v2.20M527.20,319.70v-2.20M527.20,191.60v2.20M314.70,319.70h2.20M527.20,319.70h-2.20M314.70,306.89h2.20M527.20,306.89h-2.20M314.70,294.08h2.20M527.20,294.08h-2.20M314.70,281.27h2.20M527.20,281.27h-2.20M314.70,268.46h2.20M527.20,268.46h-2.20M314.70,255.65h2.20M527.20,255.65h-2.20M314.70,242.84h2.20M527.20,242.84h-2.20M314.70,230.03h2.20M527.20,230.03h-2.20M314.70,217.22h2.20M527.20,217.22h-2.20M314.70,204.41h2.20M527.20,204.41h-2.20M314.70,191.60h2.20M527.20,191.60h-2.20" stroke="#777" stroke-width="0.8" fill="none"/>
<rect x="314.70" y="191.60" width="212.50" height="128.10" fill="none" stroke="#707070" stroke-width="1.1"/>
<text x="314.70" y="331.60" text-anchor="middle" class="t">0</text>
<text x="357.20" y="331.60" text-anchor="middle" class="t">0.5</text>
<text x="399.70" y="331.60" text-anchor="middle" class="t">1</text>
<text x="442.20" y="331.60" text-anchor="middle" class="t">1.5</text>
<text x="484.70" y="331.60" text-anchor="middle" class="t">2</text>
<text x="527.20" y="331.60" text-anchor="middle" class="t">2.5</text>
<text x="311.50" y="322.90" text-anchor="end" class="t">-8</text>
<text x="311.50" y="310.09" text-anchor="end" class="t">-6</text>
<text x="311.50" y="297.28" text-anchor="end" class="t">-4</text>
<text x="311.50" y="284.47" text-anchor="end" class="t">-2</text>
<text x="311.50" y="271.66" text-anchor="end" class="t">0</text>
<text x="311.50" y="258.85" text-anchor="end" class="t">2</text>
<text x="311.50" y="246.04" text-anchor="end" class="t">4</text>
<text x="311.50" y="233.23" text-anchor="end" class="t">6</text>
<text x="311.50" y="220.42" text-anchor="end" class="t">8</text>
<text x="311.50" y="207.61" text-anchor="end" class="t">10</text>
<text x="311.50" y="194.80" text-anchor="end" class="t">12</text>
<text x="420.95" y="344.30" text-anchor="middle" class="t">Time (s)</text>
<text transform="translate(297.00,255.65) rotate(-90)" text-anchor="middle" class="t">Strain</text>
<text x="315.60" y="189.60" class="t"><tspan font-size="11.5" dy="1.5" style="stroke-width:0.1px">&#215;</tspan><tspan dy="-1.5">10</tspan><tspan dy="-4.6" font-size="7.2">-4</tspan></text>
<text x="281.60" y="192.80" class="lab">(d)</text>
<text x="316.70" y="201.80" class="v"><tspan font-style="italic">v</tspan>=2.10 m/s</text>
<text x="365.70" y="314.10" text-anchor="end" class="t ob">On bridge</text>
<text x="370.70" y="314.10" class="t ob">Leaving bridge</text>
<line x1="476.30" y1="202.90" x2="495.80" y2="202.90" stroke="#22ea22" stroke-width="1.25"/>
<text x="497.70" y="206.00" class="lg">LPEH</text>
<line x1="476.30" y1="213.40" x2="495.80" y2="213.40" stroke="#f21212" stroke-width="1.10"/>
<text x="497.70" y="216.50" class="lg">BPEH</text>
<line x1="476.30" y1="223.90" x2="495.80" y2="223.90" stroke="#10f0f0" stroke-width="1.25"/>
<text x="497.70" y="227.00" class="lg">TPEH</text>
<clipPath id="cpe"><rect x="40.50" y="371.60" width="212.40" height="128.10"/></clipPath>
<g clip-path="url(#cpe)" fill="none" stroke-linejoin="round" stroke-linecap="round">
<path d="M40.50,448.30 L40.85,448.30 L41.20,448.30 L41.55,448.30 L41.90,448.30 L42.25,448.30 L42.60,448.30 L42.95,448.30 L43.30,448.30 L43.65,448.30 L44.00,448.30 L44.35,448.30 L44.70,448.30 L45.05,448.30 L45.40,448.30 L45.75,448.30 L46.10,448.30 L46.45,448.30 L46.80,448.30 L47.15,448.30 L47.50,448.30 L47.85,448.30 L48.20,448.30 L48.55,448.30 L48.90,448.30 L49.25,448.30 L49.60,448.30 L49.95,448.30 L50.30,448.87 L50.65,450.68 L51.00,453.27 L51.35,456.13 L51.70,458.79 L52.05,460.74 L52.40,461.50 L52.75,460.32 L53.10,457.17 L53.45,452.63 L53.80,447.26 L54.15,441.65 L54.50,436.36 L54.85,431.98 L55.20,429.08 L55.55,428.23 L55.90,429.90 L56.25,433.68 L56.60,438.89 L56.95,444.86 L57.30,450.92 L57.65,456.42 L58.00,460.67 L58.35,463.01 L58.70,462.88 L59.05,460.59 L59.40,456.75 L59.75,451.93 L60.10,446.71 L60.45,441.68 L60.80,437.42 L61.15,434.50 L61.50,433.52 L61.85,434.80 L62.20,437.90 L62.55,442.25 L62.90,447.28 L63.25,452.41 L63.60,457.07 L63.95,460.69 L64.30,462.68 L64.65,462.52 L65.00,460.29 L65.35,456.54 L65.70,451.84 L66.05,446.75 L66.40,441.85 L66.75,437.69 L67.10,434.85 L67.45,433.90 L67.80,435.14 L68.15,438.16 L68.50,442.40 L68.85,447.31 L69.20,452.31 L69.55,456.85 L69.90,460.37 L70.25,462.31 L70.60,462.16 L70.95,459.98 L71.30,456.33 L71.65,451.75 L72.00,446.79 L72.35,442.01 L72.70,437.97 L73.05,435.20 L73.40,434.27 L73.75,435.48 L74.10,438.42 L74.45,442.55 L74.80,447.33 L75.15,452.20 L75.50,456.62 L75.85,460.05 L76.20,461.95 L76.55,461.80 L76.90,459.68 L77.25,456.12 L77.60,451.66 L77.95,446.83 L78.30,442.18 L78.65,438.24 L79.00,435.55 L79.35,434.64 L79.70,435.82 L80.05,438.68 L80.40,442.71 L80.75,447.35 L81.10,452.09 L81.45,456.40 L81.80,459.74 L82.15,461.58 L82.50,461.43 L82.85,459.37 L83.20,455.91 L83.55,451.57 L83.90,446.88 L84.25,442.35 L84.60,438.51 L84.95,435.89 L85.30,435.01 L85.65,436.16 L86.00,438.94 L86.35,442.86 L86.70,447.38 L87.05,451.99 L87.40,456.17 L87.75,459.42 L88.10,461.21 L88.45,461.07 L88.80,459.07 L89.15,455.70 L89.50,451.48 L89.85,446.91 L90.20,442.51 L90.55,438.78 L90.90,436.23 L91.25,435.37 L91.60,436.48 L91.95,439.20 L92.30,443.01 L92.65,447.42 L93.00,451.91 L93.35,455.99 L93.70,459.15 L94.05,460.90 L94.40,460.76 L94.75,458.80 L95.10,455.52 L95.45,451.39 L95.80,446.93 L96.15,442.64 L96.50,438.99 L96.85,436.50 L97.20,435.66 L97.55,436.76 L97.90,439.41 L98.25,443.13 L98.60,447.43 L98.95,451.82 L99.30,455.81 L99.65,458.90 L100.00,460.61 L100.35,460.47 L100.70,458.56 L101.05,455.35 L101.40,451.32 L101.75,446.97 L102.10,442.77 L102.45,439.21 L102.80,436.78 L103.15,435.96 L103.50,437.03 L103.85,439.62 L104.20,443.25 L104.55,447.45 L104.90,451.74 L105.25,455.63 L105.60,458.65 L105.95,460.31 L106.30,460.18 L106.65,458.32 L107.00,455.18 L107.35,451.25 L107.70,447.00 L108.05,442.90 L108.40,439.43 L108.75,437.06 L109.10,436.26 L109.45,437.30 L109.80,439.83 L110.15,443.37 L110.50,447.47 L110.85,451.65 L111.20,455.45 L111.55,458.40 L111.90,460.02 L112.25,459.89 L112.60,458.07 L112.95,455.01 L113.30,451.18 L113.65,447.04 L114.00,443.04 L114.35,439.65 L114.70,437.34 L115.05,436.56 L115.40,437.57 L115.75,440.04 L116.10,443.49 L116.45,447.49 L116.80,451.57 L117.15,455.27 L117.50,458.14 L117.85,459.73 L118.20,459.60 L118.55,457.83 L118.90,454.85 L119.25,451.11 L119.60,447.07 L119.95,443.17 L120.30,439.87 L120.65,437.61 L121.00,436.85 L121.35,437.84 L121.70,440.24 L122.05,443.61 L122.40,447.51 L122.75,451.48 L123.10,455.09 L123.45,457.89 L123.80,459.43 L124.15,459.31 L124.50,457.58 L124.85,454.68 L125.20,451.04 L125.55,447.10 L125.90,443.31 L126.25,440.09 L126.60,437.89 L126.95,437.15 L127.30,438.11 L127.65,440.45 L128.00,443.74 L128.35,447.53 L128.70,451.40 L129.05,454.91 L129.40,457.64 L129.75,459.14 L130.10,459.02 L130.45,457.33 L130.80,454.49 L131.15,450.93 L131.50,447.08 L131.85,443.36 L132.20,440.22 L132.55,438.07 L132.90,437.34 L133.25,438.29 L133.60,440.60 L133.95,443.85 L134.30,447.59 L134.65,451.42 L135.00,454.89 L135.35,457.58 L135.70,459.07 L136.05,458.94 L136.40,457.27 L136.75,454.45 L137.10,450.91 L137.45,447.08 L137.80,443.40 L138.15,440.27 L138.50,438.13 L138.85,437.41 L139.20,438.36 L139.55,440.65 L139.90,443.88 L140.25,447.60 L140.60,451.39 L140.95,454.84 L141.30,457.52 L141.65,458.99 L142.00,458.87 L142.35,457.20 L142.70,454.40 L143.05,450.89 L143.40,447.09 L143.75,443.43 L144.10,440.32 L144.45,438.20 L144.80,437.49 L145.15,438.43 L145.50,440.71 L145.85,443.91 L146.20,447.60 L146.55,451.37 L146.90,454.80 L147.25,457.45 L147.60,458.92 L147.95,458.80 L148.30,457.14 L148.65,454.36 L149.00,450.87 L149.35,447.10 L149.70,443.46 L150.05,440.38 L150.40,438.27 L150.75,437.56 L151.10,438.50 L151.45,440.76 L151.80,443.94 L152.15,447.61 L152.50,451.35 L152.85,454.75 L153.20,457.39 L153.55,458.85 L153.90,458.73 L154.25,457.08 L154.60,454.32 L154.95,450.86 L155.30,447.11 L155.65,443.50 L156.00,440.43 L156.35,438.34 L156.70,437.64 L157.05,438.56 L157.40,440.81 L157.75,443.97 L158.10,447.61 L158.45,451.33 L158.80,454.71 L159.15,457.33 L159.50,458.77 L159.85,458.65 L160.20,457.02 L160.55,454.28 L160.90,450.84 L161.25,447.12 L161.60,443.53 L161.95,440.49 L162.30,438.41 L162.65,437.71 L163.00,438.63 L163.35,440.86 L163.70,444.00 L164.05,447.62 L164.40,451.31 L164.75,454.66 L165.10,457.26 L165.45,458.70 L165.80,458.58 L166.15,456.96 L166.50,454.24 L166.85,450.82 L167.20,447.13 L167.55,443.56 L167.90,440.54 L168.25,438.48 L168.60,437.79 L168.95,438.70 L169.30,440.90 L169.65,444.00 L170.00,447.58 L170.35,451.23 L170.70,454.55 L171.05,457.12 L171.40,458.54 L171.75,458.43 L172.10,456.85 L172.45,454.18 L172.80,450.84 L173.15,447.23 L173.50,443.75 L173.85,440.80 L174.20,438.79 L174.55,438.11 L174.90,438.98 L175.25,441.12 L175.60,444.11 L175.95,447.56 L176.30,451.09 L176.65,454.30 L177.00,456.78 L177.35,458.15 L177.70,458.04 L178.05,456.52 L178.40,453.96 L178.75,450.75 L179.10,447.28 L179.45,443.93 L179.80,441.09 L180.15,439.16 L180.50,438.50 L180.85,439.35 L181.20,441.39 L181.55,444.27 L181.90,447.59 L182.25,450.98 L182.60,454.06 L182.95,456.44 L183.30,457.76 L183.65,457.66 L184.00,456.19 L184.35,453.74 L184.70,450.66 L185.05,447.32 L185.40,444.11 L185.75,441.39 L186.10,439.53 L186.45,438.90 L186.80,439.71 L187.15,441.67 L187.50,444.43 L187.85,447.61 L188.20,450.87 L188.55,453.82 L188.90,456.11 L189.25,457.37 L189.60,457.27 L189.95,455.87 L190.30,453.51 L190.65,450.56 L191.00,447.37 L191.35,444.29 L191.70,441.68 L192.05,439.90 L192.40,439.30 L192.75,440.07 L193.10,441.95 L193.45,444.59 L193.80,447.64 L194.15,450.75 L194.50,453.58 L194.85,455.77 L195.20,456.98 L195.55,456.88 L195.90,455.54 L196.25,453.29 L196.60,450.47 L196.95,447.41 L197.30,444.47 L197.65,441.97 L198.00,440.27 L198.35,439.69 L198.70,440.44 L199.05,442.24 L199.40,444.77 L199.75,447.70 L200.10,450.69 L200.45,453.40 L200.80,455.51 L201.15,456.67 L201.50,456.58 L201.85,455.27 L202.20,453.07 L202.55,450.32 L202.90,447.34 L203.25,444.47 L203.60,442.04 L203.95,440.38 L204.30,439.82 L204.65,440.56 L205.00,442.35 L205.35,444.86 L205.70,447.76 L206.05,450.72 L206.40,453.41 L206.75,455.50 L207.10,456.65 L207.45,456.55 L207.80,455.25 L208.15,453.06 L208.50,450.32 L208.85,447.35 L209.20,444.48 L209.55,442.06 L209.90,440.40 L210.25,439.84 L210.60,440.58 L210.95,442.36 L211.30,444.87 L211.65,447.76 L212.00,450.72 L212.35,453.40 L212.70,455.48 L213.05,456.63 L213.40,456.53 L213.75,455.23 L214.10,453.05 L214.45,450.31 L214.80,447.35 L215.15,444.49 L215.50,442.07 L215.85,440.42 L216.20,439.86 L216.55,440.60 L216.90,442.38 L217.25,444.88 L217.60,447.76 L217.95,450.71 L218.30,453.38 L218.65,455.46 L219.00,456.60 L219.35,456.51 L219.70,455.21 L220.05,453.04 L220.40,450.31 L220.75,447.35 L221.10,444.50 L221.45,442.09 L221.80,440.44 L222.15,439.89 L222.50,440.62 L222.85,442.39 L223.20,444.89 L223.55,447.76 L223.90,450.70 L224.25,453.37 L224.60,455.44 L224.95,456.58 L225.30,456.49 L225.65,455.20 L226.00,453.02 L226.35,450.30 L226.70,447.35 L227.05,444.51 L227.40,442.11 L227.75,440.46 L228.10,439.91 L228.45,440.64 L228.80,442.41 L229.15,444.89 L229.50,447.77 L229.85,450.70 L230.20,453.36 L230.55,455.42 L230.90,456.56 L231.25,456.47 L231.60,455.18 L231.95,453.01 L232.30,450.29 L232.65,447.36 L233.00,444.52 L233.35,442.12 L233.70,440.48 L234.05,439.93 L234.40,440.66 L234.75,442.43 L235.10,444.90 L235.45,447.77 L235.80,450.69 L236.15,453.34 L236.50,455.40 L236.85,456.54 L237.20,456.44 L237.55,455.16 L237.90,453.00 L238.25,450.29 L238.60,447.36 L238.95,444.53 L239.30,442.14 L239.65,440.51 L240.00,439.95 L240.35,440.68 L240.70,442.44 L241.05,444.91 L241.40,447.77 L241.75,450.68 L242.10,453.33 L242.45,455.38 L242.80,456.51 L243.15,456.42 L243.50,455.14 L243.85,452.99 L244.20,450.28 L244.55,447.36 L244.90,444.54 L245.25,442.16 L245.60,440.53 L245.95,439.98 L246.30,440.70 L246.65,442.46 L247.00,444.92 L247.35,447.77 L247.70,450.68 L248.05,453.32 L248.40,455.36 L248.75,456.49 L249.10,456.54 L249.45,456.05 L249.80,455.10 L250.15,453.68 L250.50,451.81 L250.85,449.48 L251.20,446.68 L251.55,443.43 L251.87,440.00" stroke="#22ea22" stroke-width="1.25"/>
<path d="M40.50,441.10 L40.85,441.09 L41.20,441.08 L41.55,441.05 L41.90,441.02 L42.25,440.99 L42.60,440.95 L42.95,440.91 L43.30,440.86 L43.65,440.81 L44.00,440.76 L44.35,440.70 L44.70,440.65 L45.05,440.59 L45.40,440.51 L45.75,440.41 L46.10,440.29 L46.45,440.15 L46.80,440.01 L47.15,439.86 L47.50,439.72 L47.85,439.59 L48.20,439.48 L48.55,439.39 L48.90,439.33 L49.25,439.30 L49.60,439.31 L49.95,439.34 L50.30,439.40 L50.65,439.49 L51.00,439.59 L51.35,439.73 L51.70,439.89 L52.05,440.07 L52.40,440.28 L52.75,440.51 L53.10,440.77 L53.45,441.06 L53.80,441.37 L54.15,441.71 L54.50,442.07 L54.85,442.47 L55.20,443.87 L55.55,446.57 L55.90,450.22 L56.25,454.48 L56.60,458.99 L56.95,463.42 L57.30,467.41 L57.65,470.61 L58.00,472.68 L58.35,473.26 L58.70,470.97 L59.05,465.74 L59.40,458.39 L59.75,449.75 L60.10,440.64 L60.45,431.88 L60.80,424.30 L61.15,418.72 L61.50,415.96 L61.85,417.16 L62.20,422.99 L62.55,432.28 L62.90,443.74 L63.25,456.10 L63.60,468.10 L63.95,478.48 L64.30,485.94 L64.65,489.24 L65.00,487.32 L65.35,480.75 L65.70,470.82 L66.05,458.86 L66.40,446.14 L66.75,433.99 L67.10,423.70 L67.45,416.57 L67.80,413.90 L68.15,416.30 L68.50,422.74 L68.85,432.02 L69.20,442.98 L69.55,454.44 L69.90,465.24 L70.25,474.18 L70.60,480.11 L70.95,481.87 L71.30,480.31 L71.65,476.66 L72.00,471.38 L72.35,464.92 L72.70,457.75 L73.05,450.31 L73.40,443.07 L73.75,436.49 L74.10,431.01 L74.45,427.09 L74.80,425.20 L75.15,426.45 L75.50,432.17 L75.85,441.11 L76.20,451.85 L76.55,462.99 L76.90,473.12 L77.25,480.86 L77.60,484.78 L77.95,483.94 L78.30,479.34 L78.65,471.96 L79.00,462.72 L79.35,452.55 L79.70,442.38 L80.05,433.14 L80.40,425.76 L80.75,421.16 L81.10,420.20 L81.45,421.95 L81.80,425.61 L82.15,430.78 L82.50,437.08 L82.85,444.10 L83.20,451.46 L83.55,458.76 L83.90,465.61 L84.25,471.62 L84.60,476.41 L84.95,479.56 L85.30,480.70 L85.65,479.51 L86.00,476.22 L86.35,471.29 L86.70,465.15 L87.05,458.25 L87.40,451.03 L87.75,443.94 L88.10,437.42 L88.45,431.92 L88.80,427.87 L89.15,425.73 L89.50,425.87 L89.85,428.12 L90.20,432.06 L90.55,437.28 L90.90,443.38 L91.25,449.95 L91.60,456.57 L91.95,462.85 L92.30,468.36 L92.65,472.71 L93.00,475.49 L93.35,476.26 L93.70,473.95 L94.05,468.73 L94.40,461.48 L94.75,453.08 L95.10,444.44 L95.45,436.42 L95.80,429.93 L96.15,425.85 L96.50,425.00 L96.85,426.88 L97.20,430.74 L97.55,436.13 L97.90,442.59 L98.25,449.64 L98.60,456.83 L98.95,463.68 L99.30,469.74 L99.65,474.53 L100.00,477.60 L100.35,478.47 L100.70,476.94 L101.05,473.35 L101.40,468.16 L101.75,461.82 L102.10,454.77 L102.45,447.47 L102.80,440.36 L103.15,433.88 L103.50,428.50 L103.85,424.66 L104.20,422.80 L104.55,423.37 L104.90,426.32 L105.25,431.14 L105.60,437.31 L105.95,444.29 L106.30,451.57 L106.65,458.64 L107.00,464.95 L107.35,469.99 L107.70,473.24 L108.05,474.18 L108.40,473.10 L108.75,470.56 L109.10,466.84 L109.45,462.23 L109.80,457.00 L110.15,451.45 L110.50,445.86 L110.85,440.52 L111.20,435.70 L111.55,431.69 L111.90,428.79 L112.25,427.26 L112.60,427.35 L112.95,428.92 L113.30,431.68 L113.65,435.38 L114.00,439.75 L114.35,444.53 L114.70,449.47 L115.05,454.29 L115.40,458.73 L115.75,462.54 L116.10,465.45 L116.45,467.21 L116.80,467.54 L117.15,466.54 L117.50,464.45 L117.85,461.49 L118.20,457.87 L118.55,453.82 L118.90,449.55 L119.25,445.28 L119.60,441.23 L119.95,437.61 L120.30,434.65 L120.65,432.56 L121.00,431.56 L121.35,431.82 L121.70,433.22 L122.05,435.56 L122.40,438.63 L122.75,442.23 L123.10,446.15 L123.45,450.18 L123.80,454.13 L124.15,457.78 L124.50,460.94 L124.85,463.40 L125.20,464.95 L125.55,465.39 L125.90,464.97 L126.25,463.96 L126.60,462.45 L126.95,460.52 L127.30,458.27 L127.65,455.77 L128.00,453.13 L128.35,450.43 L128.70,447.75 L129.05,445.18 L129.40,442.81 L129.75,440.73 L130.10,439.03 L130.45,437.80 L130.80,437.11 L131.15,437.02 L131.50,437.24 L131.85,437.65 L132.20,438.23 L132.55,438.92 L132.90,439.69 L133.25,440.50 L133.60,441.31 L133.95,442.08 L134.30,442.77 L134.65,443.35 L135.00,443.76 L135.35,443.98 L135.70,443.96 L136.05,443.72 L136.40,443.29 L136.75,442.72 L137.10,442.06 L137.45,441.35 L137.80,440.64 L138.15,439.96 L138.50,439.36 L138.85,438.89 L139.20,438.59 L139.55,438.50 L139.90,438.62 L140.25,438.91 L140.60,439.37 L140.95,439.96 L141.30,440.68 L141.65,441.52 L142.00,442.44 L142.35,443.45 L142.70,444.53 L143.05,445.65 L143.40,446.81 L143.75,447.98 L144.10,449.16 L144.45,450.32 L144.80,451.46 L145.15,452.55 L145.50,453.57 L145.85,454.53 L146.20,455.39 L146.55,456.15 L146.90,456.78 L147.25,457.27 L147.60,457.61 L147.95,457.78 L148.30,457.77 L148.65,457.57 L149.00,457.24 L149.35,456.80 L149.70,456.30 L150.05,455.78 L150.40,455.27 L150.75,454.82 L151.10,454.47 L151.45,454.25 L151.80,454.21 L152.15,454.32 L152.50,454.56 L152.85,454.90 L153.20,455.32 L153.55,455.80 L153.90,456.30 L154.25,456.82 L154.60,457.31 L154.95,457.76 L155.30,458.15 L155.65,458.46 L156.00,458.65 L156.35,458.70 L156.70,458.58 L157.05,458.30 L157.40,457.86 L157.75,457.28 L158.10,456.58 L158.45,455.76 L158.80,454.85 L159.15,453.86 L159.50,452.80 L159.85,451.68 L160.20,450.53 L160.55,449.35 L160.90,448.16 L161.25,446.98 L161.60,445.81 L161.95,444.68 L162.30,443.59 L162.65,442.56 L163.00,441.62 L163.35,440.76 L163.70,440.00 L164.05,439.37 L164.40,438.87 L164.75,438.52 L165.10,438.33 L165.45,438.30 L165.80,438.34 L166.15,438.40 L166.50,438.50 L166.85,438.63 L167.20,438.78 L167.55,438.96 L167.90,439.17 L168.25,439.40 L168.60,439.65 L168.95,439.91 L169.30,440.20 L169.65,440.50 L170.00,440.81 L170.35,441.13 L170.70,441.46 L171.05,441.80 L171.40,442.15 L171.75,442.50 L172.10,442.85 L172.45,443.20 L172.80,443.55 L173.15,443.90 L173.50,444.24 L173.85,444.57 L174.20,444.89 L174.55,445.20 L174.90,445.50 L175.25,445.79 L175.60,446.05 L175.95,446.30 L176.30,446.53 L176.65,446.74 L177.00,446.92 L177.35,447.07 L177.70,447.20 L178.05,447.30 L178.40,447.36 L178.75,447.40 L179.10,447.38 L179.45,447.27 L179.80,447.06 L180.15,446.76 L180.50,446.39 L180.85,445.96 L181.20,445.47 L181.55,444.95 L181.90,444.39 L182.25,443.82 L182.60,443.23 L182.95,442.65 L183.30,442.09 L183.65,441.55 L184.00,441.04 L184.35,440.59 L184.70,440.19 L185.05,439.86 L185.40,439.61 L185.75,439.45 L186.10,439.40 L186.45,439.43 L186.80,439.51 L187.15,439.63 L187.50,439.79 L187.85,439.98 L188.20,440.20 L188.55,440.44 L188.90,440.69 L189.25,440.95 L189.60,441.21 L189.95,441.46 L190.30,441.70 L190.65,441.92 L191.00,442.11 L191.35,442.27 L191.70,442.39 L192.05,442.47 L192.40,442.50 L192.75,442.47 L193.10,442.40 L193.45,442.29 L193.80,442.16 L194.15,442.02 L194.50,441.88 L194.85,441.74 L195.20,441.63 L195.55,441.54 L195.90,441.50 L196.25,441.53 L196.60,441.65 L196.95,441.85 L197.30,442.11 L197.65,442.42 L198.00,442.75 L198.35,443.09 L198.70,443.43 L199.05,443.73 L199.40,443.98 L199.75,444.17 L200.10,444.28 L200.45,444.29 L200.80,444.17 L201.15,443.93 L201.50,443.61 L201.85,443.21 L202.20,442.74 L202.55,442.25 L202.90,441.72 L203.25,441.20 L203.60,440.69 L203.95,440.22 L204.30,439.80 L204.65,439.45 L205.00,439.19 L205.35,439.03 L205.70,439.00 L206.05,439.08 L206.40,439.26 L206.75,439.51 L207.10,439.83 L207.45,440.20 L207.80,440.62 L208.15,441.06 L208.50,441.52 L208.85,441.98 L209.20,442.43 L209.55,442.87 L209.90,443.26 L210.25,443.62 L210.60,443.91 L210.95,444.13 L211.30,444.26 L211.65,444.30 L212.00,444.24 L212.35,444.11 L212.70,443.91 L213.05,443.65 L213.40,443.35 L213.75,443.01 L214.10,442.64 L214.45,442.26 L214.80,441.88 L215.15,441.50 L215.50,441.14 L215.85,440.80 L216.20,440.51 L216.55,440.26 L216.90,440.07 L217.25,439.94 L217.60,439.90 L217.95,439.94 L218.30,440.04 L218.65,440.20 L219.00,440.40 L219.35,440.63 L219.70,440.88 L220.05,441.13 L220.40,441.37 L220.75,441.59 L221.10,441.77 L221.45,441.91 L221.80,441.99 L222.15,442.00 L222.50,441.96 L222.85,441.90 L223.20,441.81 L223.55,441.70 L223.90,441.59 L224.25,441.47 L224.60,441.35 L224.95,441.23 L225.30,441.14 L225.65,441.06 L226.00,441.01 L226.35,441.00 L226.70,441.04 L227.05,441.13 L227.40,441.26 L227.75,441.42 L228.10,441.62 L228.45,441.83 L228.80,442.05 L229.15,442.28 L229.50,442.50 L229.85,442.71 L230.20,442.90 L230.55,443.06 L230.90,443.19 L231.25,443.27 L231.60,443.30 L231.95,443.27 L232.30,443.17 L232.65,443.02 L233.00,442.83 L233.35,442.60 L233.70,442.34 L234.05,442.06 L234.40,441.77 L234.75,441.47 L235.10,441.18 L235.45,440.90 L235.80,440.63 L236.15,440.40 L236.50,440.20 L236.85,440.05 L237.20,439.94 L237.55,439.90 L237.90,439.93 L238.25,440.03 L238.60,440.19 L238.95,440.40 L239.30,440.65 L239.65,440.93 L240.00,441.23 L240.35,441.54 L240.70,441.84 L241.05,442.13 L241.40,442.40 L241.75,442.63 L242.10,442.81 L242.45,442.94 L242.80,443.00 L243.15,442.99 L243.50,442.92 L243.85,442.82 L244.20,442.67 L244.55,442.50 L244.90,442.30 L245.25,442.08 L245.60,441.85 L245.95,441.62 L246.30,441.38 L246.65,441.15 L247.00,440.94 L247.35,440.75 L247.70,440.58 L248.05,440.45 L248.40,440.35 L248.75,440.30 L249.10,440.30 L249.45,440.33 L249.80,440.38 L250.15,440.44 L250.50,440.54 L250.85,440.65 L251.20,440.78 L251.55,440.93 L251.90,441.10 L252.25,441.30 L252.60,441.51 L252.90,441.70" stroke="#f21212" stroke-width="1.10"/>
<path d="M40.50,411.50 L40.85,411.56 L41.20,411.62 L41.55,411.67 L41.90,411.72 L42.25,411.77 L42.60,411.81 L42.95,411.85 L43.30,411.89 L43.65,411.93 L44.00,411.96 L44.35,411.99 L44.70,412.02 L45.05,412.05 L45.40,412.08 L45.75,412.10 L46.10,412.12 L46.45,412.14 L46.80,412.16 L47.15,412.18 L47.50,412.20 L47.85,412.21 L48.20,412.23 L48.55,412.24 L48.90,412.26 L49.25,412.27 L49.60,412.28 L49.95,412.30 L50.30,412.27 L50.65,412.22 L51.00,412.17 L51.35,412.10 L51.70,412.03 L52.05,411.95 L52.40,411.86 L52.75,411.77 L53.10,411.66 L53.45,411.55 L53.80,410.88 L54.15,409.39 L54.50,407.48 L54.85,405.31 L55.20,403.03 L55.55,400.77 L55.90,398.70 L56.25,396.94 L56.60,395.66 L56.95,398.86 L57.30,405.68 L57.65,414.34 L58.00,424.33 L58.35,435.12 L58.70,446.20 L59.05,457.07 L59.40,467.20 L59.75,476.08 L60.10,483.19 L60.45,486.74 L60.80,479.33 L61.15,468.94 L61.50,456.40 L61.85,442.54 L62.20,428.20 L62.55,414.22 L62.90,401.44 L63.25,390.69 L63.60,382.81 L63.95,385.14 L64.30,392.99 L64.65,402.97 L65.00,414.43 L65.35,426.73 L65.70,439.20 L66.05,451.22 L66.40,462.12 L66.75,471.27 L67.10,478.01 L67.45,477.40 L67.80,473.69 L68.15,469.07 L68.50,463.70 L68.85,457.74 L69.20,451.35 L69.55,444.69 L69.90,437.91 L70.25,431.18 L70.60,424.65 L70.95,418.49 L71.30,412.85 L71.65,407.89 L72.00,403.77 L72.35,400.65 L72.70,401.00 L73.05,402.15 L73.40,403.58 L73.75,405.22 L74.10,406.98 L74.45,408.77 L74.80,410.52 L75.15,412.14 L75.50,413.54 L75.85,414.64 L76.20,414.91 L76.55,413.51 L76.90,411.61 L77.25,409.35 L77.60,406.85 L77.95,404.26 L78.30,401.70 L78.65,399.32 L79.00,397.25 L79.35,395.62 L79.70,395.73 L80.05,400.05 L80.40,405.79 L80.75,412.66 L81.10,420.37 L81.45,428.62 L81.80,437.12 L82.15,445.58 L82.50,453.70 L82.85,461.20 L83.20,467.77 L83.55,473.14 L83.90,477.00 L84.25,474.07 L84.60,470.19 L84.95,465.49 L85.30,460.10 L85.65,454.17 L86.00,447.81 L86.35,441.17 L86.70,434.38 L87.05,427.56 L87.40,420.86 L87.75,414.41 L88.10,408.34 L88.45,402.79 L88.80,397.88 L89.15,393.75 L89.50,390.53 L89.85,391.94 L90.20,395.90 L90.55,400.81 L90.90,406.53 L91.25,412.88 L91.60,419.70 L91.95,426.82 L92.30,434.09 L92.65,441.33 L93.00,448.39 L93.35,455.09 L93.70,461.27 L94.05,466.78 L94.40,471.44 L94.75,475.09 L95.10,475.42 L95.45,473.56 L95.80,471.34 L96.15,468.78 L96.50,465.92 L96.85,462.80 L97.20,459.44 L97.55,455.89 L97.90,452.17 L98.25,448.32 L98.60,444.37 L98.95,440.36 L99.30,436.32 L99.65,432.29 L100.00,428.29 L100.35,424.37 L100.70,420.56 L101.05,416.88 L101.40,413.38 L101.75,410.09 L102.10,407.03 L102.45,404.26 L102.80,401.79 L103.15,399.67 L103.50,397.92 L103.85,398.87 L104.20,401.25 L104.55,404.15 L104.90,407.49 L105.25,411.22 L105.60,415.27 L105.95,419.60 L106.30,424.13 L106.65,428.82 L107.00,433.60 L107.35,438.41 L107.70,443.20 L108.05,447.90 L108.40,452.47 L108.75,456.82 L109.10,460.92 L109.45,464.70 L109.80,468.10 L110.15,471.06 L110.50,473.53 L110.85,474.88 L111.20,472.14 L111.55,468.59 L111.90,464.34 L112.25,459.49 L112.60,454.17 L112.95,448.48 L113.30,442.54 L113.65,436.45 L114.00,430.33 L114.35,424.29 L114.70,418.44 L115.05,412.90 L115.40,407.77 L115.75,403.16 L116.10,399.20 L116.45,395.98 L116.80,394.85 L117.15,397.69 L117.50,401.32 L117.85,405.62 L118.20,410.49 L118.55,415.82 L118.90,421.51 L119.25,427.44 L119.60,433.51 L119.95,439.61 L120.30,445.63 L120.65,451.47 L121.00,457.01 L121.35,462.16 L121.70,466.80 L122.05,470.82 L122.40,474.13 L122.75,476.00 L123.10,473.44 L123.45,470.14 L123.80,466.19 L124.15,461.69 L124.50,456.74 L124.85,451.45 L125.20,445.90 L125.55,440.19 L125.90,434.43 L126.25,428.71 L126.60,423.13 L126.95,417.80 L127.30,412.79 L127.65,408.23 L128.00,404.19 L128.35,400.79 L128.70,398.12 L129.05,398.75 L129.40,400.92 L129.75,403.53 L130.10,406.53 L130.45,409.88 L130.80,413.52 L131.15,417.42 L131.50,421.53 L131.85,425.78 L132.20,430.15 L132.55,434.58 L132.90,439.02 L133.25,443.43 L133.60,447.76 L133.95,451.95 L134.30,455.98 L134.65,459.77 L135.00,463.30 L135.35,466.50 L135.70,469.34 L136.05,471.77 L136.40,473.73 L136.75,473.45 L137.10,472.23 L137.45,470.82 L137.80,469.22 L138.15,467.46 L138.50,465.55 L138.85,463.49 L139.20,461.31 L139.55,459.01 L139.90,456.61 L140.25,454.13 L140.60,451.56 L140.95,448.94 L141.30,446.26 L141.65,443.54 L142.00,440.81 L142.35,438.06 L142.70,435.31 L143.05,432.58 L143.40,429.87 L143.75,427.21 L144.10,424.60 L144.45,422.05 L144.80,419.59 L145.15,417.22 L145.50,414.95 L145.85,412.81 L146.20,410.79 L146.55,408.92 L146.90,407.20 L147.25,405.66 L147.60,404.30 L147.95,403.14 L148.30,403.13 L148.65,404.03 L149.00,405.10 L149.35,406.33 L149.70,407.69 L150.05,409.18 L150.40,410.76 L150.75,412.43 L151.10,414.17 L151.45,415.97 L151.80,417.79 L152.15,419.64 L152.50,421.49 L152.85,423.31 L153.20,425.11 L153.55,426.86 L153.90,428.90 L154.25,431.14 L154.60,433.51 L154.95,436.00 L155.30,438.57 L155.65,441.20 L156.00,443.87 L156.35,446.55 L156.70,449.21 L157.05,451.84 L157.40,454.40 L157.75,456.87 L158.10,459.23 L158.45,461.45 L158.80,463.51 L159.15,465.37 L159.50,467.03 L159.85,468.45 L160.20,469.60 L160.55,468.83 L160.90,467.87 L161.25,466.74 L161.60,465.47 L161.95,464.05 L162.30,462.52 L162.65,460.89 L163.00,459.16 L163.35,457.37 L163.70,455.52 L164.05,453.63 L164.40,451.72 L164.75,449.80 L165.10,447.90 L165.45,446.01 L165.80,444.17 L166.15,442.39 L166.50,440.68 L166.85,439.05 L167.20,437.54 L167.55,436.14 L167.90,434.89 L168.25,433.78 L168.60,432.85 L168.95,432.31 L169.30,433.24 L169.65,434.38 L170.00,435.72 L170.35,437.25 L170.70,438.93 L171.05,440.74 L171.40,442.67 L171.75,444.69 L172.10,446.79 L172.45,448.94 L172.80,451.11 L173.15,453.30 L173.50,455.47 L173.85,457.61 L174.20,459.70 L174.55,461.71 L174.90,463.63 L175.25,465.42 L175.60,467.08 L175.95,468.58 L176.30,469.90 L176.65,471.01 L177.00,471.90 L177.35,470.68 L177.70,469.10 L178.05,467.19 L178.40,465.02 L178.75,462.61 L179.10,460.01 L179.45,457.28 L179.80,454.45 L180.15,451.56 L180.50,448.67 L180.85,445.82 L181.20,443.06 L181.55,440.42 L181.90,437.95 L182.25,435.70 L182.60,433.72 L182.95,432.04 L183.30,430.71 L183.65,431.03 L184.00,432.12 L184.35,433.42 L184.70,434.92 L185.05,436.58 L185.40,438.40 L185.75,440.35 L186.10,442.40 L186.45,444.53 L186.80,446.73 L187.15,448.97 L187.50,451.22 L187.85,453.48 L188.20,455.70 L188.55,457.89 L188.90,460.00 L189.25,462.02 L189.60,463.93 L189.95,465.71 L190.30,467.33 L190.65,468.77 L191.00,470.01 L191.35,471.04 L191.70,471.05 L192.05,470.33 L192.40,469.47 L192.75,468.49 L193.10,467.40 L193.45,466.20 L193.80,464.92 L194.15,463.56 L194.50,462.12 L194.85,460.64 L195.20,459.10 L195.55,457.54 L195.90,455.95 L196.25,454.35 L196.60,452.75 L196.95,451.16 L197.30,449.60 L197.65,448.06 L198.00,446.58 L198.35,445.14 L198.70,443.78 L199.05,442.50 L199.40,441.30 L199.75,440.21 L200.10,439.23 L200.45,438.37 L200.80,437.65 L201.15,437.59 L201.50,438.39 L201.85,439.36 L202.20,440.48 L202.55,441.74 L202.90,443.12 L203.25,444.60 L203.60,446.17 L203.95,447.82 L204.30,449.53 L204.65,451.28 L205.00,453.06 L205.35,454.86 L205.70,456.65 L206.05,458.42 L206.40,460.16 L206.75,461.86 L207.10,463.48 L207.45,465.03 L207.80,466.49 L208.15,467.83 L208.50,469.05 L208.85,470.13 L209.20,471.06 L209.55,471.81 L209.90,471.25 L210.25,470.31 L210.60,469.18 L210.95,467.90 L211.30,466.47 L211.65,464.92 L212.00,463.27 L212.35,461.53 L212.70,459.72 L213.05,457.87 L213.40,455.98 L213.75,454.09 L214.10,452.20 L214.45,450.34 L214.80,448.52 L215.15,446.77 L215.50,445.11 L215.85,443.54 L216.20,442.10 L216.55,440.79 L216.90,439.64 L217.25,438.67 L217.60,437.90 L217.95,438.42 L218.30,439.03 L218.65,439.74 L219.00,440.53 L219.35,441.40 L219.70,442.35 L220.05,443.36 L220.40,444.43 L220.75,445.55 L221.10,446.72 L221.45,447.93 L221.80,449.18 L222.15,450.45 L222.50,451.74 L222.85,453.05 L223.20,454.36 L223.55,455.68 L223.90,456.99 L224.25,458.28 L224.60,459.56 L224.95,460.81 L225.30,462.03 L225.65,463.22 L226.00,464.35 L226.35,465.44 L226.70,466.47 L227.05,467.43 L227.40,468.33 L227.75,469.14 L228.10,469.88 L228.45,470.52 L228.80,471.06 L229.15,470.75 L229.50,469.99 L229.85,469.09 L230.20,468.06 L230.55,466.91 L230.90,465.65 L231.25,464.31 L231.60,462.88 L231.95,461.40 L232.30,459.86 L232.65,458.29 L233.00,456.70 L233.35,455.09 L233.70,453.49 L234.05,451.91 L234.40,450.35 L234.75,448.85 L235.10,447.39 L235.45,446.02 L235.80,444.72 L236.15,443.52 L236.50,442.44 L236.85,441.48 L237.20,440.65 L237.55,439.98 L237.90,440.26 L238.25,440.74 L238.60,441.29 L238.95,441.91 L239.30,442.59 L239.65,443.33 L240.00,444.12 L240.35,444.96 L240.70,445.84 L241.05,446.76 L241.40,447.72 L241.75,448.71 L242.10,449.72 L242.45,450.76 L242.80,451.82 L243.15,452.88 L243.50,453.96 L243.85,455.05 L244.20,456.13 L244.55,457.21 L244.90,458.28 L245.25,459.34 L245.60,460.38 L245.95,461.40 L246.30,462.40 L246.65,463.37 L247.00,464.30 L247.35,465.19 L247.70,466.04 L248.05,466.85 L248.40,467.60 L248.75,468.30 L249.10,468.94 L249.45,469.51 L249.80,470.01 L250.15,470.44 L250.50,470.22 L250.85,469.79 L251.20,469.26 L251.55,468.65 L251.90,467.98 L252.25,467.27 L252.60,466.53 L252.90,465.90" stroke="#10f0f0" stroke-width="1.25"/>
</g>
<line x1="88.42" y1="371.60" x2="88.42" y2="499.70" stroke="#222" stroke-width="0.8" stroke-dasharray="2.7,1.3"/>
<path d="M40.50,499.70v-2.20M40.50,371.60v2.20M82.98,499.70v-2.20M82.98,371.60v2.20M125.46,499.70v-2.20M125.46,371.60v2.20M167.94,499.70v-2.20M167.94,371.60v2.20M210.42,499.70v-2.20M210.42,371.60v2.20M252.90,499.70v-2.20M252.90,371.60v2.20M40.50,499.70h2.20M252.90,499.70h-2.20M40.50,486.89h2.20M252.90,486.89h-2.20M40.50,474.08h2.20M252.90,474.08h-2.20M40.50,461.27h2.20M252.90,461.27h-2.20M40.50,448.46h2.20M252.90,448.46h-2.20M40.50,435.65h2.20M252.90,435.65h-2.20M40.50,422.84h2.20M252.90,422.84h-2.20M40.50,410.03h2.20M252.90,410.03h-2.20M40.50,397.22h2.20M252.90,397.22h-2.20M40.50,384.41h2.20M252.90,384.41h-2.20M40.50,371.60h2.20M252.90,371.60h-2.20" stroke="#777" stroke-width="0.8" fill="none"/>
<rect x="40.50" y="371.60" width="212.40" height="128.10" fill="none" stroke="#707070" stroke-width="1.1"/>
<text x="40.50" y="511.60" text-anchor="middle" class="t">0</text>
<text x="82.98" y="511.60" text-anchor="middle" class="t">0.5</text>
<text x="125.46" y="511.60" text-anchor="middle" class="t">1</text>
<text x="167.94" y="511.60" text-anchor="middle" class="t">1.5</text>
<text x="210.42" y="511.60" text-anchor="middle" class="t">2</text>
<text x="252.90" y="511.60" text-anchor="middle" class="t">2.5</text>
<text x="37.30" y="502.90" text-anchor="end" class="t">-8</text>
<text x="37.30" y="490.09" text-anchor="end" class="t">-6</text>
<text x="37.30" y="477.28" text-anchor="end" class="t">-4</text>
<text x="37.30" y="464.47" text-anchor="end" class="t">-2</text>
<text x="37.30" y="451.66" text-anchor="end" class="t">0</text>
<text x="37.30" y="438.85" text-anchor="end" class="t">2</text>
<text x="37.30" y="426.04" text-anchor="end" class="t">4</text>
<text x="37.30" y="413.23" text-anchor="end" class="t">6</text>
<text x="37.30" y="400.42" text-anchor="end" class="t">8</text>
<text x="37.30" y="387.61" text-anchor="end" class="t">10</text>
<text x="37.30" y="374.80" text-anchor="end" class="t">12</text>
<text x="146.70" y="524.30" text-anchor="middle" class="t">Time (s)</text>
<text transform="translate(22.80,435.65) rotate(-90)" text-anchor="middle" class="t">Strain</text>
<text x="41.40" y="369.60" class="t"><tspan font-size="11.5" dy="1.5" style="stroke-width:0.1px">&#215;</tspan><tspan dy="-1.5">10</tspan><tspan dy="-4.6" font-size="7.2">-4</tspan></text>
<text x="8.00" y="372.80" class="lab">(e)</text>
<text x="42.50" y="381.80" class="v"><tspan font-style="italic">v</tspan>=2.31 m/s</text>
<text x="86.20" y="494.10" text-anchor="end" class="t ob">On bridge</text>
<text x="91.80" y="494.10" class="t ob">Leaving bridge</text>
<line x1="202.00" y1="382.90" x2="221.50" y2="382.90" stroke="#22ea22" stroke-width="1.25"/>
<text x="223.00" y="386.00" class="lg">LPEH</text>
<line x1="202.00" y1="393.40" x2="221.50" y2="393.40" stroke="#f21212" stroke-width="1.10"/>
<text x="223.00" y="396.50" class="lg">BPEH</text>
<line x1="202.00" y1="403.90" x2="221.50" y2="403.90" stroke="#10f0f0" stroke-width="1.25"/>
<text x="223.00" y="407.00" class="lg">TPEH</text>
<clipPath id="cpf"><rect x="314.70" y="371.60" width="212.50" height="128.10"/></clipPath>
<g clip-path="url(#cpf)" fill="none" stroke-linejoin="round" stroke-linecap="round">
<path d="M314.70,448.30 L315.05,448.30 L315.40,448.30 L315.75,448.30 L316.10,448.30 L316.45,448.30 L316.80,448.30 L317.15,448.30 L317.50,448.30 L317.85,448.30 L318.20,448.30 L318.55,448.30 L318.90,448.30 L319.25,448.30 L319.60,448.30 L319.95,448.30 L320.30,448.30 L320.65,448.30 L321.00,448.30 L321.35,448.30 L321.70,448.30 L322.05,448.30 L322.40,448.30 L322.75,448.30 L323.10,448.30 L323.45,448.30 L323.80,448.30 L324.15,448.30 L324.50,448.30 L324.85,448.30 L325.20,448.30 L325.55,448.30 L325.90,448.30 L326.25,448.72 L326.60,450.50 L326.95,453.24 L327.30,456.45 L327.65,459.66 L328.00,462.40 L328.35,464.18 L328.70,464.50 L329.05,462.66 L329.40,458.98 L329.75,454.03 L330.10,448.42 L330.45,442.73 L330.80,437.53 L331.15,433.43 L331.50,431.01 L331.85,430.85 L332.20,433.13 L332.55,437.27 L332.90,442.61 L333.25,448.52 L333.60,454.33 L333.95,459.40 L334.30,463.07 L334.65,464.70 L335.00,463.83 L335.35,460.84 L335.70,456.38 L336.05,451.06 L336.40,445.49 L336.75,440.32 L337.10,436.16 L337.45,433.63 L337.80,433.34 L338.15,435.37 L338.50,439.15 L338.85,444.05 L339.20,449.48 L339.55,454.81 L339.90,459.44 L340.25,462.76 L340.60,464.15 L340.95,463.17 L341.30,460.20 L341.65,455.83 L342.00,450.67 L342.35,445.32 L342.70,440.38 L343.05,436.44 L343.40,434.11 L343.75,433.97 L344.10,436.04 L344.45,439.75 L344.80,444.51 L345.15,449.75 L345.50,454.86 L345.85,459.26 L346.20,462.37 L346.55,463.58 L346.90,462.51 L347.25,459.56 L347.60,455.30 L347.95,450.31 L348.30,445.17 L348.65,440.45 L349.00,436.74 L349.35,434.60 L349.70,434.60 L350.05,436.69 L350.40,440.33 L350.75,444.96 L351.10,450.00 L351.45,454.89 L351.80,459.06 L352.15,461.96 L352.50,463.00 L352.85,461.86 L353.20,458.94 L353.55,454.79 L353.90,449.97 L354.25,445.04 L354.60,440.55 L354.95,437.05 L355.30,435.11 L355.65,435.23 L356.00,437.34 L356.35,440.90 L356.70,445.38 L357.05,450.22 L357.40,454.89 L357.75,458.84 L358.10,461.53 L358.45,462.42 L358.80,461.21 L359.15,458.33 L359.50,454.30 L359.85,449.66 L360.20,444.94 L360.55,440.67 L360.90,437.39 L361.25,435.63 L361.60,435.86 L361.95,437.97 L362.30,441.45 L362.65,445.77 L363.00,450.42 L363.35,454.87 L363.70,458.60 L364.05,461.09 L364.40,461.83 L364.75,460.57 L365.10,457.73 L365.45,453.83 L365.80,449.37 L366.15,444.86 L366.50,440.82 L366.85,437.74 L367.20,436.15 L367.55,436.49 L367.90,438.60 L368.25,441.99 L368.60,446.16 L368.95,450.61 L369.30,454.84 L369.65,458.35 L370.00,460.66 L370.35,461.25 L370.70,459.93 L371.05,457.13 L371.40,453.33 L371.75,449.01 L372.10,444.68 L372.45,440.83 L372.80,437.93 L373.15,436.50 L373.50,436.94 L373.85,439.08 L374.20,442.45 L374.55,446.54 L374.90,450.89 L375.25,454.99 L375.60,458.37 L375.95,460.53 L376.30,461.00 L376.65,459.61 L377.00,456.79 L377.35,453.01 L377.70,448.76 L378.05,444.52 L378.40,440.78 L378.75,438.01 L379.10,436.69 L379.45,437.23 L379.80,439.42 L380.15,442.77 L380.50,446.82 L380.85,451.09 L381.20,455.09 L381.55,458.35 L381.90,460.39 L382.25,460.75 L382.60,459.29 L382.95,456.45 L383.30,452.71 L383.65,448.52 L384.00,444.38 L384.35,440.74 L384.70,438.09 L385.05,436.89 L385.40,437.53 L385.75,439.75 L386.10,443.10 L386.45,447.10 L386.80,451.28 L387.15,455.18 L387.50,458.33 L387.85,460.25 L388.20,460.49 L388.55,458.97 L388.90,456.12 L389.25,452.41 L389.60,448.29 L389.95,444.24 L390.30,440.71 L390.65,438.18 L391.00,437.10 L391.35,437.82 L391.70,440.08 L392.05,443.41 L392.40,447.36 L392.75,451.46 L393.10,455.26 L393.45,458.29 L393.80,460.10 L394.15,460.23 L394.50,458.65 L394.85,455.80 L395.20,452.12 L395.55,448.07 L395.90,444.11 L396.25,440.69 L396.60,438.27 L396.95,437.31 L397.30,438.12 L397.65,440.41 L398.00,443.72 L398.35,447.62 L398.70,451.64 L399.05,455.33 L399.40,458.25 L399.75,459.94 L400.10,459.96 L400.45,458.33 L400.80,455.47 L401.15,451.83 L401.50,447.85 L401.85,443.99 L402.20,440.68 L402.55,438.38 L402.90,437.53 L403.25,438.42 L403.60,440.73 L403.95,444.03 L404.30,447.87 L404.65,451.80 L405.00,455.39 L405.35,458.19 L405.70,459.77 L406.05,459.69 L406.40,458.01 L406.75,455.16 L407.10,451.55 L407.45,447.65 L407.80,443.88 L408.15,440.68 L408.50,438.50 L408.85,437.76 L409.20,438.72 L409.55,441.04 L409.90,444.30 L410.25,448.07 L410.60,451.90 L410.95,455.37 L411.30,458.05 L411.65,459.51 L412.00,459.34 L412.35,457.64 L412.70,454.83 L413.05,451.32 L413.40,447.55 L413.75,443.93 L414.10,440.88 L414.45,438.84 L414.80,438.22 L415.15,439.22 L415.50,441.51 L415.85,444.66 L416.20,448.28 L416.55,451.94 L416.90,455.22 L417.25,457.73 L417.60,459.04 L417.95,458.79 L418.30,457.10 L418.65,454.37 L419.00,451.01 L419.35,447.41 L419.70,443.98 L420.05,441.12 L420.40,439.24 L420.75,438.74 L421.10,439.77 L421.45,442.00 L421.80,445.04 L422.15,448.50 L422.50,451.97 L422.85,455.07 L423.20,457.40 L423.55,458.57 L423.90,458.25 L424.25,456.58 L424.60,453.93 L424.95,450.71 L425.30,447.29 L425.65,444.05 L426.00,441.37 L426.35,439.65 L426.70,439.26 L427.05,440.31 L427.40,442.49 L427.75,445.41 L428.10,448.70 L428.45,451.99 L428.80,454.90 L429.15,457.06 L429.50,458.10 L429.85,457.70 L430.20,456.03 L430.55,453.46 L430.90,450.35 L431.25,447.07 L431.60,443.99 L431.95,441.47 L432.30,439.88 L432.65,439.59 L433.00,440.70 L433.35,442.88 L433.70,445.77 L434.05,449.00 L434.40,452.21 L434.75,455.03 L435.10,457.09 L435.45,458.03 L435.80,457.56 L436.15,455.84 L436.50,453.25 L436.85,450.14 L437.20,446.88 L437.55,443.84 L437.90,441.39 L438.25,439.87 L438.60,439.67 L438.95,440.84 L439.30,443.06 L439.65,445.96 L440.00,449.18 L440.35,452.36 L440.70,455.13 L441.05,457.13 L441.40,458.00 L441.75,457.44 L442.10,455.68 L442.45,453.06 L442.80,449.95 L443.15,446.71 L443.50,443.71 L443.85,441.31 L444.20,439.87 L444.55,439.75 L444.90,440.98 L445.25,443.24 L445.60,446.15 L445.95,449.37 L446.30,452.52 L446.65,455.24 L447.00,457.17 L447.35,457.95 L447.70,457.33 L448.05,455.51 L448.40,452.87 L448.75,449.76 L449.10,446.54 L449.45,443.58 L449.80,441.24 L450.15,439.87 L450.50,439.83 L450.85,441.13 L451.20,443.42 L451.55,446.35 L451.90,449.55 L452.25,452.67 L452.60,455.34 L452.95,457.21 L453.30,457.91 L453.65,457.21 L454.00,455.34 L454.35,452.68 L454.70,449.57 L455.05,446.38 L455.40,443.46 L455.75,441.17 L456.10,439.88 L456.45,439.92 L456.80,441.28 L457.15,443.60 L457.50,446.54 L457.85,449.73 L458.20,452.81 L458.55,455.43 L458.90,457.23 L459.25,457.86 L459.60,457.08 L459.95,455.18 L460.30,452.49 L460.65,449.38 L461.00,446.21 L461.35,443.34 L461.70,441.11 L462.05,439.89 L462.40,440.01 L462.75,441.43 L463.10,443.78 L463.45,446.73 L463.80,449.90 L464.15,452.96 L464.50,455.53 L464.85,457.26 L465.20,457.80 L465.55,456.96 L465.90,455.01 L466.25,452.30 L466.60,449.20 L466.95,446.05 L467.30,443.22 L467.65,441.05 L468.00,439.91 L468.35,440.11 L468.70,441.58 L469.05,443.96 L469.40,446.92 L469.75,450.08 L470.10,453.09 L470.45,455.61 L470.80,457.28 L471.15,457.74 L471.50,456.83 L471.85,454.84 L472.20,452.11 L472.55,449.02 L472.90,445.90 L473.25,443.10 L473.60,441.00 L473.95,439.93 L474.30,440.21 L474.65,441.73 L475.00,444.15 L475.35,447.10 L475.70,450.25 L476.05,453.23 L476.40,455.70 L476.75,457.30 L477.10,457.67 L477.45,456.70 L477.80,454.66 L478.15,451.93 L478.50,448.83 L478.85,445.74 L479.20,442.99 L479.55,440.95 L479.90,439.96 L480.25,440.31 L480.60,441.89 L480.95,444.33 L481.30,447.29 L481.65,450.42 L482.00,453.36 L482.35,455.78 L482.70,457.31 L483.05,457.60 L483.40,456.56 L483.75,454.49 L484.10,451.74 L484.45,448.66 L484.80,445.59 L485.15,442.89 L485.50,440.90 L485.85,439.99 L486.20,440.42 L486.55,442.04 L486.90,444.51 L487.25,447.47 L487.60,450.59 L487.95,453.49 L488.30,455.85 L488.65,457.31 L489.00,457.53 L489.35,456.43 L489.70,454.32 L490.05,451.55 L490.40,448.48 L490.75,445.44 L491.10,442.79 L491.45,440.86 L491.80,440.02 L492.15,440.53 L492.50,442.20 L492.85,444.69 L493.20,447.66 L493.55,450.75 L493.90,453.62 L494.25,455.92 L494.60,457.31 L494.95,457.45 L495.30,456.29 L495.65,454.15 L496.00,451.37 L496.35,448.30 L496.70,445.29 L497.05,442.69 L497.40,440.83 L497.75,440.06 L498.10,440.64 L498.45,442.36 L498.80,444.88 L499.15,447.84 L499.50,450.91 L499.85,453.74 L500.20,455.99 L500.55,457.31 L500.90,457.37 L501.25,456.15 L501.60,453.97 L501.95,451.19 L502.30,448.13 L502.65,445.15 L503.00,442.59 L503.35,440.80 L503.70,440.11 L504.05,440.76 L504.40,442.52 L504.75,445.06 L505.10,448.02 L505.45,451.07 L505.80,453.86 L506.15,456.05 L506.50,457.30 L506.85,457.28 L507.20,456.01 L507.55,453.80 L507.90,451.00 L508.25,447.96 L508.60,445.01 L508.95,442.50 L509.30,440.77 L509.65,440.16 L510.00,440.88 L510.35,442.68 L510.70,445.24 L511.05,448.20 L511.40,451.22 L511.75,453.98 L512.10,456.11 L512.45,457.29 L512.80,457.19 L513.15,455.86 L513.50,453.62 L513.85,450.82 L514.20,447.79 L514.55,444.88 L514.90,442.41 L515.25,440.75 L515.60,440.21 L515.95,441.00 L516.30,442.85 L516.65,445.42 L517.00,448.38 L517.35,451.38 L517.70,454.09 L518.05,456.17 L518.40,457.27 L518.75,457.10 L519.10,455.72 L519.45,453.45 L519.80,450.64 L520.15,447.63 L520.50,444.74 L520.85,442.33 L521.20,440.73 L521.55,440.26 L521.90,440.57 L522.25,441.36 L522.60,442.62 L522.95,444.36 L523.30,446.58 L523.65,449.27 L524.00,452.43 L524.35,456.08 L524.46,457.32" stroke="#22ea22" stroke-width="1.25"/>
<path d="M314.70,441.10 L315.05,440.98 L315.40,440.86 L315.75,440.76 L316.10,440.66 L316.45,440.57 L316.80,440.49 L317.15,440.42 L317.50,440.35 L317.85,440.29 L318.20,440.24 L318.55,440.19 L318.90,440.15 L319.25,440.12 L319.60,440.09 L319.95,440.06 L320.30,440.04 L320.65,440.03 L321.00,440.01 L321.35,440.01 L321.70,440.00 L322.05,440.00 L322.40,440.00 L322.75,440.02 L323.10,440.04 L323.45,440.06 L323.80,440.10 L324.15,440.14 L324.50,440.19 L324.85,440.25 L325.20,440.32 L325.55,440.40 L325.90,440.49 L326.25,440.59 L326.60,440.70 L326.95,440.81 L327.30,440.94 L327.65,441.08 L328.00,441.24 L328.35,441.40 L328.70,441.58 L329.05,441.76 L329.40,441.96 L329.75,442.17 L330.10,442.40 L330.45,443.68 L330.80,446.75 L331.15,451.14 L331.50,456.37 L331.85,461.99 L332.20,467.51 L332.55,472.48 L332.90,476.41 L333.25,478.84 L333.60,479.26 L333.95,476.76 L334.30,471.70 L334.65,464.78 L335.00,456.73 L335.35,448.27 L335.70,440.12 L336.05,432.99 L336.40,427.62 L336.75,424.71 L337.10,425.16 L337.45,429.70 L337.80,437.39 L338.15,447.12 L338.50,457.79 L338.85,468.31 L339.20,477.56 L339.55,484.46 L339.90,487.91 L340.25,487.30 L340.60,483.79 L340.95,478.07 L341.30,470.74 L341.65,462.44 L342.00,453.79 L342.35,445.40 L342.70,437.89 L343.05,431.90 L343.40,428.04 L343.75,426.93 L344.10,428.68 L344.45,432.63 L344.80,438.12 L345.15,444.47 L345.50,451.01 L345.85,457.08 L346.20,461.99 L346.55,465.08 L346.90,465.77 L347.25,465.24 L347.60,464.13 L347.95,462.54 L348.30,460.56 L348.65,458.31 L349.00,455.88 L349.35,453.38 L349.70,450.91 L350.05,448.57 L350.40,446.47 L350.75,444.70 L351.10,443.37 L351.45,442.58 L351.80,442.44 L352.15,443.09 L352.50,444.47 L352.85,446.44 L353.20,448.89 L353.55,451.68 L353.90,454.69 L354.25,457.79 L354.60,460.85 L354.95,463.75 L355.30,466.36 L355.65,468.55 L356.00,470.20 L356.35,471.18 L356.70,471.34 L357.05,470.31 L357.40,468.13 L357.75,465.02 L358.10,461.17 L358.45,456.80 L358.80,452.10 L359.15,447.29 L359.50,442.56 L359.85,438.13 L360.20,434.19 L360.55,430.96 L360.90,428.64 L361.25,427.43 L361.60,427.77 L361.95,430.58 L362.30,435.42 L362.65,441.66 L363.00,448.68 L363.35,455.89 L363.70,462.65 L364.05,468.36 L364.40,472.41 L364.75,474.17 L365.10,473.29 L365.45,470.19 L365.80,465.38 L366.15,459.32 L366.50,452.50 L366.85,445.41 L367.20,438.52 L367.55,432.32 L367.90,427.30 L368.25,423.93 L368.60,422.70 L368.95,423.94 L369.30,427.36 L369.65,432.48 L370.00,438.82 L370.35,445.90 L370.70,453.26 L371.05,460.41 L371.40,466.88 L371.75,472.20 L372.10,475.89 L372.45,477.47 L372.80,476.98 L373.15,475.17 L373.50,472.29 L373.85,468.53 L374.20,464.13 L374.55,459.30 L374.90,454.25 L375.25,449.20 L375.60,444.37 L375.95,439.97 L376.30,436.21 L376.65,433.33 L377.00,431.52 L377.35,431.01 L377.70,431.64 L378.05,433.13 L378.40,435.33 L378.75,438.08 L379.10,441.22 L379.45,444.61 L379.80,448.09 L380.15,451.50 L380.50,454.69 L380.85,457.51 L381.20,459.80 L381.55,461.40 L381.90,462.16 L382.25,462.14 L382.60,461.86 L382.95,461.40 L383.30,460.81 L383.65,460.15 L384.00,459.45 L384.35,458.78 L384.70,458.18 L385.05,457.70 L385.40,457.39 L385.75,457.30 L386.10,457.51 L386.45,458.00 L386.80,458.68 L387.15,459.51 L387.50,460.40 L387.85,461.29 L388.20,462.12 L388.55,462.80 L388.90,463.29 L389.25,463.50 L389.60,463.25 L389.95,462.37 L390.30,460.94 L390.65,459.05 L391.00,456.76 L391.35,454.17 L391.70,451.36 L392.05,448.40 L392.40,445.39 L392.75,442.40 L393.10,439.51 L393.45,436.82 L393.80,434.39 L394.15,432.32 L394.50,430.68 L394.85,429.55 L395.20,429.03 L395.55,429.31 L395.90,430.72 L396.25,433.09 L396.60,436.24 L396.95,440.01 L397.30,444.21 L397.65,448.66 L398.00,453.19 L398.35,457.61 L398.70,461.76 L399.05,465.45 L399.40,468.50 L399.75,470.75 L400.10,472.00 L400.45,472.05 L400.80,470.60 L401.15,467.82 L401.50,463.99 L401.85,459.37 L402.20,454.22 L402.55,448.80 L402.90,443.38 L403.25,438.23 L403.60,433.61 L403.95,429.78 L404.30,427.00 L404.65,425.55 L405.00,425.68 L405.35,427.44 L405.70,430.54 L406.05,434.70 L406.40,439.64 L406.75,445.08 L407.10,450.71 L407.45,456.27 L407.80,461.46 L408.15,465.99 L408.50,469.58 L408.85,471.95 L409.20,472.80 L409.55,471.99 L409.90,469.73 L410.25,466.31 L410.60,461.98 L410.95,457.04 L411.30,451.74 L411.65,446.36 L412.00,441.18 L412.35,436.47 L412.70,432.50 L413.05,429.54 L413.40,427.87 L413.75,427.72 L414.10,428.85 L414.45,431.02 L414.80,434.03 L415.15,437.68 L415.50,441.78 L415.85,446.14 L416.20,450.55 L416.55,454.82 L416.90,458.75 L417.25,462.15 L417.60,464.83 L417.95,466.57 L418.30,467.20 L418.65,466.98 L419.00,466.36 L419.35,465.37 L419.70,464.06 L420.05,462.48 L420.40,460.66 L420.75,458.65 L421.10,456.49 L421.45,454.23 L421.80,451.90 L422.15,449.56 L422.50,447.24 L422.85,444.99 L423.20,442.85 L423.55,440.87 L423.90,439.08 L424.25,437.53 L424.60,436.27 L424.95,435.33 L425.30,434.76 L425.65,434.60 L426.00,434.70 L426.35,434.93 L426.70,435.30 L427.05,435.78 L427.40,436.38 L427.75,437.08 L428.10,437.88 L428.45,438.76 L428.80,439.71 L429.15,440.73 L429.50,441.81 L429.85,442.93 L430.20,444.10 L430.55,445.29 L430.90,446.50 L431.25,447.73 L431.60,448.95 L431.95,450.17 L432.30,451.36 L432.65,452.54 L433.00,453.67 L433.35,454.77 L433.70,455.80 L434.05,456.78 L434.40,457.68 L434.75,458.50 L435.10,459.23 L435.45,459.86 L435.80,460.38 L436.15,460.78 L436.50,461.05 L436.85,461.19 L437.20,461.15 L437.55,460.87 L437.90,460.34 L438.25,459.59 L438.60,458.66 L438.95,457.55 L439.30,456.30 L439.65,454.94 L440.00,453.48 L440.35,451.95 L440.70,450.38 L441.05,448.80 L441.40,447.22 L441.75,445.67 L442.10,444.18 L442.45,442.77 L442.80,441.47 L443.15,440.30 L443.50,439.29 L443.85,438.45 L444.20,437.83 L444.55,437.44 L444.90,437.30 L445.25,437.42 L445.60,437.74 L445.95,438.23 L446.30,438.86 L446.65,439.58 L447.00,440.37 L447.35,441.18 L447.70,441.99 L448.05,442.74 L448.40,443.42 L448.75,443.97 L449.10,444.37 L449.45,444.58 L449.80,444.58 L450.15,444.43 L450.50,444.17 L450.85,443.83 L451.20,443.44 L451.55,443.01 L451.90,442.58 L452.25,442.17 L452.60,441.82 L452.95,441.53 L453.30,441.35 L453.65,441.30 L454.00,441.34 L454.35,441.43 L454.70,441.57 L455.05,441.73 L455.40,441.92 L455.75,442.12 L456.10,442.32 L456.45,442.52 L456.80,442.69 L457.15,442.83 L457.50,442.94 L457.85,442.99 L458.20,442.98 L458.55,442.85 L458.90,442.61 L459.25,442.29 L459.60,441.90 L459.95,441.46 L460.30,441.00 L460.65,440.53 L461.00,440.07 L461.35,439.64 L461.70,439.26 L462.05,438.95 L462.40,438.73 L462.75,438.61 L463.10,438.62 L463.45,438.78 L463.80,439.07 L464.15,439.48 L464.50,439.99 L464.85,440.59 L465.20,441.26 L465.55,441.99 L465.90,442.76 L466.25,443.55 L466.60,444.37 L466.95,445.18 L467.30,445.97 L467.65,446.73 L468.00,447.44 L468.35,448.09 L468.70,448.66 L469.05,449.15 L469.40,449.52 L469.75,449.78 L470.10,449.89 L470.45,449.88 L470.80,449.80 L471.15,449.66 L471.50,449.46 L471.85,449.20 L472.20,448.90 L472.55,448.55 L472.90,448.16 L473.25,447.74 L473.60,447.28 L473.95,446.80 L474.30,446.29 L474.65,445.77 L475.00,445.23 L475.35,444.68 L475.70,444.13 L476.05,443.58 L476.40,443.03 L476.75,442.49 L477.10,441.96 L477.45,441.45 L477.80,440.96 L478.15,440.49 L478.50,440.06 L478.85,439.66 L479.20,439.30 L479.55,438.98 L479.90,438.71 L480.25,438.49 L480.60,438.33 L480.95,438.23 L481.30,438.20 L481.65,438.25 L482.00,438.39 L482.35,438.62 L482.70,438.92 L483.05,439.29 L483.40,439.73 L483.75,440.21 L484.10,440.74 L484.45,441.30 L484.80,441.90 L485.15,442.51 L485.50,443.13 L485.85,443.76 L486.20,444.38 L486.55,444.99 L486.90,445.58 L487.25,446.14 L487.60,446.66 L487.95,447.14 L488.30,447.56 L488.65,447.93 L489.00,448.22 L489.35,448.43 L489.70,448.56 L490.05,448.60 L490.40,448.51 L490.75,448.29 L491.10,447.96 L491.45,447.53 L491.80,447.01 L492.15,446.43 L492.50,445.78 L492.85,445.08 L493.20,444.36 L493.55,443.61 L493.90,442.87 L494.25,442.13 L494.60,441.42 L494.95,440.74 L495.30,440.11 L495.65,439.55 L496.00,439.07 L496.35,438.68 L496.70,438.40 L497.05,438.24 L497.40,438.21 L497.75,438.30 L498.10,438.51 L498.45,438.82 L498.80,439.20 L499.15,439.65 L499.50,440.15 L499.85,440.69 L500.20,441.24 L500.55,441.80 L500.90,442.35 L501.25,442.87 L501.60,443.35 L501.95,443.77 L502.30,444.13 L502.65,444.39 L503.00,444.55 L503.35,444.60 L503.70,444.56 L504.05,444.45 L504.40,444.30 L504.75,444.10 L505.10,443.85 L505.45,443.58 L505.80,443.28 L506.15,442.97 L506.50,442.64 L506.85,442.31 L507.20,441.99 L507.55,441.67 L507.90,441.38 L508.25,441.11 L508.60,440.87 L508.95,440.68 L509.30,440.53 L509.65,440.43 L510.00,440.40 L510.35,440.41 L510.70,440.44 L511.05,440.49 L511.40,440.55 L511.75,440.63 L512.10,440.73 L512.45,440.83 L512.80,440.95 L513.15,441.08 L513.50,441.22 L513.85,441.36 L514.20,441.51 L514.55,441.66 L514.90,441.82 L515.25,441.98 L515.60,442.14 L515.95,442.29 L516.30,442.45 L516.65,442.60 L517.00,442.74 L517.35,442.88 L517.70,443.01 L518.05,443.13 L518.40,443.24 L518.75,443.34 L519.10,443.43 L519.45,443.50 L519.80,443.55 L520.15,443.58 L520.50,443.60 L520.85,443.59 L521.20,443.54 L521.55,443.46 L521.90,443.33 L522.25,443.18 L522.60,442.99 L522.95,442.78 L523.30,442.53 L523.65,442.27 L524.00,441.97 L524.35,441.66 L524.70,441.33 L525.05,440.98 L525.40,440.62 L525.75,440.25 L526.10,439.86 L526.45,439.46 L526.80,439.06 L527.15,438.66 L527.20,438.60" stroke="#f21212" stroke-width="1.10"/>
<path d="M314.70,411.50 L315.05,411.54 L315.40,411.58 L315.75,411.62 L316.10,411.65 L316.45,411.69 L316.80,411.72 L317.15,411.75 L317.50,411.79 L317.85,411.81 L318.20,411.84 L318.55,411.87 L318.90,411.89 L319.25,411.92 L319.60,411.94 L319.95,411.97 L320.30,411.99 L320.65,412.01 L321.00,412.03 L321.35,412.04 L321.70,412.06 L322.05,412.08 L322.40,412.10 L322.75,412.11 L323.10,412.13 L323.45,412.14 L323.80,412.15 L324.15,412.17 L324.50,412.18 L324.85,412.19 L325.20,412.20 L325.55,412.21 L325.90,412.22 L326.25,412.23 L326.60,412.24 L326.95,412.25 L327.30,412.26 L327.65,412.27 L328.00,412.28 L328.35,412.29 L328.70,412.30 L329.05,411.42 L329.40,409.61 L329.75,407.30 L330.10,404.70 L330.45,402.02 L330.80,399.45 L331.15,397.20 L331.50,395.47 L331.85,396.49 L332.20,401.78 L332.55,408.68 L332.90,416.85 L333.25,425.94 L333.60,435.62 L333.95,445.54 L334.30,455.36 L334.65,464.75 L335.00,473.35 L335.35,480.84 L335.70,486.86 L336.05,489.82 L336.40,482.29 L336.75,471.71 L337.10,458.94 L337.45,444.83 L337.80,430.24 L338.15,416.01 L338.50,403.00 L338.85,392.06 L339.20,384.04 L339.55,385.23 L339.90,390.62 L340.25,397.41 L340.60,405.30 L340.95,413.97 L341.30,423.12 L341.65,432.45 L342.00,441.65 L342.35,450.40 L342.70,458.42 L343.05,465.39 L343.40,471.00 L343.75,474.21 L344.10,471.31 L344.45,467.23 L344.80,462.31 L345.15,456.92 L345.50,451.43 L345.85,446.20 L346.20,441.60 L346.55,437.98 L346.90,436.55 L347.25,438.17 L347.60,440.32 L347.95,442.89 L348.30,445.78 L348.65,448.87 L349.00,452.06 L349.35,455.23 L349.70,458.27 L350.05,461.08 L350.40,463.54 L350.75,465.55 L351.10,467.00 L351.45,465.09 L351.80,462.63 L352.15,459.69 L352.50,456.32 L352.85,452.60 L353.20,448.58 L353.55,444.32 L353.90,439.90 L354.25,435.37 L354.60,430.79 L354.95,426.23 L355.30,421.76 L355.65,417.42 L356.00,413.29 L356.35,409.43 L356.70,405.91 L357.05,402.78 L357.40,400.10 L357.75,397.95 L358.10,398.63 L358.45,401.87 L358.80,405.93 L359.15,410.70 L359.50,416.02 L359.85,421.78 L360.20,427.83 L360.55,434.06 L360.90,440.32 L361.25,446.49 L361.60,452.44 L361.95,458.02 L362.30,463.12 L362.65,467.60 L363.00,471.33 L363.35,474.17 L363.70,471.94 L364.05,467.97 L364.40,463.07 L364.75,457.42 L365.10,451.18 L365.45,444.52 L365.80,437.61 L366.15,430.59 L366.50,423.65 L366.85,416.94 L367.20,410.64 L367.55,404.90 L367.90,399.88 L368.25,395.76 L368.60,392.70 L368.95,396.42 L369.30,401.54 L369.65,407.82 L370.00,414.99 L370.35,422.78 L370.70,430.95 L371.05,439.23 L371.40,447.36 L371.75,455.08 L372.10,462.14 L372.45,468.27 L372.80,473.21 L373.15,475.90 L373.50,472.33 L373.85,467.57 L374.20,461.82 L374.55,455.30 L374.90,448.19 L375.25,440.71 L375.60,433.05 L375.95,425.43 L376.30,418.03 L376.65,411.07 L377.00,404.75 L377.35,399.26 L377.70,394.82 L378.05,392.50 L378.40,397.12 L378.75,403.40 L379.10,411.01 L379.45,419.61 L379.80,428.84 L380.15,438.37 L380.50,447.84 L380.85,456.93 L381.20,465.28 L381.55,472.54 L381.90,478.39 L382.25,481.54 L382.60,477.41 L382.95,471.84 L383.30,465.10 L383.65,457.46 L384.00,449.20 L384.35,440.59 L384.70,431.90 L385.05,423.40 L385.40,415.38 L385.75,408.09 L386.10,401.81 L386.45,396.83 L386.80,395.06 L387.15,398.98 L387.50,404.15 L387.85,410.33 L388.20,417.29 L388.55,424.79 L388.90,432.60 L389.25,440.47 L389.60,448.17 L389.95,455.47 L390.30,462.13 L390.65,467.90 L391.00,472.57 L391.35,475.31 L391.70,473.73 L392.05,471.67 L392.40,469.22 L392.75,466.42 L393.10,463.34 L393.45,460.05 L393.80,456.61 L394.15,453.08 L394.50,449.52 L394.85,445.99 L395.20,442.57 L395.55,439.30 L395.90,436.26 L396.25,433.51 L396.60,431.11 L396.95,429.12 L397.30,427.60 L397.65,428.51 L398.00,429.76 L398.35,431.27 L398.70,433.00 L399.05,434.89 L399.40,436.87 L399.75,438.90 L400.10,440.92 L400.45,442.86 L400.80,444.68 L401.15,446.30 L401.50,447.69 L401.85,448.77 L402.20,449.06 L402.55,449.21 L402.90,449.34 L403.25,449.46 L403.60,449.57 L403.95,449.68 L404.30,449.80 L404.65,449.93 L405.00,450.09 L405.35,450.56 L405.70,451.61 L406.05,452.90 L406.40,454.39 L406.75,456.03 L407.10,457.77 L407.45,459.56 L407.80,461.35 L408.15,463.10 L408.50,464.76 L408.85,466.28 L409.20,467.60 L409.55,468.69 L409.90,469.50 L410.25,468.40 L410.60,466.99 L410.95,465.32 L411.30,463.42 L411.65,461.30 L412.00,459.02 L412.35,456.60 L412.70,454.06 L413.05,451.45 L413.40,448.79 L413.75,446.12 L414.10,443.47 L414.45,440.87 L414.80,438.35 L415.15,435.94 L415.50,433.68 L415.85,431.60 L416.20,429.72 L416.55,428.09 L416.90,426.73 L417.25,425.97 L417.60,427.40 L417.95,429.24 L418.30,431.43 L418.65,433.92 L419.00,436.66 L419.35,439.61 L419.70,442.70 L420.05,445.90 L420.40,449.15 L420.75,452.40 L421.10,455.60 L421.45,458.69 L421.80,461.64 L422.15,464.38 L422.50,466.87 L422.85,469.06 L423.20,470.90 L423.55,472.33 L423.90,471.44 L424.25,469.84 L424.60,467.88 L424.95,465.63 L425.30,463.13 L425.65,460.43 L426.00,457.59 L426.35,454.67 L426.70,451.70 L427.05,448.75 L427.40,445.87 L427.75,443.11 L428.10,440.52 L428.45,438.15 L428.80,436.06 L429.15,434.30 L429.50,432.92 L429.85,433.10 L430.20,433.96 L430.55,434.98 L430.90,436.14 L431.25,437.44 L431.60,438.86 L431.95,440.38 L432.30,441.98 L432.65,443.65 L433.00,445.39 L433.35,447.16 L433.70,448.96 L434.05,450.77 L434.40,452.57 L434.75,454.36 L435.10,456.11 L435.45,457.81 L435.80,459.45 L436.15,461.00 L436.50,462.46 L436.85,463.81 L437.20,465.04 L437.55,466.12 L437.90,467.05 L438.25,467.81 L438.60,467.79 L438.95,467.64 L439.30,467.46 L439.65,467.25 L440.00,467.02 L440.35,466.77 L440.70,466.51 L441.05,466.23 L441.40,465.93 L441.75,465.63 L442.10,465.32 L442.45,465.00 L442.80,464.68 L443.15,464.23 L443.50,463.53 L443.85,462.75 L444.20,461.90 L444.55,460.99 L444.90,460.02 L445.25,459.01 L445.60,457.96 L445.95,456.87 L446.30,455.77 L446.65,454.65 L447.00,453.53 L447.35,452.40 L447.70,451.29 L448.05,450.19 L448.40,449.12 L448.75,448.09 L449.10,447.09 L449.45,446.15 L449.80,445.26 L450.15,444.44 L450.50,443.69 L450.85,443.02 L451.20,442.44 L451.55,441.96 L451.90,442.14 L452.25,442.49 L452.60,442.91 L452.95,443.40 L453.30,443.94 L453.65,444.52 L454.00,445.15 L454.35,445.80 L454.70,446.47 L455.05,447.16 L455.40,447.85 L455.75,448.53 L456.10,449.21 L456.45,449.86 L456.80,450.49 L457.15,451.08 L457.50,451.63 L457.85,452.12 L458.20,452.55 L458.55,452.91 L458.90,453.20 L459.25,453.03 L459.60,452.81 L459.95,452.53 L460.30,452.22 L460.65,451.87 L461.00,451.50 L461.35,451.12 L461.70,450.73 L462.05,450.35 L462.40,449.98 L462.75,449.63 L463.10,449.31 L463.45,449.03 L463.80,448.80 L464.15,448.62 L464.50,448.66 L464.85,448.76 L465.20,448.87 L465.55,449.01 L465.90,449.16 L466.25,449.31 L466.60,449.48 L466.95,449.65 L467.30,449.82 L467.65,449.98 L468.00,450.13 L468.35,450.27 L468.70,450.40 L469.05,450.50 L469.40,450.58 L469.75,450.38 L470.10,449.95 L470.45,449.41 L470.80,448.78 L471.15,448.10 L471.50,447.40 L471.85,446.71 L472.20,446.05 L472.55,445.47 L472.90,444.99 L473.25,444.64 L473.60,444.90 L473.95,445.34 L474.30,445.87 L474.65,446.49 L475.00,447.17 L475.35,447.91 L475.70,448.69 L476.05,449.51 L476.40,450.35 L476.75,451.19 L477.10,452.03 L477.45,452.86 L477.80,453.66 L478.15,454.42 L478.50,455.13 L478.85,455.77 L479.20,456.34 L479.55,456.83 L479.90,457.21 L480.25,457.26 L480.60,457.18 L480.95,457.08 L481.30,456.97 L481.65,456.85 L482.00,456.72 L482.35,456.58 L482.70,456.45 L483.05,456.32 L483.40,456.19 L483.75,456.09 L484.10,455.99 L484.45,455.92 L484.80,455.94 L485.15,456.03 L485.50,456.14 L485.85,456.26 L486.20,456.40 L486.55,456.56 L486.90,456.72 L487.25,456.89 L487.60,457.07 L487.95,457.25 L488.30,457.43 L488.65,457.61 L489.00,457.78 L489.35,457.94 L489.70,458.10 L490.05,458.24 L490.40,458.36 L490.75,458.47 L491.10,458.56 L491.45,458.53 L491.80,458.34 L492.15,458.12 L492.50,457.87 L492.85,457.60 L493.20,457.30 L493.55,456.99 L493.90,456.65 L494.25,456.30 L494.60,455.92 L494.95,455.53 L495.30,455.13 L495.65,454.71 L496.00,454.29 L496.35,453.85 L496.70,453.40 L497.05,452.95 L497.40,452.49 L497.75,452.03 L498.10,451.57 L498.45,451.10 L498.80,450.64 L499.15,450.17 L499.50,449.71 L499.85,449.26 L500.20,448.81 L500.55,448.37 L500.90,447.95 L501.25,447.53 L501.60,447.12 L501.95,446.73 L502.30,446.36 L502.65,446.00 L503.00,445.66 L503.35,445.34 L503.70,445.04 L504.05,444.77 L504.40,444.52 L504.75,444.29 L505.10,444.10 L505.45,444.12 L505.80,444.43 L506.15,444.79 L506.50,445.19 L506.85,445.63 L507.20,446.11 L507.55,446.62 L507.90,447.17 L508.25,447.74 L508.60,448.34 L508.95,448.97 L509.30,449.63 L509.65,450.30 L510.00,451.00 L510.35,451.71 L510.70,452.44 L511.05,453.17 L511.40,453.92 L511.75,454.68 L512.10,455.44 L512.45,456.21 L512.80,456.98 L513.15,457.75 L513.50,458.51 L513.85,459.27 L514.20,460.02 L514.55,460.76 L514.90,461.49 L515.25,462.20 L515.60,462.90 L515.95,463.58 L516.30,464.23 L516.65,464.87 L517.00,465.47 L517.35,466.05 L517.70,466.60 L518.05,467.12 L518.40,467.60 L518.75,468.05 L519.10,468.45 L519.45,468.82 L519.80,469.14 L520.15,469.24 L520.50,469.09 L520.85,468.92 L521.20,468.73 L521.55,468.53 L521.90,468.31 L522.25,468.07 L522.60,467.82 L522.95,467.55 L523.30,467.26 L523.65,466.96 L524.00,466.64 L524.35,466.31 L524.70,465.96 L525.05,465.59 L525.40,465.21 L525.75,464.82 L526.10,464.40 L526.45,463.97 L526.80,463.53 L527.15,463.07 L527.20,463.00" stroke="#10f0f0" stroke-width="1.25"/>
</g>
<line x1="357.88" y1="371.60" x2="357.88" y2="499.70" stroke="#222" stroke-width="0.8" stroke-dasharray="2.7,1.3"/>
<path d="M314.70,499.70v-2.20M314.70,371.60v2.20M357.20,499.70v-2.20M357.20,371.60v2.20M399.70,499.70v-2.20M399.70,371.60v2.20M442.20,499.70v-2.20M442.20,371.60v2.20M484.70,499.70v-2.20M484.70,371.60v2.20M527.20,499.70v-2.20M527.20,371.60v2.20M314.70,499.70h2.20M527.20,499.70h-2.20M314.70,486.89h2.20M527.20,486.89h-2.20M314.70,474.08h2.20M527.20,474.08h-2.20M314.70,461.27h2.20M527.20,461.27h-2.20M314.70,448.46h2.20M527.20,448.46h-2.20M314.70,435.65h2.20M527.20,435.65h-2.20M314.70,422.84h2.20M527.20,422.84h-2.20M314.70,410.03h2.20M527.20,410.03h-2.20M314.70,397.22h2.20M527.20,397.22h-2.20M314.70,384.41h2.20M527.20,384.41h-2.20M314.70,371.60h2.20M527.20,371.60h-2.20" stroke="#777" stroke-width="0.8" fill="none"/>
<rect x="314.70" y="371.60" width="212.50" height="128.10" fill="none" stroke="#707070" stroke-width="1.1"/>
<text x="314.70" y="511.60" text-anchor="middle" class="t">0</text>
<text x="357.20" y="511.60" text-anchor="middle" class="t">0.5</text>
<text x="399.70" y="511.60" text-anchor="middle" class="t">1</text>
<text x="442.20" y="511.60" text-anchor="middle" class="t">1.5</text>
<text x="484.70" y="511.60" text-anchor="middle" class="t">2</text>
<text x="527.20" y="511.60" text-anchor="middle" class="t">2.5</text>
<text x="311.50" y="502.90" text-anchor="end" class="t">-8</text>
<text x="311.50" y="490.09" text-anchor="end" class="t">-6</text>
<text x="311.50" y="477.28" text-anchor="end" class="t">-4</text>
<text x="311.50" y="464.47" text-anchor="end" class="t">-2</text>
<text x="311.50" y="451.66" text-anchor="end" class="t">0</text>
<text x="311.50" y="438.85" text-anchor="end" class="t">2</text>
<text x="311.50" y="426.04" text-anchor="end" class="t">4</text>
<text x="311.50" y="413.23" text-anchor="end" class="t">6</text>
<text x="311.50" y="400.42" text-anchor="end" class="t">8</text>
<text x="311.50" y="387.61" text-anchor="end" class="t">10</text>
<text x="311.50" y="374.80" text-anchor="end" class="t">12</text>
<text x="420.95" y="524.30" text-anchor="middle" class="t">Time (s)</text>
<text transform="translate(297.00,435.65) rotate(-90)" text-anchor="middle" class="t">Strain</text>
<text x="315.60" y="369.60" class="t"><tspan font-size="11.5" dy="1.5" style="stroke-width:0.1px">&#215;</tspan><tspan dy="-1.5">10</tspan><tspan dy="-4.6" font-size="7.2">-4</tspan></text>
<text x="281.60" y="372.80" class="lab">(f)</text>
<text x="316.70" y="381.80" class="v"><tspan font-style="italic">v</tspan>=2.54 m/s</text>
<text x="356.20" y="494.10" text-anchor="end" class="t ob">On bridge</text>
<text x="361.80" y="494.10" class="t ob">Leaving bridge</text>
<line x1="476.30" y1="382.90" x2="495.80" y2="382.90" stroke="#22ea22" stroke-width="1.25"/>
<text x="497.70" y="386.00" class="lg">LPEH</text>
<line x1="476.30" y1="393.40" x2="495.80" y2="393.40" stroke="#f21212" stroke-width="1.10"/>
<text x="497.70" y="396.50" class="lg">BPEH</text>
<line x1="476.30" y1="403.90" x2="495.80" y2="403.90" stroke="#10f0f0" stroke-width="1.25"/>
<text x="497.70" y="407.00" class="lg">TPEH</text>
</svg>
</body></html>
